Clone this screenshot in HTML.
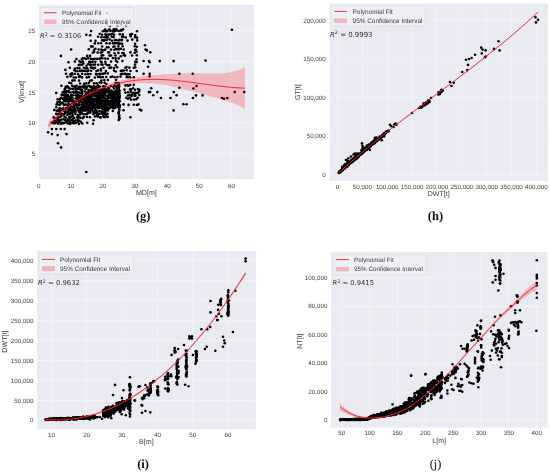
<!DOCTYPE html>
<html lang="en"><head><meta charset="utf-8"><title>Polynomial fits</title>
<style>html,body{margin:0;padding:0;background:#fff}svg{display:block}text{text-rendering:geometricPrecision}.tk text{font:6.25px "Liberation Sans",Arial,sans-serif;fill:#3a3a3a}.al{font:7.1px "Liberation Sans",Arial,sans-serif;fill:#3a3a3a}.lg{font-family:"Liberation Sans",Arial,sans-serif;fill:#3a3a3a}.r2{font-family:"DejaVu Sans","Liberation Sans",sans-serif;fill:#333}.cap{font:bold 12.5px "Liberation Serif","Times New Roman",serif;fill:#111}.rg{font-weight:normal}</style></head><body>
<svg width="550" height="473" viewBox="0 0 550 473">
<rect width="550" height="473" fill="#fff"/>
<defs><filter id="soft" x="0" y="0" width="550" height="473" filterUnits="userSpaceOnUse"><feGaussianBlur stdDeviation="0.3"/></filter></defs><g filter="url(#soft)">
<rect x="38.8" y="4.8" width="215.2" height="174.4" fill="#EAEAF2"/>
<g stroke="#fff" stroke-width="0.5" opacity="0.7"><line x1="70.9" y1="4.8" x2="70.9" y2="179.2"/><line x1="103" y1="4.8" x2="103" y2="179.2"/><line x1="135.1" y1="4.8" x2="135.1" y2="179.2"/><line x1="167.2" y1="4.8" x2="167.2" y2="179.2"/><line x1="199.3" y1="4.8" x2="199.3" y2="179.2"/><line x1="231.4" y1="4.8" x2="231.4" y2="179.2"/><line x1="38.8" y1="153.7" x2="254" y2="153.7"/><line x1="38.8" y1="123" x2="254" y2="123"/><line x1="38.8" y1="92.4" x2="254" y2="92.4"/><line x1="38.8" y1="61.7" x2="254" y2="61.7"/><line x1="38.8" y1="31.1" x2="254" y2="31.1"/></g>
<g class="tk"><text x="38.8" y="187.9" text-anchor="middle">0</text><text x="70.9" y="187.9" text-anchor="middle">10</text><text x="103" y="187.9" text-anchor="middle">20</text><text x="135.1" y="187.9" text-anchor="middle">30</text><text x="167.2" y="187.9" text-anchor="middle">40</text><text x="199.3" y="187.9" text-anchor="middle">50</text><text x="231.4" y="187.9" text-anchor="middle">60</text><text x="35.2" y="155.8" text-anchor="end">5</text><text x="35.2" y="125.2" text-anchor="end">10</text><text x="35.2" y="94.5" text-anchor="end">15</text><text x="35.2" y="63.9" text-anchor="end">20</text><text x="35.2" y="33.2" text-anchor="end">25</text></g>
<text class="al" x="146.4" y="195" text-anchor="middle">MD[m]</text>
<text class="al" transform="translate(24.4 92) rotate(-90)" text-anchor="middle">V[knot]</text>
<text class="cap" x="143.2" y="220.2" text-anchor="middle">(g)</text>
<g fill="#000"><circle cx="72.4" cy="80.6" r="1.3"/><circle cx="74.5" cy="80.4" r="1.3"/><circle cx="79" cy="80.6" r="1.3"/><circle cx="90.1" cy="80.8" r="1.3"/><circle cx="91.8" cy="80.2" r="1.3"/><circle cx="101.4" cy="80.6" r="1.3"/><circle cx="104.3" cy="80.1" r="1.3"/><circle cx="107.8" cy="80" r="1.3"/><circle cx="116.1" cy="80" r="1.3"/><circle cx="69.3" cy="82.8" r="1.3"/><circle cx="71.1" cy="83.2" r="1.3"/><circle cx="80.1" cy="83.5" r="1.3"/><circle cx="84.1" cy="83.9" r="1.3"/><circle cx="86.3" cy="83.4" r="1.3"/><circle cx="89" cy="82.8" r="1.3"/><circle cx="93.9" cy="83.4" r="1.3"/><circle cx="96.5" cy="83.3" r="1.3"/><circle cx="99.6" cy="82.5" r="1.3"/><circle cx="101.4" cy="82.8" r="1.3"/><circle cx="104.6" cy="82.8" r="1.3"/><circle cx="106.3" cy="84.1" r="1.3"/><circle cx="115.6" cy="83" r="1.3"/><circle cx="117.4" cy="83.3" r="1.3"/><circle cx="67.4" cy="86.3" r="1.3"/><circle cx="72.2" cy="85.7" r="1.3"/><circle cx="74.1" cy="86.5" r="1.3"/><circle cx="75.1" cy="86.8" r="1.3"/><circle cx="76.6" cy="85.8" r="1.3"/><circle cx="79.2" cy="86.7" r="1.3"/><circle cx="80.6" cy="87.1" r="1.3"/><circle cx="82.6" cy="86.3" r="1.3"/><circle cx="83.7" cy="86.8" r="1.3"/><circle cx="85.2" cy="86.2" r="1.3"/><circle cx="86.7" cy="86.9" r="1.3"/><circle cx="88.5" cy="85.7" r="1.3"/><circle cx="89.9" cy="86.4" r="1.3"/><circle cx="93.8" cy="86.4" r="1.3"/><circle cx="94.5" cy="86.7" r="1.3"/><circle cx="96.4" cy="86.8" r="1.3"/><circle cx="97.9" cy="85.4" r="1.3"/><circle cx="99.7" cy="86.6" r="1.3"/><circle cx="103" cy="86.2" r="1.3"/><circle cx="104.8" cy="86.5" r="1.3"/><circle cx="110.9" cy="86.1" r="1.3"/><circle cx="114.1" cy="85.9" r="1.3"/><circle cx="115.8" cy="86.2" r="1.3"/><circle cx="117.7" cy="86" r="1.3"/><circle cx="118.6" cy="85.7" r="1.3"/><circle cx="61.4" cy="85.8" r="1.3"/><circle cx="64.8" cy="89" r="1.3"/><circle cx="70.4" cy="88.8" r="1.3"/><circle cx="72.5" cy="88.8" r="1.3"/><circle cx="73.4" cy="89.1" r="1.3"/><circle cx="75.6" cy="89.3" r="1.3"/><circle cx="76.8" cy="89.4" r="1.3"/><circle cx="78.4" cy="89" r="1.3"/><circle cx="80.7" cy="89.8" r="1.3"/><circle cx="81.8" cy="89.8" r="1.3"/><circle cx="85.5" cy="89.1" r="1.3"/><circle cx="86.5" cy="88.8" r="1.3"/><circle cx="88.6" cy="90.1" r="1.3"/><circle cx="91.7" cy="89.2" r="1.3"/><circle cx="95.9" cy="89.7" r="1.3"/><circle cx="97.1" cy="89.6" r="1.3"/><circle cx="99.8" cy="89.9" r="1.3"/><circle cx="101.8" cy="89.2" r="1.3"/><circle cx="103" cy="89.3" r="1.3"/><circle cx="104.8" cy="89.2" r="1.3"/><circle cx="106.4" cy="89.7" r="1.3"/><circle cx="107.4" cy="89.4" r="1.3"/><circle cx="109" cy="88.3" r="1.3"/><circle cx="117.5" cy="89.3" r="1.3"/><circle cx="62.8" cy="92.4" r="1.3"/><circle cx="64.6" cy="92.4" r="1.3"/><circle cx="65.9" cy="92.6" r="1.3"/><circle cx="68.2" cy="91.8" r="1.3"/><circle cx="69.5" cy="92.3" r="1.3"/><circle cx="70.8" cy="92.5" r="1.3"/><circle cx="73" cy="92" r="1.3"/><circle cx="73.9" cy="92.7" r="1.3"/><circle cx="75.9" cy="92.3" r="1.3"/><circle cx="77" cy="92.4" r="1.3"/><circle cx="78.8" cy="92.5" r="1.3"/><circle cx="80.6" cy="93.2" r="1.3"/><circle cx="81.9" cy="91.9" r="1.3"/><circle cx="84.9" cy="91.5" r="1.3"/><circle cx="87.1" cy="92.7" r="1.3"/><circle cx="88.6" cy="92.9" r="1.3"/><circle cx="91.7" cy="92.5" r="1.3"/><circle cx="93.5" cy="93" r="1.3"/><circle cx="95.4" cy="92.8" r="1.3"/><circle cx="97.1" cy="92.2" r="1.3"/><circle cx="99.7" cy="92.7" r="1.3"/><circle cx="101.2" cy="92.3" r="1.3"/><circle cx="103.3" cy="92.9" r="1.3"/><circle cx="104.4" cy="92.2" r="1.3"/><circle cx="106.3" cy="92.2" r="1.3"/><circle cx="107.8" cy="92.2" r="1.3"/><circle cx="109.6" cy="91.3" r="1.3"/><circle cx="111" cy="93.3" r="1.3"/><circle cx="116.1" cy="92" r="1.3"/><circle cx="116.9" cy="92.6" r="1.3"/><circle cx="119.3" cy="91.1" r="1.3"/><circle cx="56.2" cy="93" r="1.3"/><circle cx="61.6" cy="94.8" r="1.3"/><circle cx="62.7" cy="95.1" r="1.3"/><circle cx="64.4" cy="95.6" r="1.3"/><circle cx="65.6" cy="95" r="1.3"/><circle cx="67.8" cy="94.9" r="1.3"/><circle cx="71" cy="95.2" r="1.3"/><circle cx="72.8" cy="95.3" r="1.3"/><circle cx="76" cy="95.2" r="1.3"/><circle cx="77.8" cy="95.1" r="1.3"/><circle cx="78.8" cy="95.6" r="1.3"/><circle cx="81.3" cy="95.5" r="1.3"/><circle cx="83.8" cy="96.3" r="1.3"/><circle cx="85.7" cy="96.1" r="1.3"/><circle cx="87.1" cy="96" r="1.3"/><circle cx="88.4" cy="95.4" r="1.3"/><circle cx="89.9" cy="95.6" r="1.3"/><circle cx="91.4" cy="95.4" r="1.3"/><circle cx="92.9" cy="95.4" r="1.3"/><circle cx="94.7" cy="94.9" r="1.3"/><circle cx="97.1" cy="95.8" r="1.3"/><circle cx="98.1" cy="95.8" r="1.3"/><circle cx="99.7" cy="95.1" r="1.3"/><circle cx="101" cy="95.5" r="1.3"/><circle cx="103.3" cy="95.9" r="1.3"/><circle cx="104.1" cy="95.1" r="1.3"/><circle cx="105.6" cy="95.4" r="1.3"/><circle cx="107.3" cy="96" r="1.3"/><circle cx="109.1" cy="95.2" r="1.3"/><circle cx="110.8" cy="95.1" r="1.3"/><circle cx="112.8" cy="96" r="1.3"/><circle cx="113.6" cy="94.4" r="1.3"/><circle cx="117.4" cy="95.3" r="1.3"/><circle cx="119.7" cy="96" r="1.3"/><circle cx="57.7" cy="99.2" r="1.3"/><circle cx="59.9" cy="99" r="1.3"/><circle cx="61.2" cy="97.7" r="1.3"/><circle cx="63" cy="99.1" r="1.3"/><circle cx="64.1" cy="98.6" r="1.3"/><circle cx="65.8" cy="97.7" r="1.3"/><circle cx="67.6" cy="99" r="1.3"/><circle cx="69.2" cy="98.5" r="1.3"/><circle cx="70.9" cy="99.1" r="1.3"/><circle cx="72.5" cy="97.8" r="1.3"/><circle cx="75.5" cy="98.5" r="1.3"/><circle cx="77.1" cy="98.5" r="1.3"/><circle cx="79.1" cy="98.5" r="1.3"/><circle cx="80.5" cy="98.9" r="1.3"/><circle cx="82.1" cy="98.8" r="1.3"/><circle cx="83.7" cy="99.2" r="1.3"/><circle cx="84.9" cy="98.8" r="1.3"/><circle cx="86.3" cy="98.4" r="1.3"/><circle cx="88.5" cy="98.7" r="1.3"/><circle cx="89.8" cy="98.6" r="1.3"/><circle cx="91.8" cy="99.1" r="1.3"/><circle cx="93.4" cy="98.6" r="1.3"/><circle cx="95.2" cy="99.4" r="1.3"/><circle cx="96.7" cy="98.3" r="1.3"/><circle cx="98" cy="98.6" r="1.3"/><circle cx="99.9" cy="98.4" r="1.3"/><circle cx="101.6" cy="97.8" r="1.3"/><circle cx="104.1" cy="98" r="1.3"/><circle cx="105.4" cy="98.3" r="1.3"/><circle cx="109.2" cy="97.8" r="1.3"/><circle cx="111.1" cy="97.5" r="1.3"/><circle cx="112.6" cy="98.6" r="1.3"/><circle cx="114" cy="98.2" r="1.3"/><circle cx="115.9" cy="97.9" r="1.3"/><circle cx="117.4" cy="98.1" r="1.3"/><circle cx="119.4" cy="98.3" r="1.3"/><circle cx="57.5" cy="102.1" r="1.3"/><circle cx="59.2" cy="101.6" r="1.3"/><circle cx="60.1" cy="101.7" r="1.3"/><circle cx="62" cy="102.8" r="1.3"/><circle cx="64.1" cy="101.3" r="1.3"/><circle cx="65.4" cy="101.1" r="1.3"/><circle cx="67" cy="101.2" r="1.3"/><circle cx="69.2" cy="100.9" r="1.3"/><circle cx="70.4" cy="101.1" r="1.3"/><circle cx="71.9" cy="101" r="1.3"/><circle cx="73.4" cy="101.6" r="1.3"/><circle cx="75.5" cy="101.6" r="1.3"/><circle cx="76.4" cy="101.6" r="1.3"/><circle cx="78.5" cy="101" r="1.3"/><circle cx="79.6" cy="101.4" r="1.3"/><circle cx="81" cy="101" r="1.3"/><circle cx="83.3" cy="101.8" r="1.3"/><circle cx="84.6" cy="100.9" r="1.3"/><circle cx="86" cy="101.4" r="1.3"/><circle cx="88.1" cy="101.4" r="1.3"/><circle cx="89.5" cy="101.7" r="1.3"/><circle cx="91.2" cy="101" r="1.3"/><circle cx="92.6" cy="100.9" r="1.3"/><circle cx="95" cy="101.5" r="1.3"/><circle cx="96.4" cy="101.6" r="1.3"/><circle cx="97.6" cy="101.3" r="1.3"/><circle cx="98.6" cy="102.3" r="1.3"/><circle cx="100.5" cy="101.6" r="1.3"/><circle cx="102.6" cy="101.7" r="1.3"/><circle cx="105.5" cy="102.1" r="1.3"/><circle cx="107.2" cy="102" r="1.3"/><circle cx="108.7" cy="101.2" r="1.3"/><circle cx="110.1" cy="101.8" r="1.3"/><circle cx="112.3" cy="101.6" r="1.3"/><circle cx="114.3" cy="101.7" r="1.3"/><circle cx="115.6" cy="101.3" r="1.3"/><circle cx="116.6" cy="100.5" r="1.3"/><circle cx="118.6" cy="101.2" r="1.3"/><circle cx="119.8" cy="101.2" r="1.3"/><circle cx="56.6" cy="104.2" r="1.3"/><circle cx="57.5" cy="104.4" r="1.3"/><circle cx="59.6" cy="104.9" r="1.3"/><circle cx="60.5" cy="103.9" r="1.3"/><circle cx="63.2" cy="103.5" r="1.3"/><circle cx="63.9" cy="105.1" r="1.3"/><circle cx="65.9" cy="104.6" r="1.3"/><circle cx="67.8" cy="105.4" r="1.3"/><circle cx="69.3" cy="104.8" r="1.3"/><circle cx="70.7" cy="104.9" r="1.3"/><circle cx="72.5" cy="103.6" r="1.3"/><circle cx="74.5" cy="104.2" r="1.3"/><circle cx="76.2" cy="104.6" r="1.3"/><circle cx="77.2" cy="104.6" r="1.3"/><circle cx="78.9" cy="105.2" r="1.3"/><circle cx="81.3" cy="104.6" r="1.3"/><circle cx="82.3" cy="104.2" r="1.3"/><circle cx="83.7" cy="104.1" r="1.3"/><circle cx="85.4" cy="103.8" r="1.3"/><circle cx="87" cy="104.9" r="1.3"/><circle cx="87.9" cy="105" r="1.3"/><circle cx="90.4" cy="104.3" r="1.3"/><circle cx="91.3" cy="104.2" r="1.3"/><circle cx="93.2" cy="104.3" r="1.3"/><circle cx="94.3" cy="104.8" r="1.3"/><circle cx="96.4" cy="104.4" r="1.3"/><circle cx="98.7" cy="104.7" r="1.3"/><circle cx="99.5" cy="105.1" r="1.3"/><circle cx="101.5" cy="105" r="1.3"/><circle cx="103" cy="105.7" r="1.3"/><circle cx="104.6" cy="104.4" r="1.3"/><circle cx="106.4" cy="104.6" r="1.3"/><circle cx="108" cy="104.4" r="1.3"/><circle cx="109" cy="104.7" r="1.3"/><circle cx="111.1" cy="105.4" r="1.3"/><circle cx="112.7" cy="105.3" r="1.3"/><circle cx="114.1" cy="104.7" r="1.3"/><circle cx="115.9" cy="105" r="1.3"/><circle cx="117.2" cy="104.6" r="1.3"/><circle cx="119.9" cy="105.2" r="1.3"/><circle cx="56.2" cy="107.2" r="1.3"/><circle cx="59.7" cy="108.2" r="1.3"/><circle cx="62.2" cy="108.5" r="1.3"/><circle cx="66" cy="108.7" r="1.3"/><circle cx="67.9" cy="107.4" r="1.3"/><circle cx="69" cy="107.3" r="1.3"/><circle cx="70.5" cy="108.1" r="1.3"/><circle cx="72.6" cy="107" r="1.3"/><circle cx="74.4" cy="108" r="1.3"/><circle cx="76.5" cy="107.3" r="1.3"/><circle cx="77.3" cy="107.5" r="1.3"/><circle cx="78.8" cy="108.6" r="1.3"/><circle cx="80.5" cy="107.6" r="1.3"/><circle cx="82.2" cy="107.2" r="1.3"/><circle cx="84" cy="106.5" r="1.3"/><circle cx="85.4" cy="107.6" r="1.3"/><circle cx="86.7" cy="107.7" r="1.3"/><circle cx="88.8" cy="107.9" r="1.3"/><circle cx="90.1" cy="107.6" r="1.3"/><circle cx="91.4" cy="107.7" r="1.3"/><circle cx="93.1" cy="107.8" r="1.3"/><circle cx="94.6" cy="107.6" r="1.3"/><circle cx="96.9" cy="106.4" r="1.3"/><circle cx="98.1" cy="107.3" r="1.3"/><circle cx="99.8" cy="106.8" r="1.3"/><circle cx="101.7" cy="107.7" r="1.3"/><circle cx="103.1" cy="108" r="1.3"/><circle cx="104.8" cy="107.7" r="1.3"/><circle cx="106" cy="108.9" r="1.3"/><circle cx="108" cy="107.6" r="1.3"/><circle cx="109.8" cy="107.9" r="1.3"/><circle cx="111" cy="107" r="1.3"/><circle cx="113" cy="108" r="1.3"/><circle cx="114.6" cy="107.7" r="1.3"/><circle cx="115.7" cy="107.2" r="1.3"/><circle cx="119.2" cy="107.3" r="1.3"/><circle cx="56.6" cy="110.8" r="1.3"/><circle cx="57.9" cy="110.7" r="1.3"/><circle cx="59.5" cy="111" r="1.3"/><circle cx="61.3" cy="110.3" r="1.3"/><circle cx="63.1" cy="109.5" r="1.3"/><circle cx="64.7" cy="110.9" r="1.3"/><circle cx="66.6" cy="111.8" r="1.3"/><circle cx="69.5" cy="110.3" r="1.3"/><circle cx="71" cy="110.4" r="1.3"/><circle cx="72.8" cy="112" r="1.3"/><circle cx="73.8" cy="110.2" r="1.3"/><circle cx="75.4" cy="110.5" r="1.3"/><circle cx="78.4" cy="110.8" r="1.3"/><circle cx="80.5" cy="110.2" r="1.3"/><circle cx="82.5" cy="110.7" r="1.3"/><circle cx="83.9" cy="110.2" r="1.3"/><circle cx="85.3" cy="110.8" r="1.3"/><circle cx="86.7" cy="110.2" r="1.3"/><circle cx="88.7" cy="111.2" r="1.3"/><circle cx="90.3" cy="111" r="1.3"/><circle cx="91.9" cy="109.8" r="1.3"/><circle cx="93.2" cy="111" r="1.3"/><circle cx="95" cy="110.7" r="1.3"/><circle cx="96" cy="110.9" r="1.3"/><circle cx="99.6" cy="111.1" r="1.3"/><circle cx="101.5" cy="111.5" r="1.3"/><circle cx="102.7" cy="111.9" r="1.3"/><circle cx="105.1" cy="111.3" r="1.3"/><circle cx="105.8" cy="110.6" r="1.3"/><circle cx="107.8" cy="110.4" r="1.3"/><circle cx="112.8" cy="110.9" r="1.3"/><circle cx="56.7" cy="114" r="1.3"/><circle cx="58" cy="114.6" r="1.3"/><circle cx="60.4" cy="113.2" r="1.3"/><circle cx="61" cy="114" r="1.3"/><circle cx="62.6" cy="114.2" r="1.3"/><circle cx="67.3" cy="114.7" r="1.3"/><circle cx="68.6" cy="113.4" r="1.3"/><circle cx="71.1" cy="112.8" r="1.3"/><circle cx="72.1" cy="113.3" r="1.3"/><circle cx="75.4" cy="113.9" r="1.3"/><circle cx="77.8" cy="115.1" r="1.3"/><circle cx="80.5" cy="113.7" r="1.3"/><circle cx="82.1" cy="113.2" r="1.3"/><circle cx="83.7" cy="114.2" r="1.3"/><circle cx="85.4" cy="114.3" r="1.3"/><circle cx="87.2" cy="113.6" r="1.3"/><circle cx="89.2" cy="112.5" r="1.3"/><circle cx="90.3" cy="112.4" r="1.3"/><circle cx="93.4" cy="113.9" r="1.3"/><circle cx="96.4" cy="113.4" r="1.3"/><circle cx="98" cy="114.5" r="1.3"/><circle cx="99.5" cy="113.9" r="1.3"/><circle cx="101.5" cy="113.5" r="1.3"/><circle cx="103" cy="113.9" r="1.3"/><circle cx="104.8" cy="114.4" r="1.3"/><circle cx="106.2" cy="114.2" r="1.3"/><circle cx="107.6" cy="113.7" r="1.3"/><circle cx="53.6" cy="117.3" r="1.3"/><circle cx="54.6" cy="118" r="1.3"/><circle cx="58.3" cy="117.6" r="1.3"/><circle cx="60.2" cy="116.7" r="1.3"/><circle cx="61.1" cy="116.3" r="1.3"/><circle cx="64.5" cy="116.7" r="1.3"/><circle cx="65.9" cy="117.5" r="1.3"/><circle cx="69.3" cy="116.8" r="1.3"/><circle cx="70.6" cy="116.9" r="1.3"/><circle cx="72.6" cy="116.3" r="1.3"/><circle cx="73.8" cy="117.8" r="1.3"/><circle cx="77.3" cy="117.4" r="1.3"/><circle cx="78.9" cy="116.6" r="1.3"/><circle cx="80.4" cy="117.9" r="1.3"/><circle cx="82.7" cy="118.1" r="1.3"/><circle cx="83.8" cy="117.1" r="1.3"/><circle cx="86.9" cy="116.9" r="1.3"/><circle cx="89.9" cy="117.2" r="1.3"/><circle cx="94.8" cy="116.4" r="1.3"/><circle cx="96.9" cy="116.1" r="1.3"/><circle cx="98.1" cy="116.4" r="1.3"/><circle cx="99.9" cy="117.2" r="1.3"/><circle cx="100.8" cy="117.4" r="1.3"/><circle cx="103.3" cy="116.3" r="1.3"/><circle cx="104.5" cy="117.3" r="1.3"/><circle cx="106.1" cy="116.5" r="1.3"/><circle cx="107.7" cy="116.9" r="1.3"/><circle cx="54.6" cy="120.7" r="1.3"/><circle cx="56.9" cy="119.8" r="1.3"/><circle cx="58.3" cy="119.2" r="1.3"/><circle cx="61.2" cy="119.8" r="1.3"/><circle cx="63.3" cy="119.3" r="1.3"/><circle cx="64.9" cy="119.6" r="1.3"/><circle cx="67.8" cy="120.1" r="1.3"/><circle cx="69.2" cy="120.4" r="1.3"/><circle cx="72.6" cy="119.4" r="1.3"/><circle cx="74.2" cy="121.3" r="1.3"/><circle cx="75.6" cy="120.5" r="1.3"/><circle cx="77.7" cy="120.2" r="1.3"/><circle cx="93.6" cy="120.3" r="1.3"/><circle cx="51.9" cy="122.5" r="1.3"/><circle cx="53.4" cy="123.3" r="1.3"/><circle cx="55" cy="122.7" r="1.3"/><circle cx="56.6" cy="122.4" r="1.3"/><circle cx="58.1" cy="123.8" r="1.3"/><circle cx="59.2" cy="122.1" r="1.3"/><circle cx="61.7" cy="122.7" r="1.3"/><circle cx="63.2" cy="123.1" r="1.3"/><circle cx="64.5" cy="122.9" r="1.3"/><circle cx="66.1" cy="122.1" r="1.3"/><circle cx="67.8" cy="123.5" r="1.3"/><circle cx="69.6" cy="123" r="1.3"/><circle cx="70.4" cy="122.4" r="1.3"/><circle cx="72.7" cy="122.9" r="1.3"/><circle cx="73.9" cy="122.9" r="1.3"/><circle cx="75.8" cy="122.9" r="1.3"/><circle cx="77.8" cy="122" r="1.3"/><circle cx="78.9" cy="123.9" r="1.3"/><circle cx="81.4" cy="122.6" r="1.3"/><circle cx="82.3" cy="123.5" r="1.3"/><circle cx="87.2" cy="122.8" r="1.3"/><circle cx="93.1" cy="123.7" r="1.3"/><circle cx="65.1" cy="113.1" r="1.3"/><circle cx="67.6" cy="112.5" r="1.3"/><circle cx="70.5" cy="113" r="1.3"/><circle cx="75.4" cy="112" r="1.3"/><circle cx="79.1" cy="112" r="1.3"/><circle cx="80.4" cy="112" r="1.3"/><circle cx="87.5" cy="113.5" r="1.3"/><circle cx="93.7" cy="112.2" r="1.3"/><circle cx="95.2" cy="112.7" r="1.3"/><circle cx="97.5" cy="111.9" r="1.3"/><circle cx="104.6" cy="112.9" r="1.3"/><circle cx="105.5" cy="113.2" r="1.3"/><circle cx="66.1" cy="108.1" r="1.3"/><circle cx="67.7" cy="108.5" r="1.3"/><circle cx="69.2" cy="108.7" r="1.3"/><circle cx="70.8" cy="109.9" r="1.3"/><circle cx="73" cy="109.6" r="1.3"/><circle cx="75.3" cy="109.9" r="1.3"/><circle cx="78.1" cy="108.9" r="1.3"/><circle cx="81.1" cy="108.8" r="1.3"/><circle cx="82.4" cy="109" r="1.3"/><circle cx="83.9" cy="109.5" r="1.3"/><circle cx="84.8" cy="109.5" r="1.3"/><circle cx="86.9" cy="109.7" r="1.3"/><circle cx="88.7" cy="110" r="1.3"/><circle cx="89.9" cy="108.8" r="1.3"/><circle cx="95.4" cy="110" r="1.3"/><circle cx="96.4" cy="110.7" r="1.3"/><circle cx="104.6" cy="110" r="1.3"/><circle cx="106.4" cy="109.1" r="1.3"/><circle cx="107.8" cy="107.9" r="1.3"/><circle cx="69.7" cy="106.7" r="1.3"/><circle cx="70.9" cy="106.7" r="1.3"/><circle cx="74" cy="105.7" r="1.3"/><circle cx="77" cy="106" r="1.3"/><circle cx="82.4" cy="106.2" r="1.3"/><circle cx="83.5" cy="106.6" r="1.3"/><circle cx="85.2" cy="106.4" r="1.3"/><circle cx="86.8" cy="106.3" r="1.3"/><circle cx="90.3" cy="105.2" r="1.3"/><circle cx="92.2" cy="106.3" r="1.3"/><circle cx="94.2" cy="106.8" r="1.3"/><circle cx="95.5" cy="105.9" r="1.3"/><circle cx="97" cy="106.5" r="1.3"/><circle cx="97.9" cy="106.5" r="1.3"/><circle cx="99.7" cy="106.1" r="1.3"/><circle cx="100.9" cy="105" r="1.3"/><circle cx="104.5" cy="106.2" r="1.3"/><circle cx="106.3" cy="107.1" r="1.3"/><circle cx="111.4" cy="105.9" r="1.3"/><circle cx="113.1" cy="106.8" r="1.3"/><circle cx="117.3" cy="106.1" r="1.3"/><circle cx="119.6" cy="106.7" r="1.3"/><circle cx="68.4" cy="103.1" r="1.3"/><circle cx="73" cy="103.7" r="1.3"/><circle cx="74.6" cy="103" r="1.3"/><circle cx="75.8" cy="103.6" r="1.3"/><circle cx="79.2" cy="103.1" r="1.3"/><circle cx="81.9" cy="102" r="1.3"/><circle cx="84.3" cy="103.7" r="1.3"/><circle cx="85.6" cy="102.7" r="1.3"/><circle cx="86.7" cy="103.1" r="1.3"/><circle cx="90.4" cy="103.3" r="1.3"/><circle cx="92.2" cy="102.7" r="1.3"/><circle cx="101.1" cy="103" r="1.3"/><circle cx="102.4" cy="103.2" r="1.3"/><circle cx="104.5" cy="104" r="1.3"/><circle cx="107.8" cy="103.7" r="1.3"/><circle cx="109" cy="103.2" r="1.3"/><circle cx="110.8" cy="103.4" r="1.3"/><circle cx="112.5" cy="103.2" r="1.3"/><circle cx="115.1" cy="103.5" r="1.3"/><circle cx="118.8" cy="103.6" r="1.3"/><circle cx="64.2" cy="99.9" r="1.3"/><circle cx="65.8" cy="99.9" r="1.3"/><circle cx="67.8" cy="100.4" r="1.3"/><circle cx="69" cy="100.5" r="1.3"/><circle cx="71.2" cy="100.5" r="1.3"/><circle cx="72.9" cy="100.3" r="1.3"/><circle cx="77.2" cy="98.8" r="1.3"/><circle cx="78.8" cy="100.3" r="1.3"/><circle cx="84.4" cy="99.9" r="1.3"/><circle cx="87.1" cy="100.8" r="1.3"/><circle cx="88.5" cy="100.1" r="1.3"/><circle cx="91.6" cy="100.3" r="1.3"/><circle cx="95.1" cy="100.7" r="1.3"/><circle cx="98.2" cy="100.2" r="1.3"/><circle cx="103.4" cy="100.6" r="1.3"/><circle cx="104.9" cy="100.3" r="1.3"/><circle cx="105.7" cy="101" r="1.3"/><circle cx="107.7" cy="100.2" r="1.3"/><circle cx="109.5" cy="101.2" r="1.3"/><circle cx="112.4" cy="100.2" r="1.3"/><circle cx="113.8" cy="100.6" r="1.3"/><circle cx="116" cy="99.7" r="1.3"/><circle cx="118.8" cy="99.8" r="1.3"/><circle cx="64.9" cy="97.2" r="1.3"/><circle cx="66.2" cy="96.4" r="1.3"/><circle cx="68" cy="96.9" r="1.3"/><circle cx="69.7" cy="97" r="1.3"/><circle cx="71" cy="96.9" r="1.3"/><circle cx="77.5" cy="96.8" r="1.3"/><circle cx="78.2" cy="97" r="1.3"/><circle cx="80.3" cy="96.9" r="1.3"/><circle cx="82.4" cy="97.3" r="1.3"/><circle cx="85.6" cy="97.1" r="1.3"/><circle cx="86.7" cy="97.3" r="1.3"/><circle cx="89.9" cy="97.1" r="1.3"/><circle cx="92.1" cy="96" r="1.3"/><circle cx="95.4" cy="96.3" r="1.3"/><circle cx="97.9" cy="97" r="1.3"/><circle cx="99.3" cy="96.4" r="1.3"/><circle cx="102.1" cy="96.9" r="1.3"/><circle cx="103.3" cy="96" r="1.3"/><circle cx="108.3" cy="97.2" r="1.3"/><circle cx="111.1" cy="97.6" r="1.3"/><circle cx="112.4" cy="96.8" r="1.3"/><circle cx="116.1" cy="97.8" r="1.3"/><circle cx="117.7" cy="96.7" r="1.3"/><circle cx="118.9" cy="97.5" r="1.3"/><circle cx="64.1" cy="95.1" r="1.3"/><circle cx="75.8" cy="95.2" r="1.3"/><circle cx="76.9" cy="94.5" r="1.3"/><circle cx="80" cy="92.9" r="1.3"/><circle cx="82.2" cy="93.8" r="1.3"/><circle cx="85.7" cy="94.3" r="1.3"/><circle cx="86.7" cy="94.1" r="1.3"/><circle cx="88.7" cy="93.8" r="1.3"/><circle cx="93.5" cy="94.3" r="1.3"/><circle cx="94.6" cy="93.3" r="1.3"/><circle cx="98" cy="93.8" r="1.3"/><circle cx="99.5" cy="93.6" r="1.3"/><circle cx="104.5" cy="93.7" r="1.3"/><circle cx="109.2" cy="94.6" r="1.3"/><circle cx="111.1" cy="94.4" r="1.3"/><circle cx="113" cy="93.3" r="1.3"/><circle cx="114.1" cy="94.5" r="1.3"/><circle cx="115.9" cy="93.3" r="1.3"/><circle cx="119.3" cy="93.5" r="1.3"/><circle cx="64.6" cy="90.7" r="1.3"/><circle cx="66.4" cy="91.1" r="1.3"/><circle cx="68.8" cy="90.9" r="1.3"/><circle cx="75.6" cy="91.5" r="1.3"/><circle cx="82.4" cy="91.4" r="1.3"/><circle cx="90.3" cy="91.4" r="1.3"/><circle cx="92.6" cy="90.5" r="1.3"/><circle cx="94.8" cy="91.6" r="1.3"/><circle cx="98.5" cy="90" r="1.3"/><circle cx="100.1" cy="91" r="1.3"/><circle cx="105" cy="90.7" r="1.3"/><circle cx="106.1" cy="90.6" r="1.3"/><circle cx="107.7" cy="90.8" r="1.3"/><circle cx="109.4" cy="91.2" r="1.3"/><circle cx="111.5" cy="90.6" r="1.3"/><circle cx="115.8" cy="90.7" r="1.3"/><circle cx="65.2" cy="88.2" r="1.3"/><circle cx="65.8" cy="86.8" r="1.3"/><circle cx="67.7" cy="87.2" r="1.3"/><circle cx="68.9" cy="87.9" r="1.3"/><circle cx="77.2" cy="88.2" r="1.3"/><circle cx="79.4" cy="88.8" r="1.3"/><circle cx="80.4" cy="87.5" r="1.3"/><circle cx="83.4" cy="87.4" r="1.3"/><circle cx="85.3" cy="87.5" r="1.3"/><circle cx="86.5" cy="87.4" r="1.3"/><circle cx="90.5" cy="87.1" r="1.3"/><circle cx="91.5" cy="86.9" r="1.3"/><circle cx="93.1" cy="88.4" r="1.3"/><circle cx="94.8" cy="88.6" r="1.3"/><circle cx="97.8" cy="87.2" r="1.3"/><circle cx="104.5" cy="87.7" r="1.3"/><circle cx="108" cy="88.4" r="1.3"/><circle cx="113.2" cy="87" r="1.3"/><circle cx="114.2" cy="88.5" r="1.3"/><circle cx="115.9" cy="86.3" r="1.3"/><circle cx="116.8" cy="88.1" r="1.3"/><circle cx="118.6" cy="88.2" r="1.3"/><circle cx="55" cy="123.2" r="1.3"/><circle cx="60.8" cy="123.7" r="1.3"/><circle cx="62.4" cy="123.1" r="1.3"/><circle cx="67.3" cy="121.8" r="1.3"/><circle cx="70.3" cy="124" r="1.3"/><circle cx="73.1" cy="122.7" r="1.3"/><circle cx="73.9" cy="123.2" r="1.3"/><circle cx="54.5" cy="121.2" r="1.3"/><circle cx="56.2" cy="122.1" r="1.3"/><circle cx="58.1" cy="120.4" r="1.3"/><circle cx="59.7" cy="120.6" r="1.3"/><circle cx="65.9" cy="120.3" r="1.3"/><circle cx="68" cy="119.2" r="1.3"/><circle cx="71.4" cy="120" r="1.3"/><circle cx="72.2" cy="120.2" r="1.3"/><circle cx="77.8" cy="120.5" r="1.3"/><circle cx="78.8" cy="120.6" r="1.3"/><circle cx="80.5" cy="121.5" r="1.3"/><circle cx="57.7" cy="118.1" r="1.3"/><circle cx="69.9" cy="117.7" r="1.3"/><circle cx="72.6" cy="115" r="1.3"/><circle cx="74.3" cy="118" r="1.3"/><circle cx="78" cy="117.5" r="1.3"/><circle cx="56.3" cy="113.8" r="1.3"/><circle cx="58.6" cy="113.9" r="1.3"/><circle cx="61.2" cy="113.7" r="1.3"/><circle cx="64.1" cy="114.6" r="1.3"/><circle cx="69.6" cy="113.9" r="1.3"/><circle cx="80.3" cy="114.3" r="1.3"/><circle cx="54.3" cy="110" r="1.3"/><circle cx="58.4" cy="110.1" r="1.3"/><circle cx="63.2" cy="108.5" r="1.3"/><circle cx="64.5" cy="111" r="1.3"/><circle cx="68.1" cy="111.6" r="1.3"/><circle cx="72.9" cy="110.1" r="1.3"/><circle cx="80.1" cy="110.3" r="1.3"/><circle cx="87.1" cy="107.4" r="1.3"/><circle cx="88.7" cy="107.2" r="1.3"/><circle cx="90.7" cy="108.7" r="1.3"/><circle cx="91.7" cy="107.8" r="1.3"/><circle cx="92.8" cy="107.9" r="1.3"/><circle cx="95.1" cy="108.5" r="1.3"/><circle cx="98.1" cy="108.1" r="1.3"/><circle cx="99.4" cy="108" r="1.3"/><circle cx="102.5" cy="107.8" r="1.3"/><circle cx="108" cy="107.8" r="1.3"/><circle cx="109" cy="108.6" r="1.3"/><circle cx="110.8" cy="107.6" r="1.3"/><circle cx="114.7" cy="108.1" r="1.3"/><circle cx="115.6" cy="107.2" r="1.3"/><circle cx="88.7" cy="104.7" r="1.3"/><circle cx="93" cy="106.3" r="1.3"/><circle cx="97.2" cy="107.2" r="1.3"/><circle cx="99.6" cy="106.1" r="1.3"/><circle cx="101.4" cy="105.9" r="1.3"/><circle cx="105.1" cy="104.9" r="1.3"/><circle cx="110.8" cy="106.5" r="1.3"/><circle cx="112.4" cy="106.2" r="1.3"/><circle cx="115.9" cy="106.5" r="1.3"/><circle cx="118.1" cy="106.8" r="1.3"/><circle cx="87.3" cy="103.5" r="1.3"/><circle cx="92.1" cy="105.1" r="1.3"/><circle cx="93.8" cy="104.6" r="1.3"/><circle cx="97.1" cy="105.2" r="1.3"/><circle cx="99.5" cy="104.6" r="1.3"/><circle cx="101.1" cy="105.5" r="1.3"/><circle cx="105.2" cy="104.3" r="1.3"/><circle cx="106" cy="104.7" r="1.3"/><circle cx="112.5" cy="105.2" r="1.3"/><circle cx="114.2" cy="104" r="1.3"/><circle cx="117.5" cy="104.7" r="1.3"/><circle cx="87.2" cy="102.7" r="1.3"/><circle cx="93.4" cy="103.3" r="1.3"/><circle cx="96.6" cy="103.7" r="1.3"/><circle cx="98.5" cy="103.4" r="1.3"/><circle cx="109.5" cy="103" r="1.3"/><circle cx="110.8" cy="105.1" r="1.3"/><circle cx="114.3" cy="102.5" r="1.3"/><circle cx="117.4" cy="103.2" r="1.3"/><circle cx="88.9" cy="101.6" r="1.3"/><circle cx="91.8" cy="101.6" r="1.3"/><circle cx="93.6" cy="101.4" r="1.3"/><circle cx="98.1" cy="101.7" r="1.3"/><circle cx="101.6" cy="101.8" r="1.3"/><circle cx="104.8" cy="101.6" r="1.3"/><circle cx="105.8" cy="101.3" r="1.3"/><circle cx="107.7" cy="102.2" r="1.3"/><circle cx="110.6" cy="101" r="1.3"/><circle cx="114.5" cy="101.9" r="1.3"/><circle cx="86.9" cy="99.5" r="1.3"/><circle cx="92" cy="99.2" r="1.3"/><circle cx="97.1" cy="99.3" r="1.3"/><circle cx="99.8" cy="100.1" r="1.3"/><circle cx="101.3" cy="99.7" r="1.3"/><circle cx="104.7" cy="100.2" r="1.3"/><circle cx="106.1" cy="99.6" r="1.3"/><circle cx="112.9" cy="100.6" r="1.3"/><circle cx="115.3" cy="100.5" r="1.3"/><circle cx="87.2" cy="98.6" r="1.3"/><circle cx="91.5" cy="98.5" r="1.3"/><circle cx="94.8" cy="99.1" r="1.3"/><circle cx="99.5" cy="98.2" r="1.3"/><circle cx="101.3" cy="98.3" r="1.3"/><circle cx="104.6" cy="98.9" r="1.3"/><circle cx="107.6" cy="98.6" r="1.3"/><circle cx="110.8" cy="98.5" r="1.3"/><circle cx="87.3" cy="96.4" r="1.3"/><circle cx="88.9" cy="97" r="1.3"/><circle cx="90.2" cy="96.8" r="1.3"/><circle cx="99.8" cy="97.9" r="1.3"/><circle cx="103" cy="96" r="1.3"/><circle cx="112.4" cy="97.3" r="1.3"/><circle cx="114" cy="97" r="1.3"/><circle cx="119" cy="96.7" r="1.3"/><circle cx="86.7" cy="95.7" r="1.3"/><circle cx="91.7" cy="95.4" r="1.3"/><circle cx="94.8" cy="94.8" r="1.3"/><circle cx="98.2" cy="95.1" r="1.3"/><circle cx="101.5" cy="94.9" r="1.3"/><circle cx="112.6" cy="95.9" r="1.3"/><circle cx="114.4" cy="96.3" r="1.3"/><circle cx="115.7" cy="94.4" r="1.3"/><circle cx="88.4" cy="95.1" r="1.3"/><circle cx="97.3" cy="93.6" r="1.3"/><circle cx="100" cy="94.2" r="1.3"/><circle cx="102.4" cy="92.8" r="1.3"/><circle cx="109" cy="94.2" r="1.3"/><circle cx="113" cy="94.1" r="1.3"/><circle cx="114.4" cy="94.5" r="1.3"/><circle cx="117.8" cy="93.6" r="1.3"/><circle cx="91.7" cy="92.8" r="1.3"/><circle cx="93.6" cy="92.7" r="1.3"/><circle cx="94.9" cy="92.5" r="1.3"/><circle cx="99.7" cy="91.5" r="1.3"/><circle cx="101.3" cy="91.5" r="1.3"/><circle cx="104.9" cy="92.2" r="1.3"/><circle cx="109.8" cy="92.6" r="1.3"/><circle cx="110.1" cy="91.8" r="1.3"/><circle cx="112.9" cy="91.8" r="1.3"/><circle cx="114.2" cy="91.8" r="1.3"/><circle cx="115.7" cy="91.8" r="1.3"/><circle cx="119.2" cy="92.5" r="1.3"/><circle cx="88.4" cy="91.7" r="1.3"/><circle cx="91.3" cy="90.7" r="1.3"/><circle cx="94.6" cy="91" r="1.3"/><circle cx="98" cy="91.5" r="1.3"/><circle cx="102.8" cy="90.6" r="1.3"/><circle cx="104.9" cy="91.5" r="1.3"/><circle cx="106.2" cy="91.4" r="1.3"/><circle cx="109.3" cy="90.6" r="1.3"/><circle cx="117.1" cy="91.6" r="1.3"/><circle cx="87.6" cy="108.9" r="1.3"/><circle cx="88.8" cy="109.7" r="1.3"/><circle cx="91" cy="109" r="1.3"/><circle cx="101.9" cy="108.4" r="1.3"/><circle cx="103.1" cy="109.1" r="1.3"/><circle cx="105.1" cy="108.8" r="1.3"/><circle cx="106.3" cy="108.6" r="1.3"/><circle cx="118.7" cy="119.9" r="1.3"/><circle cx="119.6" cy="118.4" r="1.3"/><circle cx="119" cy="116.9" r="1.3"/><circle cx="119.3" cy="115.3" r="1.3"/><circle cx="118.6" cy="113.8" r="1.3"/><circle cx="118.7" cy="112.3" r="1.3"/><circle cx="119.2" cy="110.7" r="1.3"/><circle cx="119.3" cy="109.2" r="1.3"/><circle cx="118.9" cy="107.7" r="1.3"/><circle cx="118.8" cy="104.6" r="1.3"/><circle cx="118.8" cy="103.1" r="1.3"/><circle cx="118.8" cy="101.5" r="1.3"/><circle cx="119" cy="100" r="1.3"/><circle cx="118.7" cy="98.5" r="1.3"/><circle cx="119.2" cy="96.9" r="1.3"/><circle cx="119.3" cy="95.4" r="1.3"/><circle cx="119" cy="93.9" r="1.3"/><circle cx="118.7" cy="92.4" r="1.3"/><circle cx="119.4" cy="90.8" r="1.3"/><circle cx="118.8" cy="89.3" r="1.3"/><circle cx="118.6" cy="87.8" r="1.3"/><circle cx="119.2" cy="86.2" r="1.3"/><circle cx="118.9" cy="84.7" r="1.3"/><circle cx="118.8" cy="83.2" r="1.3"/><circle cx="67.4" cy="76.9" r="1.3"/><circle cx="70.7" cy="76.3" r="1.3"/><circle cx="73.7" cy="77.5" r="1.3"/><circle cx="75.9" cy="77.5" r="1.3"/><circle cx="79" cy="76.9" r="1.3"/><circle cx="80" cy="76.4" r="1.3"/><circle cx="82" cy="77.4" r="1.3"/><circle cx="86.8" cy="77.4" r="1.3"/><circle cx="89.1" cy="77.1" r="1.3"/><circle cx="94.8" cy="77.6" r="1.3"/><circle cx="98.1" cy="76.9" r="1.3"/><circle cx="99.9" cy="76.9" r="1.3"/><circle cx="100.7" cy="77.2" r="1.3"/><circle cx="102.8" cy="77.1" r="1.3"/><circle cx="106.2" cy="77" r="1.3"/><circle cx="110.7" cy="77" r="1.3"/><circle cx="112.4" cy="76.6" r="1.3"/><circle cx="114.7" cy="77.3" r="1.3"/><circle cx="117.4" cy="77.1" r="1.3"/><circle cx="120.6" cy="76.6" r="1.3"/><circle cx="126.7" cy="76.9" r="1.3"/><circle cx="128.2" cy="77.3" r="1.3"/><circle cx="130.1" cy="77.3" r="1.3"/><circle cx="133.8" cy="77.3" r="1.3"/><circle cx="70.3" cy="74.2" r="1.3"/><circle cx="71.9" cy="73.4" r="1.3"/><circle cx="72.4" cy="74.5" r="1.3"/><circle cx="74.8" cy="73.7" r="1.3"/><circle cx="78.1" cy="74.3" r="1.3"/><circle cx="82.1" cy="73.7" r="1.3"/><circle cx="85.5" cy="74.2" r="1.3"/><circle cx="88" cy="74.1" r="1.3"/><circle cx="90.5" cy="74" r="1.3"/><circle cx="96" cy="73.9" r="1.3"/><circle cx="96.7" cy="74.4" r="1.3"/><circle cx="99.4" cy="73.9" r="1.3"/><circle cx="100.4" cy="74.1" r="1.3"/><circle cx="102.4" cy="73.8" r="1.3"/><circle cx="103.6" cy="73.8" r="1.3"/><circle cx="105.1" cy="73.3" r="1.3"/><circle cx="107.8" cy="73.4" r="1.3"/><circle cx="120.9" cy="74.3" r="1.3"/><circle cx="122.2" cy="73.9" r="1.3"/><circle cx="124.4" cy="73.8" r="1.3"/><circle cx="125.5" cy="73.9" r="1.3"/><circle cx="126.9" cy="74.2" r="1.3"/><circle cx="128.1" cy="74.2" r="1.3"/><circle cx="129.4" cy="74.2" r="1.3"/><circle cx="74.4" cy="70.3" r="1.3"/><circle cx="75.5" cy="70.8" r="1.3"/><circle cx="77.4" cy="71.3" r="1.3"/><circle cx="80" cy="71" r="1.3"/><circle cx="81.5" cy="70.5" r="1.3"/><circle cx="83.1" cy="70.9" r="1.3"/><circle cx="85" cy="70.9" r="1.3"/><circle cx="87.1" cy="71.2" r="1.3"/><circle cx="88.4" cy="70.6" r="1.3"/><circle cx="91.2" cy="70.7" r="1.3"/><circle cx="96.5" cy="71" r="1.3"/><circle cx="98" cy="70.4" r="1.3"/><circle cx="101" cy="70.4" r="1.3"/><circle cx="105.9" cy="71" r="1.3"/><circle cx="114" cy="70.6" r="1.3"/><circle cx="115.8" cy="71.5" r="1.3"/><circle cx="120.8" cy="70.9" r="1.3"/><circle cx="122.4" cy="70.7" r="1.3"/><circle cx="123.8" cy="70.5" r="1.3"/><circle cx="126.7" cy="70.2" r="1.3"/><circle cx="130.4" cy="71" r="1.3"/><circle cx="136.7" cy="71" r="1.3"/><circle cx="74.9" cy="68.6" r="1.3"/><circle cx="77.5" cy="68" r="1.3"/><circle cx="79.4" cy="68.4" r="1.3"/><circle cx="83.8" cy="67.7" r="1.3"/><circle cx="86.1" cy="68.2" r="1.3"/><circle cx="87.3" cy="68.2" r="1.3"/><circle cx="91" cy="67.6" r="1.3"/><circle cx="92.6" cy="67.8" r="1.3"/><circle cx="93.5" cy="68.4" r="1.3"/><circle cx="95.1" cy="67.9" r="1.3"/><circle cx="100.8" cy="68.8" r="1.3"/><circle cx="103.6" cy="67.8" r="1.3"/><circle cx="109.4" cy="67.9" r="1.3"/><circle cx="111.1" cy="67.6" r="1.3"/><circle cx="114" cy="68.1" r="1.3"/><circle cx="117.1" cy="67.3" r="1.3"/><circle cx="69.9" cy="67.8" r="1.3"/><circle cx="125.5" cy="67.7" r="1.3"/><circle cx="126.6" cy="67" r="1.3"/><circle cx="129.3" cy="67.6" r="1.3"/><circle cx="133.9" cy="67.7" r="1.3"/><circle cx="135.2" cy="67.3" r="1.3"/><circle cx="78.7" cy="65" r="1.3"/><circle cx="79.9" cy="64.9" r="1.3"/><circle cx="82.1" cy="64.8" r="1.3"/><circle cx="83.4" cy="63.6" r="1.3"/><circle cx="86.5" cy="65.8" r="1.3"/><circle cx="88.3" cy="64.1" r="1.3"/><circle cx="90.5" cy="64.9" r="1.3"/><circle cx="90.6" cy="64.7" r="1.3"/><circle cx="93.3" cy="64.7" r="1.3"/><circle cx="95" cy="64.5" r="1.3"/><circle cx="98.2" cy="64.8" r="1.3"/><circle cx="101.5" cy="64.5" r="1.3"/><circle cx="102.5" cy="64.8" r="1.3"/><circle cx="105.7" cy="64" r="1.3"/><circle cx="107.6" cy="65.2" r="1.3"/><circle cx="109.3" cy="65" r="1.3"/><circle cx="115.7" cy="65.2" r="1.3"/><circle cx="135" cy="64.6" r="1.3"/><circle cx="80.8" cy="62.2" r="1.3"/><circle cx="82.8" cy="61.5" r="1.3"/><circle cx="89.3" cy="61.9" r="1.3"/><circle cx="90.6" cy="62.1" r="1.3"/><circle cx="92.5" cy="61.9" r="1.3"/><circle cx="95.3" cy="61.8" r="1.3"/><circle cx="100.7" cy="61.5" r="1.3"/><circle cx="101.7" cy="62.2" r="1.3"/><circle cx="105.3" cy="61.7" r="1.3"/><circle cx="111.1" cy="61.6" r="1.3"/><circle cx="116" cy="60.7" r="1.3"/><circle cx="117.4" cy="62" r="1.3"/><circle cx="122.4" cy="61" r="1.3"/><circle cx="79.3" cy="61.1" r="1.3"/><circle cx="135.3" cy="61.7" r="1.3"/><circle cx="136.6" cy="62.1" r="1.3"/><circle cx="81.7" cy="59.4" r="1.3"/><circle cx="82.8" cy="58.4" r="1.3"/><circle cx="84.6" cy="58.2" r="1.3"/><circle cx="86.1" cy="59" r="1.3"/><circle cx="88.2" cy="58.3" r="1.3"/><circle cx="90.9" cy="58.9" r="1.3"/><circle cx="92.8" cy="59.3" r="1.3"/><circle cx="94.7" cy="58.7" r="1.3"/><circle cx="97.2" cy="58.9" r="1.3"/><circle cx="99.6" cy="58.8" r="1.3"/><circle cx="100.8" cy="58.1" r="1.3"/><circle cx="102.4" cy="58.3" r="1.3"/><circle cx="105.3" cy="58.5" r="1.3"/><circle cx="107.8" cy="58.8" r="1.3"/><circle cx="113" cy="58.1" r="1.3"/><circle cx="115.6" cy="58.4" r="1.3"/><circle cx="118.6" cy="58.4" r="1.3"/><circle cx="76.4" cy="59" r="1.3"/><circle cx="136.6" cy="59.4" r="1.3"/><circle cx="87.2" cy="55.9" r="1.3"/><circle cx="90.1" cy="55.9" r="1.3"/><circle cx="101.6" cy="55.6" r="1.3"/><circle cx="103.1" cy="55.2" r="1.3"/><circle cx="109.5" cy="55.6" r="1.3"/><circle cx="111" cy="55.5" r="1.3"/><circle cx="115.5" cy="55.5" r="1.3"/><circle cx="120.8" cy="56.2" r="1.3"/><circle cx="123.8" cy="55.2" r="1.3"/><circle cx="125.1" cy="55.6" r="1.3"/><circle cx="132.1" cy="55.5" r="1.3"/><circle cx="136.8" cy="55.2" r="1.3"/><circle cx="92.8" cy="52.7" r="1.3"/><circle cx="94.1" cy="51.9" r="1.3"/><circle cx="97.7" cy="52.6" r="1.3"/><circle cx="100.8" cy="52.6" r="1.3"/><circle cx="102" cy="52.3" r="1.3"/><circle cx="108.2" cy="52.5" r="1.3"/><circle cx="109.1" cy="52.3" r="1.3"/><circle cx="114.5" cy="53.2" r="1.3"/><circle cx="118.4" cy="52.9" r="1.3"/><circle cx="122.3" cy="53" r="1.3"/><circle cx="123.7" cy="53.2" r="1.3"/><circle cx="130.4" cy="52.4" r="1.3"/><circle cx="134.7" cy="52.8" r="1.3"/><circle cx="136.6" cy="51.8" r="1.3"/><circle cx="88.8" cy="49.2" r="1.3"/><circle cx="94" cy="49.8" r="1.3"/><circle cx="95.4" cy="48.9" r="1.3"/><circle cx="98.7" cy="49.5" r="1.3"/><circle cx="101.4" cy="49.6" r="1.3"/><circle cx="103.5" cy="50.2" r="1.3"/><circle cx="105.3" cy="49.6" r="1.3"/><circle cx="111" cy="49.6" r="1.3"/><circle cx="114.3" cy="49.7" r="1.3"/><circle cx="115.8" cy="49" r="1.3"/><circle cx="117.2" cy="49.3" r="1.3"/><circle cx="119.2" cy="49.3" r="1.3"/><circle cx="120.8" cy="48.8" r="1.3"/><circle cx="123.7" cy="49.6" r="1.3"/><circle cx="135.2" cy="49.7" r="1.3"/><circle cx="136" cy="49.8" r="1.3"/><circle cx="91.1" cy="46.4" r="1.3"/><circle cx="92.7" cy="46.6" r="1.3"/><circle cx="102.2" cy="46.5" r="1.3"/><circle cx="106.9" cy="47.2" r="1.3"/><circle cx="108.5" cy="47.2" r="1.3"/><circle cx="113.3" cy="46.7" r="1.3"/><circle cx="114.6" cy="46.5" r="1.3"/><circle cx="118.4" cy="46.4" r="1.3"/><circle cx="122.7" cy="46.2" r="1.3"/><circle cx="134.8" cy="46.3" r="1.3"/><circle cx="136.8" cy="46.8" r="1.3"/><circle cx="94.9" cy="43.4" r="1.3"/><circle cx="98.3" cy="43.3" r="1.3"/><circle cx="101.1" cy="43.2" r="1.3"/><circle cx="106.5" cy="43.2" r="1.3"/><circle cx="109.7" cy="43.4" r="1.3"/><circle cx="113" cy="43.2" r="1.3"/><circle cx="114.4" cy="43.3" r="1.3"/><circle cx="115.8" cy="43.1" r="1.3"/><circle cx="117.5" cy="43.3" r="1.3"/><circle cx="118.9" cy="43.7" r="1.3"/><circle cx="119.9" cy="43.4" r="1.3"/><circle cx="122.1" cy="43.7" r="1.3"/><circle cx="135.1" cy="43.8" r="1.3"/><circle cx="95.5" cy="40.8" r="1.3"/><circle cx="102.1" cy="40.2" r="1.3"/><circle cx="103.4" cy="40.6" r="1.3"/><circle cx="104.4" cy="40.4" r="1.3"/><circle cx="106.7" cy="39.9" r="1.3"/><circle cx="109.8" cy="39.5" r="1.3"/><circle cx="112" cy="40.7" r="1.3"/><circle cx="114.8" cy="40.3" r="1.3"/><circle cx="116.1" cy="40" r="1.3"/><circle cx="118.2" cy="40.5" r="1.3"/><circle cx="119.5" cy="39.9" r="1.3"/><circle cx="121.6" cy="40.1" r="1.3"/><circle cx="122" cy="39.9" r="1.3"/><circle cx="90.7" cy="40.8" r="1.3"/><circle cx="127.5" cy="40.6" r="1.3"/><circle cx="132.2" cy="39.6" r="1.3"/><circle cx="137.2" cy="40.4" r="1.3"/><circle cx="98.1" cy="36.8" r="1.3"/><circle cx="101.4" cy="37.3" r="1.3"/><circle cx="104.1" cy="37.3" r="1.3"/><circle cx="106" cy="37.2" r="1.3"/><circle cx="107.8" cy="37.4" r="1.3"/><circle cx="111.8" cy="36.7" r="1.3"/><circle cx="113.6" cy="37.2" r="1.3"/><circle cx="122" cy="36.8" r="1.3"/><circle cx="123.3" cy="36.8" r="1.3"/><circle cx="125.7" cy="37.5" r="1.3"/><circle cx="130.7" cy="36.3" r="1.3"/><circle cx="135.1" cy="37.2" r="1.3"/><circle cx="137" cy="37.6" r="1.3"/><circle cx="99.8" cy="33.7" r="1.3"/><circle cx="102.1" cy="34.7" r="1.3"/><circle cx="105.5" cy="34.4" r="1.3"/><circle cx="106.5" cy="35" r="1.3"/><circle cx="108.4" cy="34.5" r="1.3"/><circle cx="109.6" cy="34.5" r="1.3"/><circle cx="111.3" cy="34.4" r="1.3"/><circle cx="112.6" cy="33.8" r="1.3"/><circle cx="114.1" cy="34.8" r="1.3"/><circle cx="119.9" cy="34.3" r="1.3"/><circle cx="122.8" cy="34.5" r="1.3"/><circle cx="130.2" cy="34.5" r="1.3"/><circle cx="132" cy="34" r="1.3"/><circle cx="135.2" cy="35.1" r="1.3"/><circle cx="102.9" cy="31.2" r="1.3"/><circle cx="104" cy="30.8" r="1.3"/><circle cx="105.6" cy="31.3" r="1.3"/><circle cx="107.1" cy="31.2" r="1.3"/><circle cx="110.4" cy="30.9" r="1.3"/><circle cx="112.6" cy="30.7" r="1.3"/><circle cx="113.8" cy="31.5" r="1.3"/><circle cx="115.6" cy="30.5" r="1.3"/><circle cx="116.4" cy="30.5" r="1.3"/><circle cx="118.7" cy="31" r="1.3"/><circle cx="121.3" cy="30.7" r="1.3"/><circle cx="137" cy="31.3" r="1.3"/><circle cx="105.2" cy="29.6" r="1.3"/><circle cx="108.9" cy="29.7" r="1.3"/><circle cx="109.6" cy="29.5" r="1.3"/><circle cx="113.8" cy="29.3" r="1.3"/><circle cx="114.8" cy="29.6" r="1.3"/><circle cx="116.4" cy="29.2" r="1.3"/><circle cx="120.9" cy="30" r="1.3"/><circle cx="123" cy="29.4" r="1.3"/><circle cx="60.9" cy="55.9" r="1.3"/><circle cx="71.1" cy="49.5" r="1.3"/><circle cx="68.5" cy="62.3" r="1.3"/><circle cx="74.9" cy="61.6" r="1.3"/><circle cx="65.4" cy="69.9" r="1.3"/><circle cx="66" cy="73.7" r="1.3"/><circle cx="90.2" cy="35.3" r="1.3"/><circle cx="91.1" cy="31.1" r="1.3"/><circle cx="86.3" cy="34.7" r="1.3"/><circle cx="125.4" cy="85.4" r="1.3"/><circle cx="127.3" cy="85.2" r="1.3"/><circle cx="128.6" cy="85.7" r="1.3"/><circle cx="130.1" cy="85" r="1.3"/><circle cx="133.7" cy="84.9" r="1.3"/><circle cx="130" cy="89.5" r="1.3"/><circle cx="131" cy="89.4" r="1.3"/><circle cx="133.1" cy="88.3" r="1.3"/><circle cx="135" cy="89.8" r="1.3"/><circle cx="137.9" cy="89.1" r="1.3"/><circle cx="139.4" cy="89.8" r="1.3"/><circle cx="128" cy="92.2" r="1.3"/><circle cx="130.8" cy="91.8" r="1.3"/><circle cx="133" cy="92.7" r="1.3"/><circle cx="134.9" cy="92.9" r="1.3"/><circle cx="136.2" cy="93" r="1.3"/><circle cx="138" cy="92.8" r="1.3"/><circle cx="139.1" cy="91.5" r="1.3"/><circle cx="127.9" cy="95.5" r="1.3"/><circle cx="129.7" cy="94.8" r="1.3"/><circle cx="131.5" cy="96.1" r="1.3"/><circle cx="132.3" cy="94.3" r="1.3"/><circle cx="134.5" cy="95.8" r="1.3"/><circle cx="135.4" cy="95.4" r="1.3"/><circle cx="139.3" cy="95" r="1.3"/><circle cx="126.4" cy="97.9" r="1.3"/><circle cx="128.2" cy="98.7" r="1.3"/><circle cx="129.7" cy="97.7" r="1.3"/><circle cx="131.2" cy="99.8" r="1.3"/><circle cx="134.2" cy="99.6" r="1.3"/><circle cx="136.4" cy="99.1" r="1.3"/><circle cx="137.7" cy="97.8" r="1.3"/><circle cx="128.6" cy="104.9" r="1.3"/><circle cx="133.8" cy="104.7" r="1.3"/><circle cx="136.9" cy="105" r="1.3"/><circle cx="138.4" cy="104.4" r="1.3"/><circle cx="139.8" cy="109.5" r="1.3"/><circle cx="130.4" cy="117.2" r="1.3"/><circle cx="124.5" cy="89.6" r="1.3"/><circle cx="125.4" cy="92.6" r="1.3"/><circle cx="123.5" cy="104.4" r="1.3"/><circle cx="123.5" cy="110.3" r="1.3"/><circle cx="231.9" cy="29.8" r="1.3"/><circle cx="205.6" cy="60.6" r="1.3"/><circle cx="173.6" cy="61.1" r="1.3"/><circle cx="159.8" cy="61.1" r="1.3"/><circle cx="145" cy="45.3" r="1.3"/><circle cx="145.6" cy="49.6" r="1.3"/><circle cx="146.9" cy="50.4" r="1.3"/><circle cx="150.2" cy="52.2" r="1.3"/><circle cx="143.6" cy="61" r="1.3"/><circle cx="148.9" cy="61" r="1.3"/><circle cx="149.7" cy="62.3" r="1.3"/><circle cx="148.1" cy="66.7" r="1.3"/><circle cx="143.6" cy="73.8" r="1.3"/><circle cx="149.7" cy="73.8" r="1.3"/><circle cx="149.7" cy="76.3" r="1.3"/><circle cx="179.4" cy="73.8" r="1.3"/><circle cx="192.7" cy="73.8" r="1.3"/><circle cx="179.4" cy="87.8" r="1.3"/><circle cx="193.4" cy="88.5" r="1.3"/><circle cx="196.5" cy="86" r="1.3"/><circle cx="151.2" cy="88.3" r="1.3"/><circle cx="148.9" cy="92.1" r="1.3"/><circle cx="150.2" cy="92.1" r="1.3"/><circle cx="157.3" cy="92.1" r="1.3"/><circle cx="153.2" cy="95.2" r="1.3"/><circle cx="160.9" cy="98" r="1.3"/><circle cx="170.5" cy="98" r="1.3"/><circle cx="173.8" cy="92.1" r="1.3"/><circle cx="176.6" cy="95.2" r="1.3"/><circle cx="192.9" cy="98" r="1.3"/><circle cx="196" cy="95.4" r="1.3"/><circle cx="202.6" cy="95.4" r="1.3"/><circle cx="183.3" cy="104.3" r="1.3"/><circle cx="186.6" cy="104.3" r="1.3"/><circle cx="173.6" cy="110.4" r="1.3"/><circle cx="141.3" cy="110.4" r="1.3"/><circle cx="221.9" cy="98" r="1.3"/><circle cx="224" cy="98.7" r="1.3"/><circle cx="227.3" cy="98" r="1.3"/><circle cx="234.7" cy="92.1" r="1.3"/><circle cx="244.3" cy="92.1" r="1.3"/><circle cx="48.1" cy="132.2" r="1.3"/><circle cx="51.9" cy="129" r="1.3"/><circle cx="56.3" cy="129" r="1.3"/><circle cx="60.8" cy="129" r="1.3"/><circle cx="64.6" cy="129" r="1.3"/><circle cx="51.9" cy="134.1" r="1.3"/><circle cx="57.6" cy="135.1" r="1.3"/><circle cx="66.5" cy="134.1" r="1.3"/><circle cx="58" cy="143.2" r="1.3"/><circle cx="61.1" cy="147.4" r="1.3"/><circle cx="86.3" cy="172" r="1.3"/><circle cx="107.1" cy="12.9" r="1.3"/><circle cx="106.5" cy="20" r="1.3"/><circle cx="107" cy="24" r="1.3"/><circle cx="117" cy="22" r="1.3"/><circle cx="117.5" cy="25.5" r="1.3"/><circle cx="126" cy="25.6" r="1.3"/><circle cx="110" cy="26" r="1.3"/><circle cx="121" cy="24.5" r="1.3"/></g>
<path d="M48.4 121.5 L50.9 119 L53.4 116.6 L55.9 114.4 L58.4 112.2 L60.9 110.2 L63.4 108.2 L65.8 106.4 L68.3 104.5 L70.8 102.8 L73.3 101.1 L75.8 99.5 L78.3 97.9 L80.8 96.4 L83.2 94.9 L85.7 93.6 L88.2 92.2 L90.7 91 L93.2 89.8 L95.7 88.6 L98.2 87.6 L100.7 86.6 L103.1 85.6 L105.6 84.7 L108.1 83.9 L110.6 83.1 L113.1 82.3 L115.6 81.6 L118.1 81 L120.5 80.3 L123 79.7 L125.5 79.2 L128 78.7 L130.5 78.2 L133 77.7 L135.5 77.3 L138 76.9 L140.4 76.5 L142.9 76.2 L145.4 75.9 L147.9 75.6 L150.4 75.4 L152.9 75.1 L155.4 74.9 L157.8 74.7 L160.3 74.6 L162.8 74.4 L165.3 74.3 L167.8 74.1 L170.3 74 L172.8 73.9 L175.3 73.7 L177.7 73.6 L180.2 73.5 L182.7 73.4 L185.2 73.3 L187.7 73.3 L190.2 73.3 L192.7 73.3 L195.1 73.3 L197.6 73.3 L200.1 73.4 L202.6 73.4 L205.1 73.5 L207.6 73.5 L210.1 73.5 L212.6 73.6 L215 73.5 L217.5 73.5 L220 73.4 L222.5 73.2 L225 73 L227.5 72.7 L230 72.2 L232.4 71.7 L234.9 71.1 L237.4 70.3 L239.9 69.4 L242.4 68.4 L244.9 67.2 L244.9 108.9 L242.4 107.6 L239.9 106.3 L237.4 105.2 L234.9 104.1 L232.4 103.1 L230 102.2 L227.5 101.3 L225 100.5 L222.5 99.7 L220 99 L217.5 98.3 L215 97.6 L212.6 96.9 L210.1 96.3 L207.6 95.6 L205.1 95 L202.6 94.3 L200.1 93.7 L197.6 93.1 L195.1 92.4 L192.7 91.8 L190.2 91.1 L187.7 90.4 L185.2 89.8 L182.7 89.1 L180.2 88.4 L177.7 87.8 L175.3 87.2 L172.8 86.6 L170.3 86.1 L167.8 85.6 L165.3 85.1 L162.8 84.7 L160.3 84.4 L157.8 84 L155.4 83.8 L152.9 83.6 L150.4 83.4 L147.9 83.3 L145.4 83.2 L142.9 83.2 L140.4 83.2 L138 83.3 L135.5 83.5 L133 83.6 L130.5 83.9 L128 84.2 L125.5 84.5 L123 84.9 L120.5 85.3 L118.1 85.8 L115.6 86.3 L113.1 86.9 L110.6 87.6 L108.1 88.3 L105.6 89.1 L103.1 89.9 L100.7 90.8 L98.2 91.8 L95.7 92.9 L93.2 94 L90.7 95.2 L88.2 96.5 L85.7 97.9 L83.2 99.3 L80.8 100.8 L78.3 102.5 L75.8 104.1 L73.3 105.9 L70.8 107.8 L68.3 109.7 L65.8 111.7 L63.4 113.9 L60.9 116.1 L58.4 118.5 L55.9 121 L53.4 123.6 L50.9 126.5 L48.4 129.4Z" fill="#ff0000" fill-opacity="0.21"/>
<path d="M48.4 125.5 L50.9 122.7 L53.4 120.1 L55.9 117.7 L58.4 115.4 L60.9 113.1 L63.4 111 L65.8 109 L68.3 107.1 L70.8 105.3 L73.3 103.5 L75.8 101.8 L78.3 100.2 L80.8 98.6 L83.2 97.1 L85.7 95.7 L88.2 94.4 L90.7 93.1 L93.2 91.9 L95.7 90.8 L98.2 89.7 L100.7 88.7 L103.1 87.8 L105.6 86.9 L108.1 86.1 L110.6 85.3 L113.1 84.6 L115.6 84 L118.1 83.4 L120.5 82.8 L123 82.3 L125.5 81.8 L128 81.4 L130.5 81 L133 80.7 L135.5 80.4 L138 80.1 L140.4 79.9 L142.9 79.7 L145.4 79.6 L147.9 79.4 L150.4 79.4 L152.9 79.4 L155.4 79.4 L157.8 79.4 L160.3 79.5 L162.8 79.6 L165.3 79.7 L167.8 79.9 L170.3 80 L172.8 80.2 L175.3 80.5 L177.7 80.7 L180.2 81 L182.7 81.3 L185.2 81.5 L187.7 81.9 L190.2 82.2 L192.7 82.5 L195.1 82.8 L197.6 83.2 L200.1 83.5 L202.6 83.9 L205.1 84.2 L207.6 84.6 L210.1 84.9 L212.6 85.2 L215 85.6 L217.5 85.9 L220 86.2 L222.5 86.5 L225 86.7 L227.5 87 L230 87.2 L232.4 87.4 L234.9 87.6 L237.4 87.8 L239.9 87.9 L242.4 88 L244.9 88.1" fill="none" stroke="#ee2030" stroke-width="0.95"/>
<rect x="40.6" y="7.6" width="93.4" height="18.4" rx="1.2" fill="#f0f0f6" fill-opacity="0.82" stroke="#d6d6e0" stroke-width="0.5"/>
<line x1="44" y1="12.7" x2="56.6" y2="12.7" stroke="#ee2030" stroke-width="0.9"/>
<rect x="44" y="19.4" width="12.6" height="4.6" fill="#f4b4bc"/>
<text class="lg" font-size="6.3" x="62" y="14.94">Polynomial Fit</text>
<text class="lg" font-size="6.3" x="62" y="23.84">95% Confidence Interval</text>
<text class="r2" font-size="6.77" x="40" y="38"><tspan font-style="italic">R</tspan><tspan dy="-2.44" font-size="4.74">2</tspan><tspan dy="2.44"> = 0.3106</tspan></text>
<rect x="329.4" y="3.6" width="218.6" height="177.2" fill="#EAEAF2"/>
<g stroke="#fff" stroke-width="0.5" opacity="0.7"><line x1="337.5" y1="3.6" x2="337.5" y2="180.8"/><line x1="362.4" y1="3.6" x2="362.4" y2="180.8"/><line x1="387.2" y1="3.6" x2="387.2" y2="180.8"/><line x1="412.1" y1="3.6" x2="412.1" y2="180.8"/><line x1="436.9" y1="3.6" x2="436.9" y2="180.8"/><line x1="461.8" y1="3.6" x2="461.8" y2="180.8"/><line x1="486.7" y1="3.6" x2="486.7" y2="180.8"/><line x1="511.5" y1="3.6" x2="511.5" y2="180.8"/><line x1="536.4" y1="3.6" x2="536.4" y2="180.8"/><line x1="329.4" y1="174.4" x2="548" y2="174.4"/><line x1="329.4" y1="135.9" x2="548" y2="135.9"/><line x1="329.4" y1="97.4" x2="548" y2="97.4"/><line x1="329.4" y1="58.9" x2="548" y2="58.9"/><line x1="329.4" y1="20.4" x2="548" y2="20.4"/></g>
<g class="tk"><text x="337.5" y="188.7" text-anchor="middle">0</text><text x="362.4" y="188.7" text-anchor="middle">50,000</text><text x="387.2" y="188.7" text-anchor="middle">100,000</text><text x="412.1" y="188.7" text-anchor="middle">150,000</text><text x="436.9" y="188.7" text-anchor="middle">200,000</text><text x="461.8" y="188.7" text-anchor="middle">250,000</text><text x="486.7" y="188.7" text-anchor="middle">300,000</text><text x="511.5" y="188.7" text-anchor="middle">350,000</text><text x="536.4" y="188.7" text-anchor="middle">400,000</text><text x="325.8" y="176.6" text-anchor="end">0</text><text x="325.8" y="138.1" text-anchor="end">50,000</text><text x="325.8" y="99.6" text-anchor="end">100,000</text><text x="325.8" y="61.1" text-anchor="end">150,000</text><text x="325.8" y="22.6" text-anchor="end">200,000</text></g>
<text class="al" x="438.7" y="195.6" text-anchor="middle">DWT[t]</text>
<text class="al" transform="translate(299.5 92.2) rotate(-90)" text-anchor="middle">GT[t]</text>
<text class="cap" x="435.5" y="219.8" text-anchor="middle">(h)</text>
<g fill="#000"><circle cx="366" cy="149.5" r="1.3"/><circle cx="353.7" cy="159.8" r="1.3"/><circle cx="340.5" cy="171.1" r="1.3"/><circle cx="362.1" cy="152.3" r="1.3"/><circle cx="346.3" cy="166.3" r="1.3"/><circle cx="368.1" cy="147.6" r="1.3"/><circle cx="345.9" cy="166.8" r="1.3"/><circle cx="348.7" cy="163.9" r="1.3"/><circle cx="343.4" cy="168.6" r="1.3"/><circle cx="348.9" cy="163.8" r="1.3"/><circle cx="358.8" cy="155.4" r="1.3"/><circle cx="347.7" cy="165.3" r="1.3"/><circle cx="340.5" cy="171.1" r="1.3"/><circle cx="358.3" cy="156.3" r="1.3"/><circle cx="363.2" cy="151.6" r="1.3"/><circle cx="342.5" cy="169.6" r="1.3"/><circle cx="352.9" cy="160.1" r="1.3"/><circle cx="341.2" cy="170.5" r="1.3"/><circle cx="339.5" cy="171.9" r="1.3"/><circle cx="351.3" cy="162.3" r="1.3"/><circle cx="348.4" cy="164.6" r="1.3"/><circle cx="367.9" cy="148" r="1.3"/><circle cx="339.3" cy="172.5" r="1.3"/><circle cx="360.3" cy="154.5" r="1.3"/><circle cx="363.2" cy="152.2" r="1.3"/><circle cx="352.7" cy="161.2" r="1.3"/><circle cx="355.5" cy="158.5" r="1.3"/><circle cx="347.1" cy="165.6" r="1.3"/><circle cx="347.3" cy="165.6" r="1.3"/><circle cx="340.7" cy="171" r="1.3"/><circle cx="368.9" cy="147.3" r="1.3"/><circle cx="339.8" cy="172.2" r="1.3"/><circle cx="343.4" cy="169" r="1.3"/><circle cx="362.9" cy="152.1" r="1.3"/><circle cx="354" cy="159.3" r="1.3"/><circle cx="355.8" cy="158.2" r="1.3"/><circle cx="348.6" cy="164.3" r="1.3"/><circle cx="344.2" cy="168.5" r="1.3"/><circle cx="365.4" cy="150" r="1.3"/><circle cx="343" cy="169" r="1.3"/><circle cx="348.7" cy="164.5" r="1.3"/><circle cx="363.8" cy="151.3" r="1.3"/><circle cx="348.8" cy="164.2" r="1.3"/><circle cx="370.4" cy="146.5" r="1.3"/><circle cx="344.7" cy="168.2" r="1.3"/><circle cx="356.4" cy="158" r="1.3"/><circle cx="356.7" cy="157.6" r="1.3"/><circle cx="355.5" cy="158.2" r="1.3"/><circle cx="364.5" cy="151.1" r="1.3"/><circle cx="340.4" cy="171.3" r="1.3"/><circle cx="357" cy="157.3" r="1.3"/><circle cx="365" cy="150.2" r="1.3"/><circle cx="340.6" cy="171.2" r="1.3"/><circle cx="357" cy="157.2" r="1.3"/><circle cx="353.5" cy="160.3" r="1.3"/><circle cx="352.3" cy="161.7" r="1.3"/><circle cx="356.7" cy="157.6" r="1.3"/><circle cx="359.6" cy="154.5" r="1.3"/><circle cx="362.2" cy="152.5" r="1.3"/><circle cx="368.6" cy="146.8" r="1.3"/><circle cx="360.6" cy="153.9" r="1.3"/><circle cx="372" cy="144.8" r="1.3"/><circle cx="360.9" cy="154.1" r="1.3"/><circle cx="347.8" cy="164.8" r="1.3"/><circle cx="343.8" cy="168.5" r="1.3"/><circle cx="341.2" cy="170.3" r="1.3"/><circle cx="347.8" cy="164.6" r="1.3"/><circle cx="342.8" cy="168.8" r="1.3"/><circle cx="361.5" cy="153.1" r="1.3"/><circle cx="361.7" cy="153.7" r="1.3"/><circle cx="359.2" cy="154.9" r="1.3"/><circle cx="351.6" cy="162.3" r="1.3"/><circle cx="354.3" cy="160" r="1.3"/><circle cx="347.5" cy="165.2" r="1.3"/><circle cx="369.3" cy="146.8" r="1.3"/><circle cx="339.4" cy="171.9" r="1.3"/><circle cx="349.5" cy="163.6" r="1.3"/><circle cx="357.9" cy="156.7" r="1.3"/><circle cx="344.9" cy="167.5" r="1.3"/><circle cx="367.2" cy="149" r="1.3"/><circle cx="354.8" cy="159.5" r="1.3"/><circle cx="351.2" cy="162.3" r="1.3"/><circle cx="341" cy="170.9" r="1.3"/><circle cx="348.2" cy="164.7" r="1.3"/><circle cx="358.4" cy="156.2" r="1.3"/><circle cx="348.2" cy="164.3" r="1.3"/><circle cx="340.4" cy="171.5" r="1.3"/><circle cx="358.1" cy="156.4" r="1.3"/><circle cx="349" cy="163.8" r="1.3"/><circle cx="366.9" cy="149.6" r="1.3"/><circle cx="361.8" cy="152.8" r="1.3"/><circle cx="362.8" cy="152" r="1.3"/><circle cx="368.4" cy="147.7" r="1.3"/><circle cx="365.7" cy="149.2" r="1.3"/><circle cx="349.8" cy="163.1" r="1.3"/><circle cx="357.7" cy="156.1" r="1.3"/><circle cx="347.5" cy="165" r="1.3"/><circle cx="345.6" cy="166.9" r="1.3"/><circle cx="345.7" cy="166.9" r="1.3"/><circle cx="342.6" cy="169.9" r="1.3"/><circle cx="346.8" cy="166.2" r="1.3"/><circle cx="346.3" cy="166.7" r="1.3"/><circle cx="361.2" cy="153.9" r="1.3"/><circle cx="347.2" cy="165.4" r="1.3"/><circle cx="340.4" cy="171.7" r="1.3"/><circle cx="352.9" cy="160.6" r="1.3"/><circle cx="345.6" cy="166.7" r="1.3"/><circle cx="361.7" cy="153.8" r="1.3"/><circle cx="346.2" cy="166.6" r="1.3"/><circle cx="357.3" cy="157" r="1.3"/><circle cx="344.7" cy="167.9" r="1.3"/><circle cx="354.9" cy="159.4" r="1.3"/><circle cx="367.6" cy="147.8" r="1.3"/><circle cx="348.9" cy="164" r="1.3"/><circle cx="356.4" cy="157.4" r="1.3"/><circle cx="353.4" cy="160.3" r="1.3"/><circle cx="341.2" cy="170.4" r="1.3"/><circle cx="339.6" cy="172.5" r="1.3"/><circle cx="366.8" cy="149.1" r="1.3"/><circle cx="350.2" cy="162.7" r="1.3"/><circle cx="361.6" cy="153.3" r="1.3"/><circle cx="352.6" cy="160.6" r="1.3"/><circle cx="366.6" cy="149.1" r="1.3"/><circle cx="345.4" cy="167.3" r="1.3"/><circle cx="354.9" cy="159.1" r="1.3"/><circle cx="357.1" cy="156.5" r="1.3"/><circle cx="365.2" cy="150.2" r="1.3"/><circle cx="339.9" cy="171.9" r="1.3"/><circle cx="350.9" cy="162.5" r="1.3"/><circle cx="354.6" cy="159.7" r="1.3"/><circle cx="358.4" cy="155.6" r="1.3"/><circle cx="343.6" cy="168.8" r="1.3"/><circle cx="356.9" cy="157.1" r="1.3"/><circle cx="361.9" cy="153.2" r="1.3"/><circle cx="363.2" cy="152.2" r="1.3"/><circle cx="346.3" cy="166.5" r="1.3"/><circle cx="353.5" cy="160" r="1.3"/><circle cx="348.8" cy="164.3" r="1.3"/><circle cx="351.7" cy="161.3" r="1.3"/><circle cx="350.9" cy="161.9" r="1.3"/><circle cx="370.2" cy="146.3" r="1.3"/><circle cx="339.3" cy="172.2" r="1.3"/><circle cx="370.3" cy="145.4" r="1.3"/><circle cx="340" cy="171.4" r="1.3"/><circle cx="341.5" cy="170.4" r="1.3"/><circle cx="345.7" cy="167.3" r="1.3"/><circle cx="348.4" cy="164.9" r="1.3"/><circle cx="367.3" cy="148.8" r="1.3"/><circle cx="366.7" cy="148.4" r="1.3"/><circle cx="369.8" cy="146.3" r="1.3"/><circle cx="351.8" cy="161.8" r="1.3"/><circle cx="339.4" cy="172.3" r="1.3"/><circle cx="359.6" cy="155.2" r="1.3"/><circle cx="368.7" cy="147.3" r="1.3"/><circle cx="342.5" cy="170.2" r="1.3"/><circle cx="366.3" cy="149.9" r="1.3"/><circle cx="339" cy="172.5" r="1.3"/><circle cx="363.1" cy="151.7" r="1.3"/><circle cx="355.2" cy="159.5" r="1.3"/><circle cx="369" cy="146.9" r="1.3"/><circle cx="367.9" cy="148.5" r="1.3"/><circle cx="340.4" cy="171.9" r="1.3"/><circle cx="355.4" cy="158.3" r="1.3"/><circle cx="346.9" cy="165.9" r="1.3"/><circle cx="353.4" cy="160.1" r="1.3"/><circle cx="341.1" cy="170.9" r="1.3"/><circle cx="350.8" cy="162.6" r="1.3"/><circle cx="352.4" cy="161.8" r="1.3"/><circle cx="339" cy="172.7" r="1.3"/><circle cx="354.6" cy="159.3" r="1.3"/><circle cx="368.5" cy="147.9" r="1.3"/><circle cx="340.9" cy="170.8" r="1.3"/><circle cx="370.2" cy="145.9" r="1.3"/><circle cx="355.1" cy="159.6" r="1.3"/><circle cx="345.9" cy="166.4" r="1.3"/><circle cx="371" cy="145.2" r="1.3"/><circle cx="354.6" cy="159.3" r="1.3"/><circle cx="353.4" cy="160" r="1.3"/><circle cx="351.4" cy="161.3" r="1.3"/><circle cx="368.1" cy="148.2" r="1.3"/><circle cx="343.2" cy="168.7" r="1.3"/><circle cx="345.9" cy="166.5" r="1.3"/><circle cx="348.3" cy="164.5" r="1.3"/><circle cx="341" cy="170.5" r="1.3"/><circle cx="366.8" cy="148.5" r="1.3"/><circle cx="355.1" cy="158.9" r="1.3"/><circle cx="358.8" cy="156.5" r="1.3"/><circle cx="368.2" cy="148" r="1.3"/><circle cx="355.3" cy="159" r="1.3"/><circle cx="348" cy="164.3" r="1.3"/><circle cx="356.5" cy="157.7" r="1.3"/><circle cx="355.5" cy="158.1" r="1.3"/><circle cx="348.8" cy="164.5" r="1.3"/><circle cx="346.6" cy="166" r="1.3"/><circle cx="350.7" cy="162.6" r="1.3"/><circle cx="363.2" cy="151.9" r="1.3"/><circle cx="344.4" cy="167.7" r="1.3"/><circle cx="371.9" cy="144.1" r="1.3"/><circle cx="346.7" cy="166.2" r="1.3"/><circle cx="347.9" cy="164.4" r="1.3"/><circle cx="343" cy="168.7" r="1.3"/><circle cx="351.9" cy="161.5" r="1.3"/><circle cx="351.2" cy="161.9" r="1.3"/><circle cx="361.5" cy="153.5" r="1.3"/><circle cx="368.6" cy="147.8" r="1.3"/><circle cx="347.1" cy="165.7" r="1.3"/><circle cx="365.7" cy="149.9" r="1.3"/><circle cx="349.1" cy="163.9" r="1.3"/><circle cx="352.4" cy="161.5" r="1.3"/><circle cx="343.1" cy="168.3" r="1.3"/><circle cx="368.4" cy="147.7" r="1.3"/><circle cx="351.3" cy="161.8" r="1.3"/><circle cx="362.1" cy="152.5" r="1.3"/><circle cx="339.8" cy="171.8" r="1.3"/><circle cx="362" cy="152.9" r="1.3"/><circle cx="346.4" cy="166.4" r="1.3"/><circle cx="353.8" cy="160.3" r="1.3"/><circle cx="361.2" cy="152.9" r="1.3"/><circle cx="344.6" cy="167.8" r="1.3"/><circle cx="356.3" cy="158.5" r="1.3"/><circle cx="366.6" cy="149.4" r="1.3"/><circle cx="344.3" cy="168.5" r="1.3"/><circle cx="354.4" cy="159.5" r="1.3"/><circle cx="345" cy="166.9" r="1.3"/><circle cx="343.6" cy="168.2" r="1.3"/><circle cx="355.1" cy="159.1" r="1.3"/><circle cx="354" cy="160.1" r="1.3"/><circle cx="360.2" cy="154.3" r="1.3"/><circle cx="367.3" cy="148.4" r="1.3"/><circle cx="362.3" cy="152.8" r="1.3"/><circle cx="376.7" cy="139.9" r="1.3"/><circle cx="378.8" cy="138.6" r="1.3"/><circle cx="381.4" cy="137.1" r="1.3"/><circle cx="383.7" cy="135.3" r="1.3"/><circle cx="381.6" cy="136.4" r="1.3"/><circle cx="379" cy="139.2" r="1.3"/><circle cx="373.9" cy="142.8" r="1.3"/><circle cx="384.2" cy="133.9" r="1.3"/><circle cx="375.9" cy="140.4" r="1.3"/><circle cx="377.7" cy="140.1" r="1.3"/><circle cx="384.4" cy="133.9" r="1.3"/><circle cx="374.9" cy="142.9" r="1.3"/><circle cx="384.8" cy="133.8" r="1.3"/><circle cx="375.2" cy="141.9" r="1.3"/><circle cx="373.2" cy="142.9" r="1.3"/><circle cx="379.2" cy="139" r="1.3"/><circle cx="383.1" cy="135" r="1.3"/><circle cx="377.6" cy="139.7" r="1.3"/><circle cx="383.8" cy="133.8" r="1.3"/><circle cx="377.5" cy="140.1" r="1.3"/><circle cx="383.4" cy="135.2" r="1.3"/><circle cx="373.6" cy="143" r="1.3"/><circle cx="376" cy="141.2" r="1.3"/><circle cx="373.7" cy="143.2" r="1.3"/><circle cx="382.4" cy="136.1" r="1.3"/><circle cx="378.6" cy="139" r="1.3"/><circle cx="381.2" cy="137.4" r="1.3"/><circle cx="375.3" cy="141.6" r="1.3"/><circle cx="382.3" cy="135.6" r="1.3"/><circle cx="385.9" cy="132.6" r="1.3"/><circle cx="373.1" cy="142.7" r="1.3"/><circle cx="376.5" cy="140.5" r="1.3"/><circle cx="384.2" cy="134.6" r="1.3"/><circle cx="383.9" cy="134.5" r="1.3"/><circle cx="384.2" cy="133.9" r="1.3"/><circle cx="375.2" cy="142" r="1.3"/><circle cx="379.9" cy="137.1" r="1.3"/><circle cx="373.2" cy="143.4" r="1.3"/><circle cx="378" cy="139.6" r="1.3"/><circle cx="380.1" cy="137.9" r="1.3"/><circle cx="375.6" cy="141.2" r="1.3"/><circle cx="377.9" cy="139.8" r="1.3"/><circle cx="377.1" cy="140.8" r="1.3"/><circle cx="373.2" cy="143.4" r="1.3"/><circle cx="373" cy="144" r="1.3"/><circle cx="382.9" cy="134.7" r="1.3"/><circle cx="372" cy="143.8" r="1.3"/><circle cx="385.8" cy="133" r="1.3"/><circle cx="384.6" cy="133.9" r="1.3"/><circle cx="385.8" cy="132.9" r="1.3"/><circle cx="383" cy="135" r="1.3"/><circle cx="372" cy="144.4" r="1.3"/><circle cx="373.6" cy="143.4" r="1.3"/><circle cx="376.5" cy="141.4" r="1.3"/><circle cx="374.5" cy="142.3" r="1.3"/><circle cx="372.8" cy="143.2" r="1.3"/><circle cx="384.8" cy="134.1" r="1.3"/><circle cx="384.7" cy="133.9" r="1.3"/><circle cx="382.7" cy="135.7" r="1.3"/><circle cx="375.5" cy="141.6" r="1.3"/><circle cx="388.6" cy="131.3" r="1.3"/><circle cx="388.5" cy="130.6" r="1.3"/><circle cx="387" cy="132" r="1.3"/><circle cx="386.4" cy="131.7" r="1.3"/><circle cx="386.4" cy="132.1" r="1.3"/><circle cx="387.2" cy="131.4" r="1.3"/><circle cx="347.5" cy="163.8" r="1.3"/><circle cx="357.1" cy="156.4" r="1.3"/><circle cx="347.1" cy="163.7" r="1.3"/><circle cx="353.1" cy="158.8" r="1.3"/><circle cx="347.3" cy="162.9" r="1.3"/><circle cx="347.9" cy="163.6" r="1.3"/><circle cx="343.4" cy="168.3" r="1.3"/><circle cx="344.1" cy="167.6" r="1.3"/><circle cx="354.1" cy="158.1" r="1.3"/><circle cx="348.3" cy="161.2" r="1.3"/><circle cx="345.8" cy="164" r="1.3"/><circle cx="357.8" cy="155.4" r="1.3"/><circle cx="355.9" cy="155.4" r="1.3"/><circle cx="345.5" cy="166.3" r="1.3"/><circle cx="348.4" cy="161.7" r="1.3"/><circle cx="350.6" cy="161.2" r="1.3"/><circle cx="343.8" cy="165.8" r="1.3"/><circle cx="348.3" cy="162.2" r="1.3"/><circle cx="345.8" cy="165.2" r="1.3"/><circle cx="354.8" cy="157" r="1.3"/><circle cx="342.6" cy="168.7" r="1.3"/><circle cx="357.9" cy="154.8" r="1.3"/><circle cx="345" cy="164.5" r="1.3"/><circle cx="346.6" cy="160.1" r="1.3"/><circle cx="342.3" cy="167.2" r="1.3"/><circle cx="356.5" cy="155.7" r="1.3"/><circle cx="355.1" cy="158.1" r="1.3"/><circle cx="342.1" cy="166.9" r="1.3"/><circle cx="350" cy="162.8" r="1.3"/><circle cx="347.6" cy="164.1" r="1.3"/><circle cx="351.3" cy="159.9" r="1.3"/><circle cx="346.7" cy="165.3" r="1.3"/><circle cx="357.3" cy="153.6" r="1.3"/><circle cx="344.7" cy="164.7" r="1.3"/><circle cx="354.9" cy="157.7" r="1.3"/><circle cx="345.6" cy="165.7" r="1.3"/><circle cx="352" cy="160.9" r="1.3"/><circle cx="348.3" cy="164.2" r="1.3"/><circle cx="365.4" cy="147.9" r="1.3"/><circle cx="365.3" cy="147.7" r="1.3"/><circle cx="366.8" cy="146.8" r="1.3"/><circle cx="359" cy="153.5" r="1.3"/><circle cx="358.8" cy="154.4" r="1.3"/><circle cx="371.6" cy="142.7" r="1.3"/><circle cx="361.5" cy="153" r="1.3"/><circle cx="363" cy="150.3" r="1.3"/><circle cx="361.4" cy="150.2" r="1.3"/><circle cx="367" cy="145.6" r="1.3"/><circle cx="371.8" cy="143.4" r="1.3"/><circle cx="363.6" cy="150.1" r="1.3"/><circle cx="362.5" cy="149.4" r="1.3"/><circle cx="362.9" cy="148.6" r="1.3"/><circle cx="372.4" cy="143.9" r="1.3"/><circle cx="373.3" cy="142.1" r="1.3"/><circle cx="372.7" cy="141.9" r="1.3"/><circle cx="376.5" cy="137.6" r="1.3"/><circle cx="385.8" cy="131.9" r="1.3"/><circle cx="374" cy="140.4" r="1.3"/><circle cx="379.7" cy="136.5" r="1.3"/><circle cx="374.9" cy="137.9" r="1.3"/><circle cx="362" cy="143.3" r="1.3"/><circle cx="362.3" cy="145.5" r="1.3"/><circle cx="362.8" cy="147" r="1.3"/><circle cx="346" cy="160" r="1.3"/><circle cx="348.5" cy="158.2" r="1.3"/><circle cx="351" cy="156.5" r="1.3"/><circle cx="353.5" cy="154.5" r="1.3"/><circle cx="355" cy="153.5" r="1.3"/><circle cx="369" cy="144.5" r="1.3"/><circle cx="371" cy="143" r="1.3"/><circle cx="357.4" cy="158.1" r="1.3"/><circle cx="369.9" cy="150" r="1.3"/><circle cx="381.8" cy="140.3" r="1.3"/><circle cx="384" cy="136.5" r="1.3"/><circle cx="390" cy="124.8" r="1.3"/><circle cx="391.3" cy="126.2" r="1.3"/><circle cx="394.3" cy="124.4" r="1.3"/><circle cx="395.6" cy="123.6" r="1.3"/><circle cx="396.4" cy="124.8" r="1.3"/><circle cx="393.6" cy="127" r="1.3"/><circle cx="338.9" cy="172.9" r="1.3"/><circle cx="339.6" cy="172.2" r="1.3"/><circle cx="420.6" cy="106.7" r="1.3"/><circle cx="428.5" cy="101.1" r="1.3"/><circle cx="427.4" cy="102.9" r="1.3"/><circle cx="423.5" cy="104.5" r="1.3"/><circle cx="426.6" cy="102.9" r="1.3"/><circle cx="423.8" cy="103.4" r="1.3"/><circle cx="426.2" cy="102.3" r="1.3"/><circle cx="424.3" cy="105.1" r="1.3"/><circle cx="428.7" cy="102.2" r="1.3"/><circle cx="424.6" cy="103.6" r="1.3"/><circle cx="427.8" cy="101.5" r="1.3"/><circle cx="425.7" cy="104.4" r="1.3"/><circle cx="423.9" cy="104.8" r="1.3"/><circle cx="429.2" cy="100.7" r="1.3"/><circle cx="422.3" cy="106.8" r="1.3"/><circle cx="428.7" cy="101.6" r="1.3"/><circle cx="429.3" cy="101.9" r="1.3"/><circle cx="428.1" cy="102.5" r="1.3"/><circle cx="426" cy="103.1" r="1.3"/><circle cx="426.1" cy="103.3" r="1.3"/><circle cx="428.9" cy="101.3" r="1.3"/><circle cx="424.4" cy="103.6" r="1.3"/><circle cx="427.9" cy="101.3" r="1.3"/><circle cx="427.5" cy="103.2" r="1.3"/><circle cx="428.2" cy="100.5" r="1.3"/><circle cx="424.5" cy="105.5" r="1.3"/><circle cx="426.4" cy="103.5" r="1.3"/><circle cx="421.3" cy="106.9" r="1.3"/><circle cx="421.1" cy="107.6" r="1.3"/><circle cx="421.5" cy="107.3" r="1.3"/><circle cx="427.1" cy="103.6" r="1.3"/><circle cx="423.7" cy="104.9" r="1.3"/><circle cx="428.7" cy="101.3" r="1.3"/><circle cx="421.2" cy="106.9" r="1.3"/><circle cx="438.6" cy="92.3" r="1.3"/><circle cx="440.3" cy="93" r="1.3"/><circle cx="441.6" cy="90.9" r="1.3"/><circle cx="439.6" cy="93.7" r="1.3"/><circle cx="442.8" cy="90.5" r="1.3"/><circle cx="438.3" cy="94.5" r="1.3"/><circle cx="439.6" cy="93.1" r="1.3"/><circle cx="439.9" cy="93.2" r="1.3"/><circle cx="440" cy="92.3" r="1.3"/><circle cx="439.7" cy="92" r="1.3"/><circle cx="438.4" cy="94" r="1.3"/><circle cx="439.3" cy="93.4" r="1.3"/><circle cx="439.5" cy="94.2" r="1.3"/><circle cx="441.5" cy="89.8" r="1.3"/><circle cx="440.1" cy="92.1" r="1.3"/><circle cx="441.7" cy="91.8" r="1.3"/><circle cx="412" cy="113" r="1.3"/><circle cx="431" cy="98" r="1.3"/><circle cx="419" cy="108" r="1.3"/><circle cx="450" cy="82" r="1.3"/><circle cx="451.5" cy="86" r="1.3"/><circle cx="453.8" cy="82.7" r="1.3"/><circle cx="462.2" cy="72" r="1.3"/><circle cx="467.3" cy="70" r="1.3"/><circle cx="468" cy="64.9" r="1.3"/><circle cx="466" cy="59.8" r="1.3"/><circle cx="469" cy="59" r="1.3"/><circle cx="471.6" cy="58" r="1.3"/><circle cx="475.1" cy="54.7" r="1.3"/><circle cx="481.2" cy="47.6" r="1.3"/><circle cx="482.5" cy="49.6" r="1.3"/><circle cx="481.8" cy="53.4" r="1.3"/><circle cx="485.6" cy="50.4" r="1.3"/><circle cx="485" cy="57.3" r="1.3"/><circle cx="485.8" cy="56.5" r="1.3"/><circle cx="494" cy="48.9" r="1.3"/><circle cx="498.5" cy="41.2" r="1.3"/><circle cx="499.6" cy="50.4" r="1.3"/><circle cx="535.4" cy="17.3" r="1.3"/><circle cx="538" cy="19.8" r="1.3"/><circle cx="536" cy="22.4" r="1.3"/></g>
<path d="M338.9 172.8 L343 169.1 L347 165.5 L351.1 161.9 L355.2 158.4 L359.2 154.9 L363.3 151.5 L367.3 148.1 L371.4 144.7 L375.5 141.4 L379.5 138.1 L383.6 134.8 L387.7 131.6 L391.7 128.4 L395.8 125.2 L399.8 122.1 L403.9 118.9 L408 115.8 L412 112.7 L416.1 109.6 L420.2 106.6 L424.2 103.5 L428.3 100.5 L432.4 97.4 L436.4 94.4 L440.5 91.3 L444.5 88.3 L448.6 85.2 L452.7 82.2 L456.7 79.1 L460.8 76 L464.9 72.9 L468.9 69.8 L473 66.7 L477.1 63.5 L481.1 60.3 L485.2 57.1 L489.2 53.9 L493.3 50.7 L497.4 47.4 L501.4 44.1 L505.5 40.7 L509.6 37.3 L513.6 33.9 L517.7 30.4 L521.7 26.8 L525.8 23.3 L529.9 19.6 L533.9 16 L538 12.2" fill="none" stroke="#ee2030" stroke-width="1.0"/>
<rect x="331.4" y="6" width="93.6" height="20" rx="1.2" fill="#f0f0f6" fill-opacity="0.82" stroke="#d6d6e0" stroke-width="0.5"/>
<line x1="334" y1="11.4" x2="347" y2="11.4" stroke="#ee2030" stroke-width="0.9"/>
<rect x="334" y="18.4" width="13" height="4.6" fill="#f4b4bc"/>
<text class="lg" font-size="6.41" x="352.6" y="13.68">Polynomial Fit</text>
<text class="lg" font-size="6.41" x="352.6" y="22.88">95% Confidence Interval</text>
<text class="r2" font-size="6.96" x="330" y="37"><tspan font-style="italic">R</tspan><tspan dy="-2.51" font-size="4.87">2</tspan><tspan dy="2.51"> = 0.9993</tspan></text>
<rect x="37" y="251" width="218.8" height="178.2" fill="#EAEAF2"/>
<g stroke="#fff" stroke-width="0.5" opacity="0.7"><line x1="51.5" y1="251" x2="51.5" y2="429.2"/><line x1="86.8" y1="251" x2="86.8" y2="429.2"/><line x1="122.1" y1="251" x2="122.1" y2="429.2"/><line x1="157.4" y1="251" x2="157.4" y2="429.2"/><line x1="192.7" y1="251" x2="192.7" y2="429.2"/><line x1="228" y1="251" x2="228" y2="429.2"/><line x1="37" y1="420.3" x2="255.8" y2="420.3"/><line x1="37" y1="400.4" x2="255.8" y2="400.4"/><line x1="37" y1="380.4" x2="255.8" y2="380.4"/><line x1="37" y1="360.4" x2="255.8" y2="360.4"/><line x1="37" y1="340.5" x2="255.8" y2="340.5"/><line x1="37" y1="320.6" x2="255.8" y2="320.6"/><line x1="37" y1="300.6" x2="255.8" y2="300.6"/><line x1="37" y1="280.6" x2="255.8" y2="280.6"/><line x1="37" y1="260.7" x2="255.8" y2="260.7"/></g>
<g class="tk"><text x="51.5" y="437.1" text-anchor="middle">10</text><text x="86.8" y="437.1" text-anchor="middle">20</text><text x="122.1" y="437.1" text-anchor="middle">30</text><text x="157.4" y="437.1" text-anchor="middle">40</text><text x="192.7" y="437.1" text-anchor="middle">50</text><text x="228" y="437.1" text-anchor="middle">60</text><text x="33.4" y="422.4" text-anchor="end">0</text><text x="33.4" y="402.5" text-anchor="end">50,000</text><text x="33.4" y="382.6" text-anchor="end">100,000</text><text x="33.4" y="362.6" text-anchor="end">150,000</text><text x="33.4" y="342.6" text-anchor="end">200,000</text><text x="33.4" y="322.7" text-anchor="end">250,000</text><text x="33.4" y="302.8" text-anchor="end">300,000</text><text x="33.4" y="282.8" text-anchor="end">350,000</text><text x="33.4" y="262.9" text-anchor="end">400,000</text></g>
<text class="al" x="146.4" y="444.3" text-anchor="middle">B[m]</text>
<text class="al" transform="translate(7 341.6) rotate(-90)" text-anchor="middle">DWT[t]</text>
<text class="cap" x="143.1" y="468" text-anchor="middle">(i)</text>
<g fill="#000"><circle cx="61.5" cy="419.5" r="1.3"/><circle cx="78.6" cy="418.6" r="1.3"/><circle cx="56.8" cy="419.7" r="1.3"/><circle cx="63.1" cy="419.6" r="1.3"/><circle cx="79" cy="417.6" r="1.3"/><circle cx="92.5" cy="416.9" r="1.3"/><circle cx="62.5" cy="418.6" r="1.3"/><circle cx="53.9" cy="419.3" r="1.3"/><circle cx="51.6" cy="419.8" r="1.3"/><circle cx="79" cy="418.6" r="1.3"/><circle cx="90.2" cy="416.7" r="1.3"/><circle cx="46.2" cy="419.3" r="1.3"/><circle cx="62.7" cy="419.5" r="1.3"/><circle cx="53.9" cy="419" r="1.3"/><circle cx="93.2" cy="417.1" r="1.3"/><circle cx="52" cy="419.4" r="1.3"/><circle cx="48.8" cy="418.7" r="1.3"/><circle cx="83.9" cy="418.4" r="1.3"/><circle cx="95.4" cy="417.2" r="1.3"/><circle cx="84.2" cy="418.2" r="1.3"/><circle cx="51.1" cy="418.9" r="1.3"/><circle cx="65.8" cy="418.5" r="1.3"/><circle cx="71.5" cy="418.3" r="1.3"/><circle cx="90.4" cy="417.5" r="1.3"/><circle cx="83.1" cy="418" r="1.3"/><circle cx="48.4" cy="419.4" r="1.3"/><circle cx="68.1" cy="419.6" r="1.3"/><circle cx="84.4" cy="418.6" r="1.3"/><circle cx="72.6" cy="418.2" r="1.3"/><circle cx="78.8" cy="417.9" r="1.3"/><circle cx="93.9" cy="418.2" r="1.3"/><circle cx="94.4" cy="416.8" r="1.3"/><circle cx="87.3" cy="418.5" r="1.3"/><circle cx="74.1" cy="419.3" r="1.3"/><circle cx="60.8" cy="418.8" r="1.3"/><circle cx="53.4" cy="419.1" r="1.3"/><circle cx="53.8" cy="419.3" r="1.3"/><circle cx="77.5" cy="417.9" r="1.3"/><circle cx="84.1" cy="417.3" r="1.3"/><circle cx="88.4" cy="417.3" r="1.3"/><circle cx="91.2" cy="417.8" r="1.3"/><circle cx="59.8" cy="418.9" r="1.3"/><circle cx="62.2" cy="418.9" r="1.3"/><circle cx="55.2" cy="419" r="1.3"/><circle cx="72.7" cy="417.8" r="1.3"/><circle cx="92.8" cy="418.1" r="1.3"/><circle cx="83.4" cy="416.6" r="1.3"/><circle cx="67.3" cy="418.5" r="1.3"/><circle cx="53.4" cy="419.5" r="1.3"/><circle cx="87.6" cy="416.7" r="1.3"/><circle cx="90.3" cy="417.7" r="1.3"/><circle cx="83.9" cy="418.6" r="1.3"/><circle cx="60" cy="418.7" r="1.3"/><circle cx="65" cy="419" r="1.3"/><circle cx="74.6" cy="417.9" r="1.3"/><circle cx="91.4" cy="417.6" r="1.3"/><circle cx="57.6" cy="419.2" r="1.3"/><circle cx="66.4" cy="418.9" r="1.3"/><circle cx="48.4" cy="419.8" r="1.3"/><circle cx="45.6" cy="419.6" r="1.3"/><circle cx="57.6" cy="419.7" r="1.3"/><circle cx="85.9" cy="418.1" r="1.3"/><circle cx="79.2" cy="417.6" r="1.3"/><circle cx="69.3" cy="418.8" r="1.3"/><circle cx="65.9" cy="419.1" r="1.3"/><circle cx="58.7" cy="418.5" r="1.3"/><circle cx="83.8" cy="418.7" r="1.3"/><circle cx="69.8" cy="418.7" r="1.3"/><circle cx="48.9" cy="419.5" r="1.3"/><circle cx="76.8" cy="417.9" r="1.3"/><circle cx="95.2" cy="417" r="1.3"/><circle cx="49" cy="419.4" r="1.3"/><circle cx="95.4" cy="416.7" r="1.3"/><circle cx="50.4" cy="419.3" r="1.3"/><circle cx="60.8" cy="418.1" r="1.3"/><circle cx="94.3" cy="417.9" r="1.3"/><circle cx="94.1" cy="416.3" r="1.3"/><circle cx="54.7" cy="418.4" r="1.3"/><circle cx="81.5" cy="417.5" r="1.3"/><circle cx="76.1" cy="417.9" r="1.3"/><circle cx="65.3" cy="419.1" r="1.3"/><circle cx="84.7" cy="417.3" r="1.3"/><circle cx="77.2" cy="418.5" r="1.3"/><circle cx="56.7" cy="418.8" r="1.3"/><circle cx="70" cy="419.8" r="1.3"/><circle cx="80.9" cy="418.4" r="1.3"/><circle cx="76.5" cy="419.4" r="1.3"/><circle cx="72.6" cy="418" r="1.3"/><circle cx="82.4" cy="418.4" r="1.3"/><circle cx="52.2" cy="418.9" r="1.3"/><circle cx="47.6" cy="419.6" r="1.3"/><circle cx="47" cy="419.6" r="1.3"/><circle cx="76.5" cy="417.5" r="1.3"/><circle cx="67.2" cy="418.2" r="1.3"/><circle cx="87.3" cy="416.9" r="1.3"/><circle cx="94.1" cy="416.1" r="1.3"/><circle cx="51" cy="419" r="1.3"/><circle cx="64.4" cy="418.5" r="1.3"/><circle cx="66.4" cy="418.1" r="1.3"/><circle cx="72.8" cy="418.6" r="1.3"/><circle cx="91" cy="417.7" r="1.3"/><circle cx="75.5" cy="417.7" r="1.3"/><circle cx="60.7" cy="418.8" r="1.3"/><circle cx="78.6" cy="418.3" r="1.3"/><circle cx="61.9" cy="418.9" r="1.3"/><circle cx="73.2" cy="418.1" r="1.3"/><circle cx="50.3" cy="419.6" r="1.3"/><circle cx="73.7" cy="418.9" r="1.3"/><circle cx="69.4" cy="419" r="1.3"/><circle cx="77.7" cy="418.2" r="1.3"/><circle cx="73.8" cy="419.5" r="1.3"/><circle cx="74.1" cy="419.4" r="1.3"/><circle cx="82.3" cy="417.8" r="1.3"/><circle cx="52.1" cy="419.2" r="1.3"/><circle cx="83.1" cy="418.7" r="1.3"/><circle cx="76.7" cy="417.9" r="1.3"/><circle cx="79.9" cy="418.4" r="1.3"/><circle cx="65.4" cy="418.9" r="1.3"/><circle cx="49.7" cy="419.1" r="1.3"/><circle cx="91.6" cy="417.1" r="1.3"/><circle cx="86.8" cy="416.7" r="1.3"/><circle cx="94.3" cy="416.7" r="1.3"/><circle cx="68.5" cy="417.8" r="1.3"/><circle cx="89.7" cy="418.8" r="1.3"/><circle cx="89.1" cy="418.4" r="1.3"/><circle cx="73" cy="419.2" r="1.3"/><circle cx="90.5" cy="417.5" r="1.3"/><circle cx="86.2" cy="418.3" r="1.3"/><circle cx="50.5" cy="419.8" r="1.3"/><circle cx="52.1" cy="419.6" r="1.3"/><circle cx="65.8" cy="419.3" r="1.3"/><circle cx="72.1" cy="418.1" r="1.3"/><circle cx="78.1" cy="418.5" r="1.3"/><circle cx="73.7" cy="418.2" r="1.3"/><circle cx="89.3" cy="416.7" r="1.3"/><circle cx="85.5" cy="417.1" r="1.3"/><circle cx="50.5" cy="419.4" r="1.3"/><circle cx="62.4" cy="419.5" r="1.3"/><circle cx="89.9" cy="416.5" r="1.3"/><circle cx="83.2" cy="419" r="1.3"/><circle cx="46.2" cy="419.9" r="1.3"/><circle cx="76.8" cy="418.1" r="1.3"/><circle cx="51.7" cy="419.1" r="1.3"/><circle cx="70.6" cy="418.6" r="1.3"/><circle cx="95.2" cy="417.6" r="1.3"/><circle cx="49.2" cy="419.2" r="1.3"/><circle cx="86.7" cy="417" r="1.3"/><circle cx="69.6" cy="418.8" r="1.3"/><circle cx="94.4" cy="415.6" r="1.3"/><circle cx="88.5" cy="417.6" r="1.3"/><circle cx="48.7" cy="419.7" r="1.3"/><circle cx="77.6" cy="418.5" r="1.3"/><circle cx="88.5" cy="418" r="1.3"/><circle cx="59.4" cy="419.3" r="1.3"/><circle cx="80.7" cy="418.6" r="1.3"/><circle cx="58.1" cy="419.2" r="1.3"/><circle cx="55.7" cy="418.9" r="1.3"/><circle cx="62" cy="418.9" r="1.3"/><circle cx="60.1" cy="419.1" r="1.3"/><circle cx="93.6" cy="417.9" r="1.3"/><circle cx="57.2" cy="419.8" r="1.3"/><circle cx="66.7" cy="419" r="1.3"/><circle cx="69.7" cy="418.3" r="1.3"/><circle cx="80" cy="417.8" r="1.3"/><circle cx="94" cy="416.9" r="1.3"/><circle cx="76.2" cy="419.1" r="1.3"/><circle cx="88.5" cy="417.7" r="1.3"/><circle cx="52" cy="419.2" r="1.3"/><circle cx="78.5" cy="417.8" r="1.3"/><circle cx="54" cy="419.6" r="1.3"/><circle cx="89.1" cy="417.6" r="1.3"/><circle cx="75.2" cy="418.4" r="1.3"/><circle cx="52.2" cy="419.3" r="1.3"/><circle cx="88" cy="418.6" r="1.3"/><circle cx="71.7" cy="418.5" r="1.3"/><circle cx="69.7" cy="419.5" r="1.3"/><circle cx="49.5" cy="419.8" r="1.3"/><circle cx="90.8" cy="417.3" r="1.3"/><circle cx="71.1" cy="419" r="1.3"/><circle cx="88.7" cy="417.4" r="1.3"/><circle cx="49.2" cy="419" r="1.3"/><circle cx="79.5" cy="418.1" r="1.3"/><circle cx="64.2" cy="418.5" r="1.3"/><circle cx="72.3" cy="418.8" r="1.3"/><circle cx="76.7" cy="418.4" r="1.3"/><circle cx="86.8" cy="418" r="1.3"/><circle cx="91.7" cy="417.8" r="1.3"/><circle cx="53.8" cy="418" r="1.3"/><circle cx="88.5" cy="417.7" r="1.3"/><circle cx="51.3" cy="418.6" r="1.3"/><circle cx="45.9" cy="419.4" r="1.3"/><circle cx="60.5" cy="418.7" r="1.3"/><circle cx="59.7" cy="419.2" r="1.3"/><circle cx="84" cy="418.7" r="1.3"/><circle cx="73.5" cy="417.6" r="1.3"/><circle cx="64.8" cy="419" r="1.3"/><circle cx="85" cy="417.7" r="1.3"/><circle cx="92.3" cy="416" r="1.3"/><circle cx="77.5" cy="418.7" r="1.3"/><circle cx="78.1" cy="418.3" r="1.3"/><circle cx="85.2" cy="417.5" r="1.3"/><circle cx="65.2" cy="418.5" r="1.3"/><circle cx="89.9" cy="419.4" r="1.3"/><circle cx="61.2" cy="418.9" r="1.3"/><circle cx="56.6" cy="418.4" r="1.3"/><circle cx="83.8" cy="417.3" r="1.3"/><circle cx="61.1" cy="418.9" r="1.3"/><circle cx="66.7" cy="418.6" r="1.3"/><circle cx="73" cy="418.5" r="1.3"/><circle cx="58.9" cy="418.7" r="1.3"/><circle cx="69.8" cy="418.9" r="1.3"/><circle cx="67.4" cy="418.5" r="1.3"/><circle cx="58" cy="418.6" r="1.3"/><circle cx="76.1" cy="417.9" r="1.3"/><circle cx="70.8" cy="418.4" r="1.3"/><circle cx="60.6" cy="419.4" r="1.3"/><circle cx="82.6" cy="418.3" r="1.3"/><circle cx="69.4" cy="418.5" r="1.3"/><circle cx="55.9" cy="419.2" r="1.3"/><circle cx="85.8" cy="417.9" r="1.3"/><circle cx="69.3" cy="419.7" r="1.3"/><circle cx="58.2" cy="418.9" r="1.3"/><circle cx="65.1" cy="419.1" r="1.3"/><circle cx="63.9" cy="419.3" r="1.3"/><circle cx="56.5" cy="418.8" r="1.3"/><circle cx="66.6" cy="418.9" r="1.3"/><circle cx="60.9" cy="419.1" r="1.3"/><circle cx="62.5" cy="418.8" r="1.3"/><circle cx="78.6" cy="418.6" r="1.3"/><circle cx="60.5" cy="419.5" r="1.3"/><circle cx="55.8" cy="419.6" r="1.3"/><circle cx="61.2" cy="419" r="1.3"/><circle cx="65.3" cy="418.9" r="1.3"/><circle cx="60.8" cy="420.1" r="1.3"/><circle cx="75.9" cy="417.8" r="1.3"/><circle cx="85.8" cy="417.9" r="1.3"/><circle cx="84.1" cy="418.4" r="1.3"/><circle cx="71.5" cy="418.7" r="1.3"/><circle cx="82.5" cy="418.4" r="1.3"/><circle cx="82.7" cy="418.1" r="1.3"/><circle cx="77.2" cy="418.7" r="1.3"/><circle cx="83.1" cy="418.7" r="1.3"/><circle cx="68.3" cy="418.6" r="1.3"/><circle cx="81.2" cy="418.2" r="1.3"/><circle cx="73.3" cy="418.5" r="1.3"/><circle cx="80.9" cy="417.9" r="1.3"/><circle cx="80.9" cy="418.1" r="1.3"/><circle cx="57.3" cy="418.7" r="1.3"/><circle cx="84.2" cy="418.3" r="1.3"/><circle cx="56.3" cy="419.9" r="1.3"/><circle cx="70" cy="419.5" r="1.3"/><circle cx="75.7" cy="419.1" r="1.3"/><circle cx="83.8" cy="417.3" r="1.3"/><circle cx="57" cy="419.8" r="1.3"/><circle cx="78.5" cy="417.9" r="1.3"/><circle cx="67.1" cy="418.8" r="1.3"/><circle cx="56.4" cy="419.9" r="1.3"/><circle cx="66.6" cy="418.3" r="1.3"/><circle cx="77.4" cy="418.8" r="1.3"/><circle cx="57.9" cy="419.3" r="1.3"/><circle cx="97.5" cy="417.3" r="1.3"/><circle cx="99.8" cy="417" r="1.3"/><circle cx="119.8" cy="411.9" r="1.3"/><circle cx="117.9" cy="407.2" r="1.3"/><circle cx="127" cy="401.6" r="1.3"/><circle cx="107.1" cy="412.8" r="1.3"/><circle cx="124.4" cy="404.2" r="1.3"/><circle cx="128" cy="402.6" r="1.3"/><circle cx="122.9" cy="405.3" r="1.3"/><circle cx="106.3" cy="414.4" r="1.3"/><circle cx="107.3" cy="412.7" r="1.3"/><circle cx="105.6" cy="410.2" r="1.3"/><circle cx="112" cy="409.9" r="1.3"/><circle cx="123.2" cy="406.5" r="1.3"/><circle cx="107.1" cy="411.2" r="1.3"/><circle cx="115.1" cy="411.5" r="1.3"/><circle cx="104.5" cy="415.2" r="1.3"/><circle cx="121.1" cy="404" r="1.3"/><circle cx="105.9" cy="413.5" r="1.3"/><circle cx="124.1" cy="409.6" r="1.3"/><circle cx="119.4" cy="410.6" r="1.3"/><circle cx="108.3" cy="411.6" r="1.3"/><circle cx="121.6" cy="408.1" r="1.3"/><circle cx="112.4" cy="408.4" r="1.3"/><circle cx="117" cy="404.7" r="1.3"/><circle cx="117.9" cy="408.9" r="1.3"/><circle cx="110.4" cy="411.4" r="1.3"/><circle cx="114.2" cy="410.4" r="1.3"/><circle cx="123.9" cy="405" r="1.3"/><circle cx="125.9" cy="405" r="1.3"/><circle cx="125.5" cy="403.2" r="1.3"/><circle cx="118.2" cy="408.6" r="1.3"/><circle cx="126.2" cy="406" r="1.3"/><circle cx="107" cy="412.2" r="1.3"/><circle cx="129.1" cy="404.8" r="1.3"/><circle cx="104.5" cy="409.3" r="1.3"/><circle cx="126.9" cy="402" r="1.3"/><circle cx="124" cy="408.4" r="1.3"/><circle cx="113.5" cy="413.6" r="1.3"/><circle cx="124" cy="405.6" r="1.3"/><circle cx="128.4" cy="402.9" r="1.3"/><circle cx="107.6" cy="409.1" r="1.3"/><circle cx="120.3" cy="407.5" r="1.3"/><circle cx="103.4" cy="415.6" r="1.3"/><circle cx="120.7" cy="403.1" r="1.3"/><circle cx="104.9" cy="414.5" r="1.3"/><circle cx="120.8" cy="407.5" r="1.3"/><circle cx="104" cy="414.6" r="1.3"/><circle cx="113.9" cy="406.8" r="1.3"/><circle cx="126" cy="405.4" r="1.3"/><circle cx="111.3" cy="407" r="1.3"/><circle cx="128.7" cy="406.5" r="1.3"/><circle cx="115.6" cy="408.9" r="1.3"/><circle cx="108.1" cy="409.2" r="1.3"/><circle cx="127.8" cy="406.5" r="1.3"/><circle cx="107.4" cy="414.8" r="1.3"/><circle cx="118.9" cy="405.8" r="1.3"/><circle cx="128" cy="408.4" r="1.3"/><circle cx="127.9" cy="401.1" r="1.3"/><circle cx="117.9" cy="408.4" r="1.3"/><circle cx="108.9" cy="414.2" r="1.3"/><circle cx="116.4" cy="403.1" r="1.3"/><circle cx="111" cy="412.9" r="1.3"/><circle cx="111.5" cy="410.2" r="1.3"/><circle cx="111.6" cy="410.3" r="1.3"/><circle cx="108.6" cy="409.2" r="1.3"/><circle cx="104.3" cy="414.2" r="1.3"/><circle cx="123" cy="402.9" r="1.3"/><circle cx="103.6" cy="411.5" r="1.3"/><circle cx="118.3" cy="406.5" r="1.3"/><circle cx="112.9" cy="407" r="1.3"/><circle cx="120.3" cy="410.2" r="1.3"/><circle cx="118.5" cy="404.3" r="1.3"/><circle cx="115.9" cy="406.8" r="1.3"/><circle cx="123.7" cy="404.5" r="1.3"/><circle cx="118.3" cy="407.5" r="1.3"/><circle cx="126.8" cy="405.7" r="1.3"/><circle cx="118.6" cy="409.2" r="1.3"/><circle cx="126.3" cy="403.4" r="1.3"/><circle cx="125.9" cy="403.3" r="1.3"/><circle cx="121.8" cy="406.1" r="1.3"/><circle cx="111.9" cy="412.1" r="1.3"/><circle cx="116" cy="410.1" r="1.3"/><circle cx="105.4" cy="411.8" r="1.3"/><circle cx="122.3" cy="401" r="1.3"/><circle cx="120.2" cy="411.6" r="1.3"/><circle cx="124.7" cy="406.9" r="1.3"/><circle cx="105.5" cy="413.6" r="1.3"/><circle cx="106.7" cy="413.2" r="1.3"/><circle cx="120.2" cy="405.5" r="1.3"/><circle cx="122.5" cy="403.4" r="1.3"/><circle cx="105.2" cy="412.3" r="1.3"/><circle cx="104.1" cy="413" r="1.3"/><circle cx="111.8" cy="408.8" r="1.3"/><circle cx="112.2" cy="406.7" r="1.3"/><circle cx="104.7" cy="412.6" r="1.3"/><circle cx="105.9" cy="414.1" r="1.3"/><circle cx="108.6" cy="410.5" r="1.3"/><circle cx="103.7" cy="413.8" r="1.3"/><circle cx="107.2" cy="407.5" r="1.3"/><circle cx="104" cy="413.1" r="1.3"/><circle cx="113" cy="409.5" r="1.3"/><circle cx="122.9" cy="402.7" r="1.3"/><circle cx="120.6" cy="402.5" r="1.3"/><circle cx="119.1" cy="408.1" r="1.3"/><circle cx="115.6" cy="406.8" r="1.3"/><circle cx="108.2" cy="412.9" r="1.3"/><circle cx="104.6" cy="412.4" r="1.3"/><circle cx="108.2" cy="413.3" r="1.3"/><circle cx="128.1" cy="402.5" r="1.3"/><circle cx="124.6" cy="401.3" r="1.3"/><circle cx="118.2" cy="407.3" r="1.3"/><circle cx="119.4" cy="406.3" r="1.3"/><circle cx="122.8" cy="407.1" r="1.3"/><circle cx="124.8" cy="403.7" r="1.3"/><circle cx="109.6" cy="410.3" r="1.3"/><circle cx="124.3" cy="406.9" r="1.3"/><circle cx="120.3" cy="409.3" r="1.3"/><circle cx="110.6" cy="412.5" r="1.3"/><circle cx="110.8" cy="413.1" r="1.3"/><circle cx="107.8" cy="413" r="1.3"/><circle cx="117.6" cy="409.5" r="1.3"/><circle cx="128.7" cy="405.1" r="1.3"/><circle cx="124" cy="406" r="1.3"/><circle cx="107.7" cy="412.2" r="1.3"/><circle cx="106.4" cy="412.9" r="1.3"/><circle cx="110.7" cy="415.8" r="1.3"/><circle cx="107.6" cy="412.1" r="1.3"/><circle cx="107" cy="411.8" r="1.3"/><circle cx="122.5" cy="404.9" r="1.3"/><circle cx="111.5" cy="410.3" r="1.3"/><circle cx="118.1" cy="408.1" r="1.3"/><circle cx="111.6" cy="407.8" r="1.3"/><circle cx="129.1" cy="398.3" r="1.3"/><circle cx="118.8" cy="407.9" r="1.3"/><circle cx="107" cy="408.6" r="1.3"/><circle cx="123.7" cy="405.8" r="1.3"/><circle cx="110.9" cy="411" r="1.3"/><circle cx="115.2" cy="411.5" r="1.3"/><circle cx="110.8" cy="414.5" r="1.3"/><circle cx="116.1" cy="409.3" r="1.3"/><circle cx="111.4" cy="409.2" r="1.3"/><circle cx="111.7" cy="407.6" r="1.3"/><circle cx="107.4" cy="410.3" r="1.3"/><circle cx="128.5" cy="403.2" r="1.3"/><circle cx="108.7" cy="406.8" r="1.3"/><circle cx="110.7" cy="410.9" r="1.3"/><circle cx="114" cy="409.3" r="1.3"/><circle cx="106.4" cy="414.1" r="1.3"/><circle cx="109.3" cy="410.6" r="1.3"/><circle cx="114" cy="409.6" r="1.3"/><circle cx="118.6" cy="405.7" r="1.3"/><circle cx="117.4" cy="406.8" r="1.3"/><circle cx="113" cy="405.7" r="1.3"/><circle cx="121" cy="406.6" r="1.3"/><circle cx="122.8" cy="409.1" r="1.3"/><circle cx="110.2" cy="411.3" r="1.3"/><circle cx="109.6" cy="412.1" r="1.3"/><circle cx="119.7" cy="404.6" r="1.3"/><circle cx="114.1" cy="412.6" r="1.3"/><circle cx="125.1" cy="402.8" r="1.3"/><circle cx="103.6" cy="415.6" r="1.3"/><circle cx="117.5" cy="408.1" r="1.3"/><circle cx="112.4" cy="407.8" r="1.3"/><circle cx="108.9" cy="413.9" r="1.3"/><circle cx="126" cy="404.2" r="1.3"/><circle cx="109" cy="411.9" r="1.3"/><circle cx="124" cy="406.1" r="1.3"/><circle cx="125.7" cy="404.3" r="1.3"/><circle cx="128.6" cy="402.2" r="1.3"/><circle cx="106.3" cy="413.7" r="1.3"/><circle cx="107.4" cy="411.2" r="1.3"/><circle cx="105.5" cy="413.1" r="1.3"/><circle cx="111.7" cy="408.8" r="1.3"/><circle cx="127.1" cy="400.3" r="1.3"/><circle cx="120.2" cy="405.1" r="1.3"/><circle cx="107.4" cy="411" r="1.3"/><circle cx="106.1" cy="412.8" r="1.3"/><circle cx="122.9" cy="408.2" r="1.3"/><circle cx="119.6" cy="403" r="1.3"/><circle cx="103.4" cy="414.2" r="1.3"/><circle cx="118.7" cy="402.2" r="1.3"/><circle cx="108.3" cy="409.4" r="1.3"/><circle cx="111" cy="409.4" r="1.3"/><circle cx="105.9" cy="407.6" r="1.3"/><circle cx="129.3" cy="398.5" r="1.3"/><circle cx="115.3" cy="409.1" r="1.3"/><circle cx="119.5" cy="407.2" r="1.3"/><circle cx="108.6" cy="411.4" r="1.3"/><circle cx="113.1" cy="407.9" r="1.3"/><circle cx="120.3" cy="411.6" r="1.3"/><circle cx="122.9" cy="405.2" r="1.3"/><circle cx="127.1" cy="401.8" r="1.3"/><circle cx="109.8" cy="415" r="1.3"/><circle cx="109.6" cy="412.6" r="1.3"/><circle cx="113.9" cy="408.5" r="1.3"/><circle cx="111.4" cy="413.2" r="1.3"/><circle cx="124.8" cy="405.1" r="1.3"/><circle cx="113" cy="411.2" r="1.3"/><circle cx="113.1" cy="410.3" r="1.3"/><circle cx="116.5" cy="405.9" r="1.3"/><circle cx="118.1" cy="409.8" r="1.3"/><circle cx="112.6" cy="410.3" r="1.3"/><circle cx="103.5" cy="411.5" r="1.3"/><circle cx="122.6" cy="403.9" r="1.3"/><circle cx="106.3" cy="414.8" r="1.3"/><circle cx="125.7" cy="403.5" r="1.3"/><circle cx="109.8" cy="411.2" r="1.3"/><circle cx="110" cy="412.5" r="1.3"/><circle cx="117.3" cy="408.2" r="1.3"/><circle cx="127.1" cy="400.2" r="1.3"/><circle cx="113.3" cy="411.1" r="1.3"/><circle cx="106.3" cy="412.3" r="1.3"/><circle cx="108" cy="416" r="1.3"/><circle cx="110" cy="410.1" r="1.3"/><circle cx="108.4" cy="413.8" r="1.3"/><circle cx="104.7" cy="414.2" r="1.3"/><circle cx="103.1" cy="410.3" r="1.3"/><circle cx="103.8" cy="416.3" r="1.3"/><circle cx="108" cy="411.6" r="1.3"/><circle cx="105.2" cy="417.1" r="1.3"/><circle cx="105.7" cy="412.7" r="1.3"/><circle cx="109.6" cy="414.7" r="1.3"/><circle cx="106.8" cy="415.4" r="1.3"/><circle cx="103.3" cy="413.2" r="1.3"/><circle cx="108.5" cy="415.8" r="1.3"/><circle cx="109.2" cy="412.3" r="1.3"/><circle cx="106.3" cy="411.5" r="1.3"/><circle cx="104.3" cy="410" r="1.3"/><circle cx="104.4" cy="410.7" r="1.3"/><circle cx="106.1" cy="413.3" r="1.3"/><circle cx="108.3" cy="417.2" r="1.3"/><circle cx="106.8" cy="415.9" r="1.3"/><circle cx="106.3" cy="412.3" r="1.3"/><circle cx="102" cy="418.8" r="1.3"/><circle cx="111.3" cy="418.3" r="1.3"/><circle cx="121.7" cy="414.2" r="1.3"/><circle cx="125.8" cy="415.3" r="1.3"/><circle cx="129.6" cy="413" r="1.3"/><circle cx="129.9" cy="416.5" r="1.3"/><circle cx="115" cy="384.9" r="1.3"/><circle cx="113" cy="395" r="1.3"/><circle cx="123.5" cy="390.3" r="1.3"/><circle cx="122" cy="398.1" r="1.3"/><circle cx="134.5" cy="400.5" r="1.3"/><circle cx="129.3" cy="398.1" r="1.3"/><circle cx="129.8" cy="401.7" r="1.3"/><circle cx="130.4" cy="410.7" r="1.3"/><circle cx="130" cy="406.9" r="1.3"/><circle cx="130.2" cy="385.9" r="1.3"/><circle cx="129.8" cy="401.9" r="1.3"/><circle cx="129.5" cy="386.5" r="1.3"/><circle cx="129.8" cy="401.4" r="1.3"/><circle cx="129.8" cy="407.8" r="1.3"/><circle cx="130.3" cy="403.6" r="1.3"/><circle cx="130.5" cy="387.3" r="1.3"/><circle cx="129.7" cy="395.9" r="1.3"/><circle cx="129.8" cy="389.5" r="1.3"/><circle cx="129.9" cy="402.5" r="1.3"/><circle cx="129.8" cy="403.9" r="1.3"/><circle cx="129.5" cy="404.6" r="1.3"/><circle cx="129.9" cy="394" r="1.3"/><circle cx="130" cy="400.7" r="1.3"/><circle cx="130" cy="389.8" r="1.3"/><circle cx="129.5" cy="410" r="1.3"/><circle cx="129.9" cy="410.3" r="1.3"/><circle cx="129.4" cy="384.9" r="1.3"/><circle cx="130.2" cy="399.8" r="1.3"/><circle cx="129.6" cy="404.1" r="1.3"/><circle cx="129.8" cy="390.5" r="1.3"/><circle cx="129.8" cy="384.9" r="1.3"/><circle cx="129.7" cy="384.1" r="1.3"/><circle cx="129.6" cy="403.8" r="1.3"/><circle cx="129.4" cy="384.3" r="1.3"/><circle cx="130.4" cy="394.8" r="1.3"/><circle cx="130" cy="406.4" r="1.3"/><circle cx="130" cy="385.5" r="1.3"/><circle cx="130.5" cy="403.8" r="1.3"/><circle cx="129.9" cy="396.1" r="1.3"/><circle cx="130.1" cy="394.9" r="1.3"/><circle cx="129.9" cy="397.6" r="1.3"/><circle cx="130.3" cy="393.9" r="1.3"/><circle cx="130.1" cy="408.1" r="1.3"/><circle cx="130" cy="402.8" r="1.3"/><circle cx="129.8" cy="394.9" r="1.3"/><circle cx="130" cy="387.4" r="1.3"/><circle cx="130.3" cy="398.1" r="1.3"/><circle cx="129.9" cy="377.2" r="1.3"/><circle cx="130.1" cy="414.5" r="1.3"/><circle cx="150.1" cy="388.8" r="1.3"/><circle cx="150.5" cy="392" r="1.3"/><circle cx="150.6" cy="386" r="1.3"/><circle cx="150.9" cy="390.5" r="1.3"/><circle cx="150.6" cy="388.9" r="1.3"/><circle cx="150.2" cy="384.9" r="1.3"/><circle cx="150.2" cy="392.8" r="1.3"/><circle cx="150.6" cy="391.5" r="1.3"/><circle cx="150.7" cy="388.2" r="1.3"/><circle cx="151.4" cy="383" r="1.3"/><circle cx="150.3" cy="383.5" r="1.3"/><circle cx="150.5" cy="390.4" r="1.3"/><circle cx="150.5" cy="383.9" r="1.3"/><circle cx="154" cy="381" r="1.3"/><circle cx="153.4" cy="382" r="1.3"/><circle cx="153.4" cy="381.3" r="1.3"/><circle cx="138.5" cy="386.8" r="1.3"/><circle cx="139.8" cy="386.2" r="1.3"/><circle cx="145.4" cy="385" r="1.3"/><circle cx="147.2" cy="387.4" r="1.3"/><circle cx="135" cy="400.5" r="1.3"/><circle cx="148.7" cy="395.5" r="1.3"/><circle cx="144.3" cy="395.3" r="1.3"/><circle cx="148.8" cy="393.2" r="1.3"/><circle cx="144.1" cy="398.3" r="1.3"/><circle cx="142.9" cy="397.6" r="1.3"/><circle cx="147.6" cy="390.5" r="1.3"/><circle cx="150" cy="393.3" r="1.3"/><circle cx="142" cy="398.2" r="1.3"/><circle cx="149" cy="394.8" r="1.3"/><circle cx="146.6" cy="394.6" r="1.3"/><circle cx="148.7" cy="389.5" r="1.3"/><circle cx="149.1" cy="391.6" r="1.3"/><circle cx="144.6" cy="396.1" r="1.3"/><circle cx="150.1" cy="392.3" r="1.3"/><circle cx="142.7" cy="399.1" r="1.3"/><circle cx="145.1" cy="395.7" r="1.3"/><circle cx="141.5" cy="405" r="1.3"/><circle cx="142.2" cy="405.6" r="1.3"/><circle cx="142" cy="412.8" r="1.3"/><circle cx="145.4" cy="411" r="1.3"/><circle cx="150.3" cy="412.4" r="1.3"/><circle cx="157.9" cy="389.6" r="1.3"/><circle cx="158.1" cy="395.3" r="1.3"/><circle cx="158" cy="392.8" r="1.3"/><circle cx="158" cy="394.3" r="1.3"/><circle cx="157.4" cy="386.8" r="1.3"/><circle cx="157.8" cy="392.8" r="1.3"/><circle cx="157.7" cy="392.5" r="1.3"/><circle cx="158" cy="391.6" r="1.3"/><circle cx="157.2" cy="390.2" r="1.3"/><circle cx="157.7" cy="386.6" r="1.3"/><circle cx="157.8" cy="391.3" r="1.3"/><circle cx="158.1" cy="387" r="1.3"/><circle cx="157.7" cy="391.6" r="1.3"/><circle cx="157.3" cy="393.2" r="1.3"/><circle cx="168.3" cy="388.4" r="1.3"/><circle cx="167.7" cy="391" r="1.3"/><circle cx="168.6" cy="376.2" r="1.3"/><circle cx="167.7" cy="388.5" r="1.3"/><circle cx="167.6" cy="382.4" r="1.3"/><circle cx="168" cy="378.9" r="1.3"/><circle cx="168" cy="384.3" r="1.3"/><circle cx="168.2" cy="375.9" r="1.3"/><circle cx="167.9" cy="375.5" r="1.3"/><circle cx="168.6" cy="389.9" r="1.3"/><circle cx="168.3" cy="390.2" r="1.3"/><circle cx="168.4" cy="384.3" r="1.3"/><circle cx="167" cy="379" r="1.3"/><circle cx="168" cy="373.8" r="1.3"/><circle cx="167.6" cy="374.6" r="1.3"/><circle cx="168.2" cy="378.7" r="1.3"/><circle cx="168.2" cy="391.5" r="1.3"/><circle cx="167.9" cy="375" r="1.3"/><circle cx="168" cy="382.8" r="1.3"/><circle cx="167.9" cy="373.1" r="1.3"/><circle cx="167.7" cy="389.8" r="1.3"/><circle cx="167.7" cy="377" r="1.3"/><circle cx="165.5" cy="379.7" r="1.3"/><circle cx="165.3" cy="377" r="1.3"/><circle cx="165.2" cy="376.8" r="1.3"/><circle cx="165.3" cy="379.2" r="1.3"/><circle cx="164.8" cy="380.1" r="1.3"/><circle cx="165.2" cy="388.6" r="1.3"/><circle cx="171" cy="375.1" r="1.3"/><circle cx="170.9" cy="374.6" r="1.3"/><circle cx="171.3" cy="376.3" r="1.3"/><circle cx="176.7" cy="365.4" r="1.3"/><circle cx="176.6" cy="383.1" r="1.3"/><circle cx="177.1" cy="362.2" r="1.3"/><circle cx="177.1" cy="371.4" r="1.3"/><circle cx="177" cy="384" r="1.3"/><circle cx="177.1" cy="362.1" r="1.3"/><circle cx="176.8" cy="367.5" r="1.3"/><circle cx="177.2" cy="366.5" r="1.3"/><circle cx="176.8" cy="377" r="1.3"/><circle cx="176.5" cy="377.3" r="1.3"/><circle cx="177.3" cy="374.1" r="1.3"/><circle cx="177.5" cy="363.1" r="1.3"/><circle cx="177.1" cy="376.7" r="1.3"/><circle cx="177.2" cy="363" r="1.3"/><circle cx="176.9" cy="381.9" r="1.3"/><circle cx="177.4" cy="361.9" r="1.3"/><circle cx="177.5" cy="360.9" r="1.3"/><circle cx="177" cy="373.6" r="1.3"/><circle cx="177.3" cy="361.9" r="1.3"/><circle cx="176.9" cy="383.5" r="1.3"/><circle cx="177.5" cy="379" r="1.3"/><circle cx="177.4" cy="384.5" r="1.3"/><circle cx="176.4" cy="377.8" r="1.3"/><circle cx="176.9" cy="364.8" r="1.3"/><circle cx="176.7" cy="376" r="1.3"/><circle cx="176.7" cy="369.1" r="1.3"/><circle cx="178.4" cy="371.5" r="1.3"/><circle cx="178.6" cy="370.8" r="1.3"/><circle cx="178.4" cy="377" r="1.3"/><circle cx="178.4" cy="366.8" r="1.3"/><circle cx="177.5" cy="367" r="1.3"/><circle cx="178.4" cy="377.3" r="1.3"/><circle cx="177.9" cy="366.2" r="1.3"/><circle cx="178.6" cy="373.1" r="1.3"/><circle cx="171.6" cy="354.9" r="1.3"/><circle cx="174.7" cy="348" r="1.3"/><circle cx="174.7" cy="350.3" r="1.3"/><circle cx="174.7" cy="352.6" r="1.3"/><circle cx="178.1" cy="349" r="1.3"/><circle cx="174.4" cy="350.6" r="1.3"/><circle cx="175.6" cy="351.9" r="1.3"/><circle cx="185.7" cy="367.7" r="1.3"/><circle cx="185.9" cy="366.1" r="1.3"/><circle cx="186" cy="366.4" r="1.3"/><circle cx="186.4" cy="361.2" r="1.3"/><circle cx="186.2" cy="355.5" r="1.3"/><circle cx="186.5" cy="369.5" r="1.3"/><circle cx="186.3" cy="373.2" r="1.3"/><circle cx="186" cy="376" r="1.3"/><circle cx="187.1" cy="366.5" r="1.3"/><circle cx="186.8" cy="372.1" r="1.3"/><circle cx="185.7" cy="355.3" r="1.3"/><circle cx="186" cy="365.9" r="1.3"/><circle cx="186.2" cy="360.3" r="1.3"/><circle cx="186.6" cy="364.2" r="1.3"/><circle cx="186.4" cy="367.4" r="1.3"/><circle cx="186.7" cy="374.7" r="1.3"/><circle cx="186.9" cy="350.7" r="1.3"/><circle cx="186" cy="354.7" r="1.3"/><circle cx="186.5" cy="359.7" r="1.3"/><circle cx="186.4" cy="376.4" r="1.3"/><circle cx="186" cy="366.8" r="1.3"/><circle cx="186" cy="374.6" r="1.3"/><circle cx="186.2" cy="362.7" r="1.3"/><circle cx="186.3" cy="368.9" r="1.3"/><circle cx="185.9" cy="354.8" r="1.3"/><circle cx="186.4" cy="353.5" r="1.3"/><circle cx="186.7" cy="357.5" r="1.3"/><circle cx="186.4" cy="357.4" r="1.3"/><circle cx="184" cy="345" r="1.3"/><circle cx="188.6" cy="386.3" r="1.3"/><circle cx="185.1" cy="384.7" r="1.3"/><circle cx="185.8" cy="350.6" r="1.3"/><circle cx="196.3" cy="354.5" r="1.3"/><circle cx="196.6" cy="360.8" r="1.3"/><circle cx="196.1" cy="360.4" r="1.3"/><circle cx="196" cy="351.3" r="1.3"/><circle cx="195.5" cy="363.8" r="1.3"/><circle cx="196.5" cy="354.1" r="1.3"/><circle cx="195.9" cy="351" r="1.3"/><circle cx="196.8" cy="354" r="1.3"/><circle cx="196.8" cy="351.6" r="1.3"/><circle cx="195.9" cy="351.7" r="1.3"/><circle cx="196" cy="361.8" r="1.3"/><circle cx="195.9" cy="357.7" r="1.3"/><circle cx="195.9" cy="353.7" r="1.3"/><circle cx="196.7" cy="356.1" r="1.3"/><circle cx="192.9" cy="355" r="1.3"/><circle cx="196.5" cy="354.4" r="1.3"/><circle cx="196.5" cy="357" r="1.3"/><circle cx="196.5" cy="359.5" r="1.3"/><circle cx="189.3" cy="336.3" r="1.3"/><circle cx="192" cy="336.3" r="1.3"/><circle cx="189.3" cy="338.6" r="1.3"/><circle cx="192" cy="338.6" r="1.3"/><circle cx="190.6" cy="337.4" r="1.3"/><circle cx="201.4" cy="329.3" r="1.3"/><circle cx="207.2" cy="329.3" r="1.3"/><circle cx="210.2" cy="327" r="1.3"/><circle cx="204.9" cy="349" r="1.3"/><circle cx="206.7" cy="346.7" r="1.3"/><circle cx="215.3" cy="350.7" r="1.3"/><circle cx="223" cy="336.7" r="1.3"/><circle cx="224.2" cy="340.5" r="1.3"/><circle cx="224.7" cy="343.3" r="1.3"/><circle cx="223" cy="346.7" r="1.3"/><circle cx="217.2" cy="320" r="1.3"/><circle cx="245.6" cy="258.6" r="1.3"/><circle cx="245.6" cy="261.3" r="1.3"/><circle cx="235.4" cy="290.8" r="1.3"/><circle cx="210.5" cy="301" r="1.3"/><circle cx="210.5" cy="312.4" r="1.3"/><circle cx="218.1" cy="304.8" r="1.3"/><circle cx="218.1" cy="309.9" r="1.3"/><circle cx="218.9" cy="313.7" r="1.3"/><circle cx="217.6" cy="320" r="1.3"/><circle cx="221.4" cy="316.2" r="1.3"/><circle cx="216.3" cy="316.2" r="1.3"/><circle cx="232.9" cy="332" r="1.3"/><circle cx="178.2" cy="359.5" r="1.3"/><circle cx="228.2" cy="305.8" r="1.3"/><circle cx="228" cy="296.3" r="1.3"/><circle cx="228.2" cy="314.7" r="1.3"/><circle cx="228.3" cy="307.5" r="1.3"/><circle cx="228.3" cy="311.4" r="1.3"/><circle cx="228.1" cy="309.1" r="1.3"/><circle cx="228.3" cy="312.9" r="1.3"/><circle cx="228.1" cy="313.5" r="1.3"/><circle cx="228.3" cy="311.2" r="1.3"/><circle cx="228.3" cy="290.2" r="1.3"/><circle cx="228.3" cy="305.7" r="1.3"/><circle cx="227.3" cy="314.1" r="1.3"/><circle cx="227.7" cy="302.5" r="1.3"/><circle cx="227.9" cy="295.2" r="1.3"/><circle cx="227.9" cy="314.5" r="1.3"/><circle cx="228.1" cy="312.4" r="1.3"/><circle cx="227.8" cy="312.3" r="1.3"/><circle cx="228.4" cy="306.8" r="1.3"/><circle cx="229" cy="300.6" r="1.3"/><circle cx="228.4" cy="307.7" r="1.3"/><circle cx="228.3" cy="315.1" r="1.3"/><circle cx="228" cy="295.3" r="1.3"/><circle cx="227.7" cy="300.5" r="1.3"/><circle cx="228.5" cy="304" r="1.3"/><circle cx="228" cy="311" r="1.3"/><circle cx="228.1" cy="309.3" r="1.3"/><circle cx="228.3" cy="292.4" r="1.3"/><circle cx="228.1" cy="306.1" r="1.3"/><circle cx="227.9" cy="297.9" r="1.3"/><circle cx="228.1" cy="315.7" r="1.3"/><circle cx="220.9" cy="305.1" r="1.3"/><circle cx="220.6" cy="300.1" r="1.3"/><circle cx="220.6" cy="300.5" r="1.3"/><circle cx="221.2" cy="298.9" r="1.3"/><circle cx="220.7" cy="302.7" r="1.3"/><circle cx="220.3" cy="301.5" r="1.3"/><circle cx="220.6" cy="304.5" r="1.3"/><circle cx="220.4" cy="302.5" r="1.3"/></g>
<path d="M45.4 417.7 L48.3 418.2 L51.2 418.6 L54.1 418.8 L57 418.9 L59.9 419 L62.8 418.9 L65.7 418.7 L68.6 418.5 L71.5 418.2 L74.4 417.8 L77.3 417.4 L80.2 416.9 L83.1 416.3 L86 415.7 L88.9 415 L91.8 414.2 L94.7 413.4 L97.6 412.4 L100.5 411.5 L103.4 410.4 L106.3 409.3 L109.2 408.1 L112.1 406.9 L115 405.5 L117.9 404.2 L120.8 402.7 L123.7 401.2 L126.6 399.6 L129.5 397.9 L132.4 396.2 L135.3 394.3 L138.2 392.5 L141.1 390.5 L144 388.5 L147 386.4 L149.9 384.3 L152.8 382 L155.7 379.7 L158.6 377.3 L161.5 374.9 L164.4 372.4 L167.3 369.8 L170.2 367.1 L173.1 364.4 L176 361.6 L178.9 358.7 L181.8 355.8 L184.7 352.7 L187.6 349.7 L190.5 346.5 L193.4 343.2 L196.3 339.9 L199.2 336.5 L202.1 333.1 L205 329.5 L207.9 325.9 L210.8 322.2 L213.7 318.5 L216.6 314.6 L219.5 310.7 L222.4 306.7 L225.3 302.6 L228.2 298.5 L231.1 294.2 L234 289.9 L236.9 285.4 L239.8 280.8 L242.7 276.1 L245.6 271.2 L245.6 275 L242.7 279.3 L239.8 283.6 L236.9 287.9 L234 292.1 L231.1 296.3 L228.2 300.5 L225.3 304.6 L222.4 308.6 L219.5 312.6 L216.6 316.5 L213.7 320.3 L210.8 324.1 L207.9 327.7 L205 331.3 L202.1 334.9 L199.2 338.3 L196.3 341.7 L193.4 345 L190.5 348.3 L187.6 351.5 L184.7 354.5 L181.8 357.6 L178.9 360.5 L176 363.4 L173.1 366.2 L170.2 368.9 L167.3 371.6 L164.4 374.2 L161.5 376.7 L158.6 379.1 L155.7 381.5 L152.8 383.8 L149.9 386.1 L147 388.2 L144 390.3 L141.1 392.3 L138.2 394.3 L135.3 396.1 L132.4 398 L129.5 399.7 L126.6 401.4 L123.7 403 L120.8 404.5 L117.9 406 L115 407.3 L112.1 408.7 L109.2 409.9 L106.3 411.1 L103.4 412.2 L100.5 413.3 L97.6 414.2 L94.7 415.2 L91.8 416 L88.9 416.8 L86 417.5 L83.1 418.1 L80.2 418.7 L77.3 419.2 L74.4 419.6 L71.5 420 L68.6 420.3 L65.7 420.6 L62.8 420.8 L59.9 420.9 L57 421 L54.1 421.1 L51.2 421.1 L48.3 421.2 L45.4 421.3Z" fill="#ff0000" fill-opacity="0.21"/>
<path d="M45.4 419.5 L48.3 419.7 L51.2 419.9 L54.1 419.9 L57 420 L59.9 419.9 L62.8 419.8 L65.7 419.7 L68.6 419.4 L71.5 419.1 L74.4 418.7 L77.3 418.3 L80.2 417.8 L83.1 417.2 L86 416.6 L88.9 415.9 L91.8 415.1 L94.7 414.3 L97.6 413.3 L100.5 412.4 L103.4 411.3 L106.3 410.2 L109.2 409 L112.1 407.8 L115 406.4 L117.9 405.1 L120.8 403.6 L123.7 402.1 L126.6 400.5 L129.5 398.8 L132.4 397.1 L135.3 395.2 L138.2 393.4 L141.1 391.4 L144 389.4 L147 387.3 L149.9 385.2 L152.8 382.9 L155.7 380.6 L158.6 378.2 L161.5 375.8 L164.4 373.3 L167.3 370.7 L170.2 368 L173.1 365.3 L176 362.5 L178.9 359.6 L181.8 356.7 L184.7 353.6 L187.6 350.6 L190.5 347.4 L193.4 344.1 L196.3 340.8 L199.2 337.4 L202.1 334 L205 330.4 L207.9 326.8 L210.8 323.1 L213.7 319.4 L216.6 315.6 L219.5 311.6 L222.4 307.7 L225.3 303.6 L228.2 299.5 L231.1 295.3 L234 291 L236.9 286.6 L239.8 282.2 L242.7 277.7 L245.6 273.1" fill="none" stroke="#ee2030" stroke-width="0.95"/>
<rect x="39.4" y="254" width="93.6" height="20" rx="1.2" fill="#f0f0f6" fill-opacity="0.82" stroke="#d6d6e0" stroke-width="0.5"/>
<line x1="42" y1="259.4" x2="55" y2="259.4" stroke="#ee2030" stroke-width="0.9"/>
<rect x="42" y="266" width="13" height="5" fill="#f4b4bc"/>
<text class="lg" font-size="6.43" x="60" y="261.68">Polynomial Fit</text>
<text class="lg" font-size="6.43" x="60" y="270.78">95% Confidence Interval</text>
<text class="r2" font-size="6.87" x="38" y="285"><tspan font-style="italic">R</tspan><tspan dy="-2.47" font-size="4.81">2</tspan><tspan dy="2.47"> = 0.9632</tspan></text>
<rect x="331" y="252" width="216.5" height="175.6" fill="#EAEAF2"/>
<g stroke="#fff" stroke-width="0.5" opacity="0.7"><line x1="341.7" y1="252" x2="341.7" y2="427.6"/><line x1="369.6" y1="252" x2="369.6" y2="427.6"/><line x1="397.4" y1="252" x2="397.4" y2="427.6"/><line x1="425.3" y1="252" x2="425.3" y2="427.6"/><line x1="453.2" y1="252" x2="453.2" y2="427.6"/><line x1="481" y1="252" x2="481" y2="427.6"/><line x1="508.9" y1="252" x2="508.9" y2="427.6"/><line x1="536.8" y1="252" x2="536.8" y2="427.6"/><line x1="331" y1="420.3" x2="547.5" y2="420.3"/><line x1="331" y1="391.8" x2="547.5" y2="391.8"/><line x1="331" y1="363.3" x2="547.5" y2="363.3"/><line x1="331" y1="334.8" x2="547.5" y2="334.8"/><line x1="331" y1="306.3" x2="547.5" y2="306.3"/><line x1="331" y1="277.8" x2="547.5" y2="277.8"/></g>
<g class="tk"><text x="341.7" y="435" text-anchor="middle">50</text><text x="369.6" y="435" text-anchor="middle">100</text><text x="397.4" y="435" text-anchor="middle">150</text><text x="425.3" y="435" text-anchor="middle">200</text><text x="453.2" y="435" text-anchor="middle">250</text><text x="481" y="435" text-anchor="middle">300</text><text x="508.9" y="435" text-anchor="middle">350</text><text x="536.8" y="435" text-anchor="middle">400</text><text x="327.4" y="422.4" text-anchor="end">0</text><text x="327.4" y="393.9" text-anchor="end">20,000</text><text x="327.4" y="365.4" text-anchor="end">40,000</text><text x="327.4" y="336.9" text-anchor="end">60,000</text><text x="327.4" y="308.4" text-anchor="end">80,000</text><text x="327.4" y="279.9" text-anchor="end">100,000</text></g>
<text class="al" x="439.2" y="442.6" text-anchor="middle">L[m]</text>
<text class="al" transform="translate(302 341.1) rotate(-90)" text-anchor="middle">NT[t]</text>
<text class="cap rg" x="435.6" y="468" text-anchor="middle">(j)</text>
<g fill="#000"><circle cx="366.5" cy="419.7" r="1.3"/><circle cx="346.9" cy="419.5" r="1.3"/><circle cx="367.6" cy="418.8" r="1.3"/><circle cx="354.1" cy="419.1" r="1.3"/><circle cx="358.6" cy="419.9" r="1.3"/><circle cx="347.9" cy="420.1" r="1.3"/><circle cx="360.1" cy="419.8" r="1.3"/><circle cx="361" cy="419.1" r="1.3"/><circle cx="357.2" cy="419.1" r="1.3"/><circle cx="365" cy="419.2" r="1.3"/><circle cx="353.7" cy="419.7" r="1.3"/><circle cx="340.4" cy="420.2" r="1.3"/><circle cx="366.5" cy="419.4" r="1.3"/><circle cx="356.5" cy="419.1" r="1.3"/><circle cx="357.8" cy="419.2" r="1.3"/><circle cx="357.4" cy="419.1" r="1.3"/><circle cx="341.2" cy="419.4" r="1.3"/><circle cx="348.3" cy="419.7" r="1.3"/><circle cx="342.6" cy="419.6" r="1.3"/><circle cx="358.8" cy="419.2" r="1.3"/><circle cx="364.8" cy="419.2" r="1.3"/><circle cx="359.2" cy="419.1" r="1.3"/><circle cx="363.6" cy="419.6" r="1.3"/><circle cx="349.6" cy="419.6" r="1.3"/><circle cx="340.9" cy="419.5" r="1.3"/><circle cx="351.9" cy="419.3" r="1.3"/><circle cx="344.9" cy="419.4" r="1.3"/><circle cx="348.9" cy="419.5" r="1.3"/><circle cx="346.9" cy="419.5" r="1.3"/><circle cx="345.2" cy="419.9" r="1.3"/><circle cx="359.9" cy="419.5" r="1.3"/><circle cx="357.3" cy="419.7" r="1.3"/><circle cx="363.9" cy="419.8" r="1.3"/><circle cx="368.5" cy="418.5" r="1.3"/><circle cx="346.9" cy="419.8" r="1.3"/><circle cx="367.2" cy="418.9" r="1.3"/><circle cx="362.3" cy="419.8" r="1.3"/><circle cx="356.3" cy="419.4" r="1.3"/><circle cx="368.2" cy="418.2" r="1.3"/><circle cx="354.9" cy="419.2" r="1.3"/><circle cx="340.8" cy="419.9" r="1.3"/><circle cx="343.6" cy="419.5" r="1.3"/><circle cx="349.1" cy="419.7" r="1.3"/><circle cx="360.2" cy="418.9" r="1.3"/><circle cx="356.4" cy="419.7" r="1.3"/><circle cx="359.8" cy="419.7" r="1.3"/><circle cx="340.5" cy="419.9" r="1.3"/><circle cx="347.2" cy="419.8" r="1.3"/><circle cx="356.1" cy="419.2" r="1.3"/><circle cx="359" cy="418.9" r="1.3"/><circle cx="352.5" cy="419.6" r="1.3"/><circle cx="346.3" cy="419.7" r="1.3"/><circle cx="349" cy="419.6" r="1.3"/><circle cx="362.1" cy="419.2" r="1.3"/><circle cx="360.8" cy="420" r="1.3"/><circle cx="347.2" cy="420" r="1.3"/><circle cx="367.6" cy="419.6" r="1.3"/><circle cx="341.3" cy="419.6" r="1.3"/><circle cx="346.8" cy="419.3" r="1.3"/><circle cx="352.7" cy="419.7" r="1.3"/><circle cx="363.3" cy="419.5" r="1.3"/><circle cx="356.4" cy="419.1" r="1.3"/><circle cx="359.6" cy="420" r="1.3"/><circle cx="367.6" cy="419" r="1.3"/><circle cx="350.6" cy="419.4" r="1.3"/><circle cx="345.3" cy="419.6" r="1.3"/><circle cx="351.9" cy="419.9" r="1.3"/><circle cx="356.3" cy="420" r="1.3"/><circle cx="343.9" cy="419.7" r="1.3"/><circle cx="341.1" cy="419.7" r="1.3"/><circle cx="361.1" cy="419.8" r="1.3"/><circle cx="368.7" cy="418.4" r="1.3"/><circle cx="367" cy="418.9" r="1.3"/><circle cx="350.9" cy="419.5" r="1.3"/><circle cx="353.2" cy="419.8" r="1.3"/><circle cx="364" cy="419.4" r="1.3"/><circle cx="368.6" cy="417.9" r="1.3"/><circle cx="350.3" cy="419.6" r="1.3"/><circle cx="367.6" cy="419.4" r="1.3"/><circle cx="360.3" cy="419.8" r="1.3"/><circle cx="344.3" cy="419.8" r="1.3"/><circle cx="353.1" cy="419.4" r="1.3"/><circle cx="340.1" cy="419.6" r="1.3"/><circle cx="351.8" cy="419.4" r="1.3"/><circle cx="355.2" cy="420" r="1.3"/><circle cx="363.1" cy="419.4" r="1.3"/><circle cx="349.6" cy="419.9" r="1.3"/><circle cx="358.8" cy="419" r="1.3"/><circle cx="359.2" cy="419.2" r="1.3"/><circle cx="355.2" cy="419.6" r="1.3"/><circle cx="357.8" cy="419.6" r="1.3"/><circle cx="353.3" cy="419.3" r="1.3"/><circle cx="357.7" cy="419.4" r="1.3"/><circle cx="353.4" cy="419.3" r="1.3"/><circle cx="366.4" cy="418.7" r="1.3"/><circle cx="343.3" cy="419.5" r="1.3"/><circle cx="365.1" cy="419.4" r="1.3"/><circle cx="361.6" cy="419.3" r="1.3"/><circle cx="340.3" cy="419.7" r="1.3"/><circle cx="360.8" cy="419.6" r="1.3"/><circle cx="350.5" cy="419.5" r="1.3"/><circle cx="354.7" cy="419.1" r="1.3"/><circle cx="355" cy="419.1" r="1.3"/><circle cx="361.3" cy="419" r="1.3"/><circle cx="354.1" cy="419.9" r="1.3"/><circle cx="358.4" cy="419.4" r="1.3"/><circle cx="346.4" cy="419.5" r="1.3"/><circle cx="342.1" cy="419.6" r="1.3"/><circle cx="359.4" cy="419.4" r="1.3"/><circle cx="368.7" cy="417.7" r="1.3"/><circle cx="385" cy="416.3" r="1.3"/><circle cx="390.8" cy="413.7" r="1.3"/><circle cx="382.4" cy="416.3" r="1.3"/><circle cx="379.1" cy="417.1" r="1.3"/><circle cx="385" cy="415.6" r="1.3"/><circle cx="382.1" cy="413.8" r="1.3"/><circle cx="371.6" cy="416.1" r="1.3"/><circle cx="392.5" cy="414.2" r="1.3"/><circle cx="372.2" cy="417.4" r="1.3"/><circle cx="388.3" cy="412" r="1.3"/><circle cx="380.3" cy="414.1" r="1.3"/><circle cx="389.4" cy="413.7" r="1.3"/><circle cx="382.6" cy="414.7" r="1.3"/><circle cx="390.3" cy="412.1" r="1.3"/><circle cx="381.2" cy="413.1" r="1.3"/><circle cx="375.4" cy="415.2" r="1.3"/><circle cx="389" cy="415.4" r="1.3"/><circle cx="390.5" cy="414.9" r="1.3"/><circle cx="382.1" cy="414.7" r="1.3"/><circle cx="393.2" cy="414.1" r="1.3"/><circle cx="387.4" cy="415" r="1.3"/><circle cx="393.2" cy="414" r="1.3"/><circle cx="374.1" cy="416.7" r="1.3"/><circle cx="393.5" cy="415.1" r="1.3"/><circle cx="389" cy="412.9" r="1.3"/><circle cx="393.5" cy="410.5" r="1.3"/><circle cx="378.1" cy="414.5" r="1.3"/><circle cx="383.5" cy="416.4" r="1.3"/><circle cx="392.3" cy="409.8" r="1.3"/><circle cx="386.5" cy="411.7" r="1.3"/><circle cx="376.5" cy="415.2" r="1.3"/><circle cx="376.5" cy="416.3" r="1.3"/><circle cx="393.6" cy="414.4" r="1.3"/><circle cx="386.5" cy="411.9" r="1.3"/><circle cx="370.4" cy="416.8" r="1.3"/><circle cx="375.7" cy="416.4" r="1.3"/><circle cx="383.5" cy="414.3" r="1.3"/><circle cx="373.9" cy="415.1" r="1.3"/><circle cx="381.1" cy="413.4" r="1.3"/><circle cx="386.4" cy="415.4" r="1.3"/><circle cx="371.2" cy="417.6" r="1.3"/><circle cx="375.6" cy="417.3" r="1.3"/><circle cx="391.9" cy="412.2" r="1.3"/><circle cx="370.1" cy="416.8" r="1.3"/><circle cx="371.9" cy="417.5" r="1.3"/><circle cx="390.3" cy="415" r="1.3"/><circle cx="386.6" cy="411.6" r="1.3"/><circle cx="381.3" cy="412.9" r="1.3"/><circle cx="391.3" cy="411.1" r="1.3"/><circle cx="374.4" cy="416.4" r="1.3"/><circle cx="369.1" cy="418" r="1.3"/><circle cx="390.1" cy="412.9" r="1.3"/><circle cx="385.6" cy="415.2" r="1.3"/><circle cx="377.8" cy="416.9" r="1.3"/><circle cx="384.1" cy="414" r="1.3"/><circle cx="371.1" cy="416.9" r="1.3"/><circle cx="377.1" cy="416.2" r="1.3"/><circle cx="383.8" cy="413.1" r="1.3"/><circle cx="391" cy="415.4" r="1.3"/><circle cx="377.2" cy="415.3" r="1.3"/><circle cx="370.6" cy="418.1" r="1.3"/><circle cx="371.3" cy="416.5" r="1.3"/><circle cx="377" cy="415.4" r="1.3"/><circle cx="385.3" cy="413.5" r="1.3"/><circle cx="387.3" cy="415.2" r="1.3"/><circle cx="387.1" cy="414.7" r="1.3"/><circle cx="391.7" cy="410.3" r="1.3"/><circle cx="386.7" cy="412.2" r="1.3"/><circle cx="386.4" cy="414.9" r="1.3"/><circle cx="384.4" cy="412.5" r="1.3"/><circle cx="386.3" cy="414.3" r="1.3"/><circle cx="388" cy="412.4" r="1.3"/><circle cx="394.4" cy="411.9" r="1.3"/><circle cx="373.7" cy="416.8" r="1.3"/><circle cx="385.7" cy="412.2" r="1.3"/><circle cx="372.2" cy="415.7" r="1.3"/><circle cx="374.4" cy="415.1" r="1.3"/><circle cx="393.1" cy="411.9" r="1.3"/><circle cx="379.5" cy="414.7" r="1.3"/><circle cx="383.7" cy="413.8" r="1.3"/><circle cx="374.5" cy="416.2" r="1.3"/><circle cx="382.3" cy="416.2" r="1.3"/><circle cx="369.6" cy="417.7" r="1.3"/><circle cx="384.1" cy="415" r="1.3"/><circle cx="393.8" cy="413.2" r="1.3"/><circle cx="386.9" cy="411.6" r="1.3"/><circle cx="386.3" cy="412.4" r="1.3"/><circle cx="383.4" cy="413.8" r="1.3"/><circle cx="377.3" cy="416" r="1.3"/><circle cx="389.1" cy="412.9" r="1.3"/><circle cx="379.1" cy="416.5" r="1.3"/><circle cx="377.8" cy="414.4" r="1.3"/><circle cx="383.2" cy="415.2" r="1.3"/><circle cx="394.3" cy="408.6" r="1.3"/><circle cx="388.1" cy="413.9" r="1.3"/><circle cx="386.5" cy="412.3" r="1.3"/><circle cx="372.3" cy="417.3" r="1.3"/><circle cx="390" cy="413.3" r="1.3"/><circle cx="380" cy="415.9" r="1.3"/><circle cx="385.3" cy="415.2" r="1.3"/><circle cx="383.6" cy="414.8" r="1.3"/><circle cx="389.4" cy="410.8" r="1.3"/><circle cx="369.8" cy="418.8" r="1.3"/><circle cx="371.5" cy="417.9" r="1.3"/><circle cx="376.3" cy="417.1" r="1.3"/><circle cx="374.3" cy="416.5" r="1.3"/><circle cx="386.7" cy="413.1" r="1.3"/><circle cx="372" cy="416.7" r="1.3"/><circle cx="371.4" cy="416.7" r="1.3"/><circle cx="382.8" cy="414.1" r="1.3"/><circle cx="370.7" cy="417.1" r="1.3"/><circle cx="389.6" cy="410.5" r="1.3"/><circle cx="377.6" cy="415.9" r="1.3"/><circle cx="376.9" cy="416.5" r="1.3"/><circle cx="384.5" cy="416.5" r="1.3"/><circle cx="394.4" cy="413.5" r="1.3"/><circle cx="376.4" cy="416.3" r="1.3"/><circle cx="374.9" cy="417.3" r="1.3"/><circle cx="378.6" cy="415" r="1.3"/><circle cx="389.3" cy="413.5" r="1.3"/><circle cx="393.3" cy="410.8" r="1.3"/><circle cx="373" cy="416.2" r="1.3"/><circle cx="369.8" cy="417.5" r="1.3"/><circle cx="377" cy="414.8" r="1.3"/><circle cx="377.3" cy="415.5" r="1.3"/><circle cx="388.4" cy="413.7" r="1.3"/><circle cx="386.7" cy="413.6" r="1.3"/><circle cx="388.4" cy="414.3" r="1.3"/><circle cx="379.2" cy="415.7" r="1.3"/><circle cx="380.1" cy="415.4" r="1.3"/><circle cx="393.5" cy="411.5" r="1.3"/><circle cx="370.3" cy="418.1" r="1.3"/><circle cx="369.6" cy="417.1" r="1.3"/><circle cx="369.4" cy="418.3" r="1.3"/><circle cx="390.2" cy="413.7" r="1.3"/><circle cx="382.5" cy="413" r="1.3"/><circle cx="387.1" cy="414.1" r="1.3"/><circle cx="386" cy="415.1" r="1.3"/><circle cx="390.1" cy="412.4" r="1.3"/><circle cx="382.8" cy="414.8" r="1.3"/><circle cx="377.5" cy="414.4" r="1.3"/><circle cx="371.9" cy="416.5" r="1.3"/><circle cx="379.7" cy="414.4" r="1.3"/><circle cx="374.1" cy="417.4" r="1.3"/><circle cx="393.1" cy="409.4" r="1.3"/><circle cx="388.8" cy="413.4" r="1.3"/><circle cx="376.4" cy="416" r="1.3"/><circle cx="382.3" cy="414.7" r="1.3"/><circle cx="381.2" cy="413.8" r="1.3"/><circle cx="384.7" cy="414.8" r="1.3"/><circle cx="410.3" cy="398.2" r="1.3"/><circle cx="400.3" cy="413.6" r="1.3"/><circle cx="416.4" cy="400.9" r="1.3"/><circle cx="400.7" cy="410.8" r="1.3"/><circle cx="400.2" cy="408.7" r="1.3"/><circle cx="403.5" cy="408.6" r="1.3"/><circle cx="424.1" cy="403.3" r="1.3"/><circle cx="419.6" cy="406.4" r="1.3"/><circle cx="407.1" cy="402.5" r="1.3"/><circle cx="418.8" cy="403.4" r="1.3"/><circle cx="405.8" cy="406.6" r="1.3"/><circle cx="400.6" cy="409.5" r="1.3"/><circle cx="421.9" cy="395.8" r="1.3"/><circle cx="396.1" cy="409.4" r="1.3"/><circle cx="418.8" cy="404.7" r="1.3"/><circle cx="423.8" cy="393" r="1.3"/><circle cx="397.5" cy="409.3" r="1.3"/><circle cx="420.8" cy="396.4" r="1.3"/><circle cx="418.4" cy="398.2" r="1.3"/><circle cx="396.3" cy="407.9" r="1.3"/><circle cx="408.3" cy="404.4" r="1.3"/><circle cx="402.8" cy="408.6" r="1.3"/><circle cx="406.5" cy="406.7" r="1.3"/><circle cx="406.5" cy="402.4" r="1.3"/><circle cx="406.8" cy="405.8" r="1.3"/><circle cx="395.3" cy="411.6" r="1.3"/><circle cx="403.1" cy="411.9" r="1.3"/><circle cx="403.7" cy="403.8" r="1.3"/><circle cx="414.5" cy="401.3" r="1.3"/><circle cx="415.9" cy="399.1" r="1.3"/><circle cx="417.5" cy="400" r="1.3"/><circle cx="414.1" cy="400.4" r="1.3"/><circle cx="421.8" cy="389.8" r="1.3"/><circle cx="411.7" cy="407.7" r="1.3"/><circle cx="404.4" cy="412.3" r="1.3"/><circle cx="396.2" cy="409.8" r="1.3"/><circle cx="416.8" cy="398.3" r="1.3"/><circle cx="411.9" cy="398.8" r="1.3"/><circle cx="399.9" cy="412.5" r="1.3"/><circle cx="410.3" cy="403.7" r="1.3"/><circle cx="423.3" cy="394.7" r="1.3"/><circle cx="413.2" cy="406.3" r="1.3"/><circle cx="404.3" cy="406.8" r="1.3"/><circle cx="419.2" cy="391.8" r="1.3"/><circle cx="406.8" cy="408.6" r="1.3"/><circle cx="395.4" cy="412.4" r="1.3"/><circle cx="397.4" cy="413.2" r="1.3"/><circle cx="423.8" cy="389" r="1.3"/><circle cx="397.8" cy="409.5" r="1.3"/><circle cx="418.5" cy="403" r="1.3"/><circle cx="395.9" cy="414.6" r="1.3"/><circle cx="407.7" cy="405.3" r="1.3"/><circle cx="403.5" cy="406.1" r="1.3"/><circle cx="405.3" cy="406.8" r="1.3"/><circle cx="397.7" cy="411.6" r="1.3"/><circle cx="407.1" cy="406.2" r="1.3"/><circle cx="417.8" cy="397" r="1.3"/><circle cx="410.7" cy="400.9" r="1.3"/><circle cx="399" cy="411.9" r="1.3"/><circle cx="419.2" cy="397.6" r="1.3"/><circle cx="421.1" cy="389.7" r="1.3"/><circle cx="408.7" cy="405.4" r="1.3"/><circle cx="405.8" cy="404.9" r="1.3"/><circle cx="395.5" cy="412.5" r="1.3"/><circle cx="397.1" cy="413.4" r="1.3"/><circle cx="406.3" cy="406.7" r="1.3"/><circle cx="398.4" cy="409.7" r="1.3"/><circle cx="424.1" cy="392.8" r="1.3"/><circle cx="414.3" cy="406.4" r="1.3"/><circle cx="404.4" cy="404.2" r="1.3"/><circle cx="412.5" cy="403.6" r="1.3"/><circle cx="400" cy="412.7" r="1.3"/><circle cx="422.5" cy="399.7" r="1.3"/><circle cx="410" cy="409.3" r="1.3"/><circle cx="416" cy="401.7" r="1.3"/><circle cx="400.5" cy="411.7" r="1.3"/><circle cx="409.2" cy="398.1" r="1.3"/><circle cx="416.4" cy="399" r="1.3"/><circle cx="406.6" cy="404.9" r="1.3"/><circle cx="397" cy="412.2" r="1.3"/><circle cx="409.1" cy="407.7" r="1.3"/><circle cx="419.7" cy="390.6" r="1.3"/><circle cx="408.9" cy="405.8" r="1.3"/><circle cx="424.4" cy="391.7" r="1.3"/><circle cx="411.8" cy="406.7" r="1.3"/><circle cx="421.5" cy="396.5" r="1.3"/><circle cx="396" cy="409.3" r="1.3"/><circle cx="413.9" cy="402.6" r="1.3"/><circle cx="410.3" cy="409.9" r="1.3"/><circle cx="405.7" cy="408.9" r="1.3"/><circle cx="422.1" cy="389.8" r="1.3"/><circle cx="397.8" cy="411.5" r="1.3"/><circle cx="409.6" cy="408.8" r="1.3"/><circle cx="404.2" cy="409.1" r="1.3"/><circle cx="423.8" cy="390.9" r="1.3"/><circle cx="418.4" cy="393.5" r="1.3"/><circle cx="401" cy="407.3" r="1.3"/><circle cx="398.8" cy="409.5" r="1.3"/><circle cx="395.7" cy="408.8" r="1.3"/><circle cx="400.4" cy="408" r="1.3"/><circle cx="422.9" cy="392.5" r="1.3"/><circle cx="421.2" cy="395" r="1.3"/><circle cx="419" cy="391.4" r="1.3"/><circle cx="407" cy="409.2" r="1.3"/><circle cx="409.5" cy="401.2" r="1.3"/><circle cx="412.3" cy="398.9" r="1.3"/><circle cx="419.3" cy="403.8" r="1.3"/><circle cx="395.1" cy="410.3" r="1.3"/><circle cx="400.4" cy="413.4" r="1.3"/><circle cx="412.4" cy="404.9" r="1.3"/><circle cx="399.2" cy="407.6" r="1.3"/><circle cx="423.1" cy="388.4" r="1.3"/><circle cx="396.3" cy="410.1" r="1.3"/><circle cx="424.2" cy="390.5" r="1.3"/><circle cx="401.4" cy="406.2" r="1.3"/><circle cx="400.8" cy="409.5" r="1.3"/><circle cx="407.7" cy="404.6" r="1.3"/><circle cx="414.1" cy="400.9" r="1.3"/><circle cx="424.4" cy="390.3" r="1.3"/><circle cx="409.3" cy="405.6" r="1.3"/><circle cx="421.9" cy="392" r="1.3"/><circle cx="421.7" cy="395.8" r="1.3"/><circle cx="424.5" cy="398" r="1.3"/><circle cx="405.8" cy="408" r="1.3"/><circle cx="409.2" cy="400.9" r="1.3"/><circle cx="395.6" cy="409.7" r="1.3"/><circle cx="406.5" cy="404.9" r="1.3"/><circle cx="405.6" cy="408.4" r="1.3"/><circle cx="398.7" cy="412.8" r="1.3"/><circle cx="420" cy="394.6" r="1.3"/><circle cx="403.4" cy="411.8" r="1.3"/><circle cx="398.9" cy="408.3" r="1.3"/><circle cx="398.5" cy="409.5" r="1.3"/><circle cx="395.7" cy="414.2" r="1.3"/><circle cx="417.7" cy="403.2" r="1.3"/><circle cx="411" cy="408" r="1.3"/><circle cx="410.7" cy="398.4" r="1.3"/><circle cx="407.4" cy="409.8" r="1.3"/><circle cx="423.9" cy="395.1" r="1.3"/><circle cx="406.3" cy="406.2" r="1.3"/><circle cx="409.2" cy="398.9" r="1.3"/><circle cx="415.7" cy="403.6" r="1.3"/><circle cx="422.9" cy="387.8" r="1.3"/><circle cx="420.8" cy="399.4" r="1.3"/><circle cx="421.4" cy="390.2" r="1.3"/><circle cx="400.5" cy="410.4" r="1.3"/><circle cx="423.3" cy="395.1" r="1.3"/><circle cx="419.7" cy="405.6" r="1.3"/><circle cx="404.9" cy="407" r="1.3"/><circle cx="419.2" cy="401.1" r="1.3"/><circle cx="423.6" cy="390.9" r="1.3"/><circle cx="417.3" cy="391.5" r="1.3"/><circle cx="417.2" cy="400.3" r="1.3"/><circle cx="420.2" cy="395" r="1.3"/><circle cx="421.4" cy="395.3" r="1.3"/><circle cx="418.4" cy="396.5" r="1.3"/><circle cx="397.3" cy="410.8" r="1.3"/><circle cx="401.3" cy="412.5" r="1.3"/><circle cx="398.6" cy="409.9" r="1.3"/><circle cx="409" cy="399.6" r="1.3"/><circle cx="397" cy="409.5" r="1.3"/><circle cx="411.5" cy="399.7" r="1.3"/><circle cx="422.7" cy="403.7" r="1.3"/><circle cx="424.4" cy="391.1" r="1.3"/><circle cx="396.1" cy="409.5" r="1.3"/><circle cx="415.5" cy="405.7" r="1.3"/><circle cx="399.3" cy="409.3" r="1.3"/><circle cx="420.9" cy="389" r="1.3"/><circle cx="395.9" cy="410" r="1.3"/><circle cx="398.1" cy="409.4" r="1.3"/><circle cx="404.7" cy="407.3" r="1.3"/><circle cx="395.2" cy="411.7" r="1.3"/><circle cx="414.9" cy="393" r="1.3"/><circle cx="401.2" cy="409.1" r="1.3"/><circle cx="416.6" cy="392.7" r="1.3"/><circle cx="423.5" cy="392.5" r="1.3"/><circle cx="409.1" cy="398.5" r="1.3"/><circle cx="409.1" cy="403.7" r="1.3"/><circle cx="424.9" cy="398.9" r="1.3"/><circle cx="404.4" cy="412.3" r="1.3"/><circle cx="421.6" cy="388.6" r="1.3"/><circle cx="416.4" cy="400.1" r="1.3"/><circle cx="395.3" cy="409.7" r="1.3"/><circle cx="403.9" cy="409.8" r="1.3"/><circle cx="416.6" cy="397.7" r="1.3"/><circle cx="396.4" cy="413.8" r="1.3"/><circle cx="420.7" cy="394.4" r="1.3"/><circle cx="422.4" cy="401.3" r="1.3"/><circle cx="417.8" cy="398.7" r="1.3"/><circle cx="419.3" cy="403.1" r="1.3"/><circle cx="412.9" cy="406.1" r="1.3"/><circle cx="419.3" cy="398.3" r="1.3"/><circle cx="409" cy="402.9" r="1.3"/><circle cx="407.3" cy="410.7" r="1.3"/><circle cx="416.1" cy="398" r="1.3"/><circle cx="409" cy="403.9" r="1.3"/><circle cx="404.3" cy="409.1" r="1.3"/><circle cx="402.9" cy="410.5" r="1.3"/><circle cx="408.1" cy="406.5" r="1.3"/><circle cx="406.5" cy="403.5" r="1.3"/><circle cx="417.6" cy="398.3" r="1.3"/><circle cx="418.5" cy="398.3" r="1.3"/><circle cx="418.9" cy="403.2" r="1.3"/><circle cx="420.3" cy="401.4" r="1.3"/><circle cx="405.9" cy="411.2" r="1.3"/><circle cx="406.1" cy="405.5" r="1.3"/><circle cx="420.1" cy="405" r="1.3"/><circle cx="400.4" cy="412" r="1.3"/><circle cx="416.1" cy="401" r="1.3"/><circle cx="410.7" cy="401.8" r="1.3"/><circle cx="415" cy="401.3" r="1.3"/><circle cx="415.9" cy="403.3" r="1.3"/><circle cx="415.1" cy="402.3" r="1.3"/><circle cx="402.1" cy="408.8" r="1.3"/><circle cx="395.7" cy="412.2" r="1.3"/><circle cx="423.6" cy="396.8" r="1.3"/><circle cx="421.9" cy="390.9" r="1.3"/><circle cx="410.1" cy="410.1" r="1.3"/><circle cx="414.8" cy="395.8" r="1.3"/><circle cx="397.7" cy="412.2" r="1.3"/><circle cx="408.8" cy="407.9" r="1.3"/><circle cx="412.6" cy="403.4" r="1.3"/><circle cx="416" cy="404.3" r="1.3"/><circle cx="401.6" cy="412.1" r="1.3"/><circle cx="397.8" cy="412.7" r="1.3"/><circle cx="423.8" cy="399.1" r="1.3"/><circle cx="420.5" cy="402.4" r="1.3"/><circle cx="400.4" cy="413.7" r="1.3"/><circle cx="419.7" cy="401.3" r="1.3"/><circle cx="419.4" cy="392.4" r="1.3"/><circle cx="400.4" cy="406.2" r="1.3"/><circle cx="419.1" cy="399.3" r="1.3"/><circle cx="406.5" cy="406" r="1.3"/><circle cx="405" cy="411.2" r="1.3"/><circle cx="399.8" cy="410.3" r="1.3"/><circle cx="412.7" cy="403.7" r="1.3"/><circle cx="413.4" cy="407.9" r="1.3"/><circle cx="410.3" cy="400.3" r="1.3"/><circle cx="398" cy="407.7" r="1.3"/><circle cx="418.9" cy="397.8" r="1.3"/><circle cx="404.5" cy="409.8" r="1.3"/><circle cx="402.9" cy="406.4" r="1.3"/><circle cx="414.2" cy="401.4" r="1.3"/><circle cx="400.5" cy="410.1" r="1.3"/><circle cx="422.3" cy="388.1" r="1.3"/><circle cx="414.4" cy="396.9" r="1.3"/><circle cx="418.7" cy="394.9" r="1.3"/><circle cx="405.2" cy="409.4" r="1.3"/><circle cx="407.9" cy="403" r="1.3"/><circle cx="402.5" cy="412.9" r="1.3"/><circle cx="402.5" cy="407" r="1.3"/><circle cx="407.5" cy="403.2" r="1.3"/><circle cx="418.6" cy="394.9" r="1.3"/><circle cx="410.1" cy="408.5" r="1.3"/><circle cx="420" cy="397.4" r="1.3"/><circle cx="398.4" cy="408.9" r="1.3"/><circle cx="403.7" cy="410.6" r="1.3"/><circle cx="396.1" cy="410.1" r="1.3"/><circle cx="422.4" cy="401.3" r="1.3"/><circle cx="396.9" cy="409.4" r="1.3"/><circle cx="411.3" cy="404.6" r="1.3"/><circle cx="415.2" cy="405.9" r="1.3"/><circle cx="401.1" cy="411.1" r="1.3"/><circle cx="424.4" cy="388" r="1.3"/><circle cx="424.4" cy="388.1" r="1.3"/><circle cx="402.1" cy="410.9" r="1.3"/><circle cx="399.2" cy="412.5" r="1.3"/><circle cx="414.5" cy="393.7" r="1.3"/><circle cx="410.4" cy="400.4" r="1.3"/><circle cx="413.1" cy="399.4" r="1.3"/><circle cx="413.5" cy="403.5" r="1.3"/><circle cx="423.7" cy="389.3" r="1.3"/><circle cx="418.1" cy="400.6" r="1.3"/><circle cx="404.4" cy="406" r="1.3"/><circle cx="417.4" cy="404.6" r="1.3"/><circle cx="408.5" cy="408.1" r="1.3"/><circle cx="424.3" cy="396.6" r="1.3"/><circle cx="409.3" cy="404.4" r="1.3"/><circle cx="395.3" cy="411.1" r="1.3"/><circle cx="422.5" cy="392.2" r="1.3"/><circle cx="403.3" cy="408.7" r="1.3"/><circle cx="419.6" cy="404.2" r="1.3"/><circle cx="413.3" cy="403.8" r="1.3"/><circle cx="417.3" cy="397.6" r="1.3"/><circle cx="417.2" cy="392.8" r="1.3"/><circle cx="422.2" cy="395.2" r="1.3"/><circle cx="420" cy="400" r="1.3"/><circle cx="414.4" cy="404.9" r="1.3"/><circle cx="404.8" cy="411.7" r="1.3"/><circle cx="409.8" cy="398.9" r="1.3"/><circle cx="403.4" cy="410" r="1.3"/><circle cx="405.1" cy="402.6" r="1.3"/><circle cx="408.8" cy="400.1" r="1.3"/><circle cx="407.7" cy="407" r="1.3"/><circle cx="403.7" cy="408.3" r="1.3"/><circle cx="404.1" cy="408.3" r="1.3"/><circle cx="404.3" cy="403.8" r="1.3"/><circle cx="400.7" cy="409.6" r="1.3"/><circle cx="412.5" cy="408.8" r="1.3"/><circle cx="397.8" cy="411.8" r="1.3"/><circle cx="426.1" cy="389.3" r="1.3"/><circle cx="425.6" cy="394.4" r="1.3"/><circle cx="434.6" cy="380.4" r="1.3"/><circle cx="430.2" cy="387.6" r="1.3"/><circle cx="434.2" cy="392.4" r="1.3"/><circle cx="430" cy="388.9" r="1.3"/><circle cx="432" cy="382.8" r="1.3"/><circle cx="438.9" cy="379.6" r="1.3"/><circle cx="439.8" cy="376" r="1.3"/><circle cx="425.7" cy="392.4" r="1.3"/><circle cx="440.2" cy="382.4" r="1.3"/><circle cx="433.1" cy="381.3" r="1.3"/><circle cx="436.8" cy="391.5" r="1.3"/><circle cx="439.9" cy="390" r="1.3"/><circle cx="428" cy="394.4" r="1.3"/><circle cx="431.1" cy="396.4" r="1.3"/><circle cx="439.2" cy="376" r="1.3"/><circle cx="433.3" cy="389" r="1.3"/><circle cx="439.4" cy="376.8" r="1.3"/><circle cx="438.4" cy="378.5" r="1.3"/><circle cx="441" cy="377.2" r="1.3"/><circle cx="435.6" cy="387.9" r="1.3"/><circle cx="426.1" cy="393.3" r="1.3"/><circle cx="439.4" cy="386.6" r="1.3"/><circle cx="428" cy="387.4" r="1.3"/><circle cx="427.5" cy="394.4" r="1.3"/><circle cx="430.9" cy="398.4" r="1.3"/><circle cx="428.3" cy="384.3" r="1.3"/><circle cx="427.2" cy="390.1" r="1.3"/><circle cx="435.2" cy="388" r="1.3"/><circle cx="439.6" cy="376.8" r="1.3"/><circle cx="429.2" cy="390" r="1.3"/><circle cx="431" cy="391.3" r="1.3"/><circle cx="435.3" cy="383.1" r="1.3"/><circle cx="429.8" cy="389.8" r="1.3"/><circle cx="432.9" cy="382.7" r="1.3"/><circle cx="439.6" cy="377.4" r="1.3"/><circle cx="426.9" cy="394" r="1.3"/><circle cx="433.6" cy="385.2" r="1.3"/><circle cx="428.4" cy="400.7" r="1.3"/><circle cx="437.4" cy="377.9" r="1.3"/><circle cx="428.3" cy="389.1" r="1.3"/><circle cx="438" cy="386" r="1.3"/><circle cx="431.4" cy="395.3" r="1.3"/><circle cx="439.9" cy="382.2" r="1.3"/><circle cx="430.8" cy="382.6" r="1.3"/><circle cx="432.9" cy="382.1" r="1.3"/><circle cx="426.7" cy="389.5" r="1.3"/><circle cx="429.4" cy="385.2" r="1.3"/><circle cx="431.6" cy="389.6" r="1.3"/><circle cx="439.3" cy="376.7" r="1.3"/><circle cx="434.4" cy="389.4" r="1.3"/><circle cx="438" cy="378.5" r="1.3"/><circle cx="438.7" cy="385.8" r="1.3"/><circle cx="426.4" cy="390.1" r="1.3"/><circle cx="430" cy="387.8" r="1.3"/><circle cx="438.3" cy="389.6" r="1.3"/><circle cx="437.1" cy="382.6" r="1.3"/><circle cx="434" cy="381.4" r="1.3"/><circle cx="431.5" cy="399.1" r="1.3"/><circle cx="433" cy="380.7" r="1.3"/><circle cx="425.2" cy="389.4" r="1.3"/><circle cx="427.1" cy="388.4" r="1.3"/><circle cx="430.7" cy="389.5" r="1.3"/><circle cx="427.2" cy="396.5" r="1.3"/><circle cx="428.7" cy="387.8" r="1.3"/><circle cx="437.9" cy="376.8" r="1.3"/><circle cx="437.3" cy="379.5" r="1.3"/><circle cx="436.7" cy="381.6" r="1.3"/><circle cx="434.1" cy="385.6" r="1.3"/><circle cx="439.7" cy="391.5" r="1.3"/><circle cx="428.7" cy="384.2" r="1.3"/><circle cx="434.9" cy="381.2" r="1.3"/><circle cx="431.7" cy="388.6" r="1.3"/><circle cx="440.1" cy="381.4" r="1.3"/><circle cx="430.5" cy="385.8" r="1.3"/><circle cx="428.8" cy="387.1" r="1.3"/><circle cx="437.3" cy="389.8" r="1.3"/><circle cx="438" cy="383.4" r="1.3"/><circle cx="436.5" cy="389.1" r="1.3"/><circle cx="437.5" cy="386.4" r="1.3"/><circle cx="428.1" cy="384.3" r="1.3"/><circle cx="434.7" cy="395" r="1.3"/><circle cx="433.6" cy="384.7" r="1.3"/><circle cx="439.6" cy="384.4" r="1.3"/><circle cx="431.4" cy="387.2" r="1.3"/><circle cx="428.9" cy="384.4" r="1.3"/><circle cx="429.9" cy="384.8" r="1.3"/><circle cx="433.2" cy="390.3" r="1.3"/><circle cx="440.7" cy="389.8" r="1.3"/><circle cx="436.2" cy="392.4" r="1.3"/><circle cx="436.5" cy="389.5" r="1.3"/><circle cx="432.5" cy="382" r="1.3"/><circle cx="431.3" cy="391.5" r="1.3"/><circle cx="439.9" cy="388.2" r="1.3"/><circle cx="432.2" cy="387.5" r="1.3"/><circle cx="427" cy="387.9" r="1.3"/><circle cx="437.5" cy="386.6" r="1.3"/><circle cx="428.2" cy="385.4" r="1.3"/><circle cx="431.2" cy="398.4" r="1.3"/><circle cx="434.8" cy="382.8" r="1.3"/><circle cx="438.3" cy="383.6" r="1.3"/><circle cx="425.1" cy="401.7" r="1.3"/><circle cx="435.4" cy="389.8" r="1.3"/><circle cx="427.2" cy="387.9" r="1.3"/><circle cx="435.1" cy="385.6" r="1.3"/><circle cx="434.7" cy="387.2" r="1.3"/><circle cx="433.3" cy="392.1" r="1.3"/><circle cx="431.8" cy="383.2" r="1.3"/><circle cx="433.7" cy="393.5" r="1.3"/><circle cx="440.3" cy="389.8" r="1.3"/><circle cx="430.6" cy="385" r="1.3"/><circle cx="432.5" cy="383.4" r="1.3"/><circle cx="427.4" cy="394.2" r="1.3"/><circle cx="431.2" cy="384.6" r="1.3"/><circle cx="425.8" cy="392.1" r="1.3"/><circle cx="439.6" cy="385.8" r="1.3"/><circle cx="430.5" cy="391.9" r="1.3"/><circle cx="440" cy="386.9" r="1.3"/><circle cx="427.2" cy="388.4" r="1.3"/><circle cx="411" cy="375.6" r="1.3"/><circle cx="425.4" cy="374.4" r="1.3"/><circle cx="392.6" cy="404.4" r="1.3"/><circle cx="425.6" cy="374" r="1.3"/><circle cx="411.3" cy="375.5" r="1.3"/><circle cx="441.1" cy="388.6" r="1.3"/><circle cx="440.2" cy="389.5" r="1.3"/><circle cx="440.6" cy="383.6" r="1.3"/><circle cx="442.2" cy="382.1" r="1.3"/><circle cx="440.6" cy="384.1" r="1.3"/><circle cx="442.1" cy="376.1" r="1.3"/><circle cx="441.6" cy="384.2" r="1.3"/><circle cx="441.7" cy="388.2" r="1.3"/><circle cx="441.7" cy="377.5" r="1.3"/><circle cx="441.1" cy="386.4" r="1.3"/><circle cx="440.9" cy="376" r="1.3"/><circle cx="441" cy="378.3" r="1.3"/><circle cx="441.8" cy="372.6" r="1.3"/><circle cx="440.7" cy="383.8" r="1.3"/><circle cx="441.4" cy="395.8" r="1.3"/><circle cx="441.5" cy="378.2" r="1.3"/><circle cx="441.7" cy="378.8" r="1.3"/><circle cx="441.6" cy="397.4" r="1.3"/><circle cx="440.5" cy="397.7" r="1.3"/><circle cx="442.4" cy="377.3" r="1.3"/><circle cx="441" cy="375.1" r="1.3"/><circle cx="441.8" cy="374.5" r="1.3"/><circle cx="448.1" cy="374.9" r="1.3"/><circle cx="446.9" cy="377.6" r="1.3"/><circle cx="448.2" cy="378" r="1.3"/><circle cx="454.3" cy="369.2" r="1.3"/><circle cx="454" cy="373.6" r="1.3"/><circle cx="445" cy="382.9" r="1.3"/><circle cx="456.6" cy="367.4" r="1.3"/><circle cx="456.1" cy="369.2" r="1.3"/><circle cx="457.8" cy="368.5" r="1.3"/><circle cx="447.7" cy="380.6" r="1.3"/><circle cx="454.8" cy="371.3" r="1.3"/><circle cx="452.4" cy="372.5" r="1.3"/><circle cx="454.5" cy="367.6" r="1.3"/><circle cx="457.2" cy="368.3" r="1.3"/><circle cx="445.7" cy="380.6" r="1.3"/><circle cx="456.4" cy="369.6" r="1.3"/><circle cx="456.6" cy="367.1" r="1.3"/><circle cx="453.6" cy="373.7" r="1.3"/><circle cx="450.2" cy="375.6" r="1.3"/><circle cx="452.2" cy="372.3" r="1.3"/><circle cx="446.6" cy="377.1" r="1.3"/><circle cx="455" cy="367" r="1.3"/><circle cx="452.3" cy="374.2" r="1.3"/><circle cx="452.7" cy="371.4" r="1.3"/><circle cx="454.5" cy="372.6" r="1.3"/><circle cx="446" cy="378.2" r="1.3"/><circle cx="445.3" cy="378.9" r="1.3"/><circle cx="446.3" cy="380.8" r="1.3"/><circle cx="445.7" cy="378.9" r="1.3"/><circle cx="455.8" cy="372" r="1.3"/><circle cx="455.5" cy="377.9" r="1.3"/><circle cx="461.7" cy="379.3" r="1.3"/><circle cx="461.1" cy="379" r="1.3"/><circle cx="451.4" cy="384.8" r="1.3"/><circle cx="452.2" cy="389.3" r="1.3"/><circle cx="453.6" cy="390" r="1.3"/><circle cx="447.4" cy="393.5" r="1.3"/><circle cx="447.3" cy="390.5" r="1.3"/><circle cx="460.8" cy="386.4" r="1.3"/><circle cx="458.4" cy="383.9" r="1.3"/><circle cx="457.8" cy="386.3" r="1.3"/><circle cx="460.3" cy="385.9" r="1.3"/><circle cx="460.6" cy="386.5" r="1.3"/><circle cx="462.2" cy="385.1" r="1.3"/><circle cx="459.4" cy="390.8" r="1.3"/><circle cx="460.5" cy="390.8" r="1.3"/><circle cx="462.3" cy="391.8" r="1.3"/><circle cx="467.6" cy="345.2" r="1.3"/><circle cx="467.5" cy="349.7" r="1.3"/><circle cx="466.6" cy="350.8" r="1.3"/><circle cx="467.1" cy="346.5" r="1.3"/><circle cx="467.8" cy="346.9" r="1.3"/><circle cx="467.6" cy="344.4" r="1.3"/><circle cx="467" cy="348.2" r="1.3"/><circle cx="466.9" cy="351.6" r="1.3"/><circle cx="461.1" cy="346" r="1.3"/><circle cx="462.5" cy="348.8" r="1.3"/><circle cx="464.6" cy="348.8" r="1.3"/><circle cx="464.6" cy="363.9" r="1.3"/><circle cx="452.5" cy="364.2" r="1.3"/><circle cx="460" cy="364.2" r="1.3"/><circle cx="466.5" cy="365.5" r="1.3"/><circle cx="469" cy="368" r="1.3"/><circle cx="467.5" cy="376.3" r="1.3"/><circle cx="467.7" cy="372.1" r="1.3"/><circle cx="468.2" cy="371.5" r="1.3"/><circle cx="468.1" cy="374.5" r="1.3"/><circle cx="468.6" cy="370.3" r="1.3"/><circle cx="468.2" cy="372.2" r="1.3"/><circle cx="468.4" cy="374.6" r="1.3"/><circle cx="467" cy="376.8" r="1.3"/><circle cx="467.9" cy="367.3" r="1.3"/><circle cx="469.4" cy="382.5" r="1.3"/><circle cx="471.5" cy="383.3" r="1.3"/><circle cx="473.5" cy="383.8" r="1.3"/><circle cx="475" cy="357.7" r="1.3"/><circle cx="475" cy="359.5" r="1.3"/><circle cx="475" cy="361.4" r="1.3"/><circle cx="475" cy="363.2" r="1.3"/><circle cx="478.1" cy="377.9" r="1.3"/><circle cx="478" cy="379.8" r="1.3"/><circle cx="477.7" cy="381.7" r="1.3"/><circle cx="476.8" cy="377.8" r="1.3"/><circle cx="479.3" cy="377.7" r="1.3"/><circle cx="477.9" cy="372.7" r="1.3"/><circle cx="478.9" cy="379.5" r="1.3"/><circle cx="478.1" cy="375.7" r="1.3"/><circle cx="478.6" cy="380.2" r="1.3"/><circle cx="478.6" cy="367.5" r="1.3"/><circle cx="479" cy="374.2" r="1.3"/><circle cx="478" cy="368.3" r="1.3"/><circle cx="478.3" cy="387.3" r="1.3"/><circle cx="482.6" cy="352.4" r="1.3"/><circle cx="482.1" cy="358.8" r="1.3"/><circle cx="483" cy="367.3" r="1.3"/><circle cx="483.4" cy="359.6" r="1.3"/><circle cx="481.7" cy="367.5" r="1.3"/><circle cx="483.1" cy="361.6" r="1.3"/><circle cx="482.2" cy="359.1" r="1.3"/><circle cx="481.2" cy="366.6" r="1.3"/><circle cx="480.3" cy="368.8" r="1.3"/><circle cx="481.7" cy="367.9" r="1.3"/><circle cx="482.8" cy="354.7" r="1.3"/><circle cx="482.6" cy="370.6" r="1.3"/><circle cx="481.8" cy="360.2" r="1.3"/><circle cx="482.2" cy="367.9" r="1.3"/><circle cx="482.5" cy="361" r="1.3"/><circle cx="483.1" cy="353.4" r="1.3"/><circle cx="481.7" cy="368.4" r="1.3"/><circle cx="481.6" cy="356.3" r="1.3"/><circle cx="483.3" cy="362" r="1.3"/><circle cx="482.2" cy="358.1" r="1.3"/><circle cx="481.6" cy="358.6" r="1.3"/><circle cx="483.4" cy="359.9" r="1.3"/><circle cx="482.8" cy="366.6" r="1.3"/><circle cx="481.9" cy="354.1" r="1.3"/><circle cx="481" cy="345.3" r="1.3"/><circle cx="477.6" cy="351.2" r="1.3"/><circle cx="481.2" cy="345.4" r="1.3"/><circle cx="481.2" cy="347.5" r="1.3"/><circle cx="478" cy="351.6" r="1.3"/><circle cx="483.6" cy="353" r="1.3"/><circle cx="480.8" cy="328.7" r="1.3"/><circle cx="480.8" cy="327.3" r="1.3"/><circle cx="480.5" cy="327.2" r="1.3"/><circle cx="480.6" cy="326.3" r="1.3"/><circle cx="481.2" cy="320.6" r="1.3"/><circle cx="480.9" cy="321" r="1.3"/><circle cx="480.9" cy="327.9" r="1.3"/><circle cx="477.4" cy="325.4" r="1.3"/><circle cx="481.5" cy="339.2" r="1.3"/><circle cx="476.4" cy="337.5" r="1.3"/><circle cx="475.5" cy="336.6" r="1.3"/><circle cx="480" cy="333.9" r="1.3"/><circle cx="476.1" cy="335.3" r="1.3"/><circle cx="478.1" cy="340.8" r="1.3"/><circle cx="475.5" cy="330.3" r="1.3"/><circle cx="477.4" cy="338" r="1.3"/><circle cx="472.6" cy="336.1" r="1.3"/><circle cx="476" cy="331.4" r="1.3"/><circle cx="477.5" cy="337.6" r="1.3"/><circle cx="476.6" cy="334.2" r="1.3"/><circle cx="474.6" cy="335.2" r="1.3"/><circle cx="477.1" cy="334.4" r="1.3"/><circle cx="479.1" cy="337.5" r="1.3"/><circle cx="471.6" cy="340.5" r="1.3"/><circle cx="476.4" cy="335.4" r="1.3"/><circle cx="476.3" cy="332.5" r="1.3"/><circle cx="476.5" cy="331" r="1.3"/><circle cx="474" cy="339.7" r="1.3"/><circle cx="495" cy="316.8" r="1.3"/><circle cx="500.5" cy="315.4" r="1.3"/><circle cx="493.6" cy="325.2" r="1.3"/><circle cx="491.1" cy="331.4" r="1.3"/><circle cx="501" cy="367.3" r="1.3"/><circle cx="497.5" cy="335" r="1.3"/><circle cx="499.9" cy="337" r="1.3"/><circle cx="498" cy="330.4" r="1.3"/><circle cx="499.1" cy="333.8" r="1.3"/><circle cx="498.3" cy="335.4" r="1.3"/><circle cx="500.1" cy="333.6" r="1.3"/><circle cx="498.7" cy="337.4" r="1.3"/><circle cx="500.2" cy="337.4" r="1.3"/><circle cx="499.4" cy="337.6" r="1.3"/><circle cx="501.8" cy="338.2" r="1.3"/><circle cx="498.3" cy="333.5" r="1.3"/><circle cx="499.2" cy="338.7" r="1.3"/><circle cx="499.1" cy="330.4" r="1.3"/><circle cx="499.4" cy="339.7" r="1.3"/><circle cx="501.1" cy="338.7" r="1.3"/><circle cx="499.6" cy="336.5" r="1.3"/><circle cx="500" cy="338.4" r="1.3"/><circle cx="500.8" cy="336.7" r="1.3"/><circle cx="499.9" cy="332.9" r="1.3"/><circle cx="499.9" cy="340" r="1.3"/><circle cx="498.9" cy="330.5" r="1.3"/><circle cx="500.3" cy="337.1" r="1.3"/><circle cx="495.3" cy="334.9" r="1.3"/><circle cx="493.2" cy="334.3" r="1.3"/><circle cx="494.3" cy="345.4" r="1.3"/><circle cx="496" cy="343.7" r="1.3"/><circle cx="496.6" cy="336.5" r="1.3"/><circle cx="495.4" cy="338.8" r="1.3"/><circle cx="494.1" cy="342.6" r="1.3"/><circle cx="495" cy="341.1" r="1.3"/><circle cx="493.7" cy="344.7" r="1.3"/><circle cx="497.8" cy="355.5" r="1.3"/><circle cx="499.1" cy="359.3" r="1.3"/><circle cx="491.9" cy="350.6" r="1.3"/><circle cx="501.7" cy="356.1" r="1.3"/><circle cx="500.6" cy="351.5" r="1.3"/><circle cx="501.8" cy="352.8" r="1.3"/><circle cx="499.6" cy="359.3" r="1.3"/><circle cx="496.1" cy="352.6" r="1.3"/><circle cx="495.9" cy="348.7" r="1.3"/><circle cx="490.7" cy="359.8" r="1.3"/><circle cx="497.8" cy="348.1" r="1.3"/><circle cx="497" cy="350.4" r="1.3"/><circle cx="500" cy="351.8" r="1.3"/><circle cx="490" cy="356" r="1.3"/><circle cx="501.9" cy="357" r="1.3"/><circle cx="501.5" cy="348.4" r="1.3"/><circle cx="498.6" cy="342.2" r="1.3"/><circle cx="500.2" cy="332" r="1.3"/><circle cx="499.1" cy="333.9" r="1.3"/><circle cx="502.3" cy="342.1" r="1.3"/><circle cx="502.6" cy="340.4" r="1.3"/><circle cx="502.7" cy="344.7" r="1.3"/><circle cx="498.4" cy="333.7" r="1.3"/><circle cx="504.8" cy="344" r="1.3"/><circle cx="502" cy="342.5" r="1.3"/><circle cx="501.8" cy="334.2" r="1.3"/><circle cx="501.1" cy="333.2" r="1.3"/><circle cx="496.9" cy="334.8" r="1.3"/><circle cx="506.3" cy="343.3" r="1.3"/><circle cx="507.5" cy="345.8" r="1.3"/><circle cx="509" cy="348.1" r="1.3"/><circle cx="508.7" cy="329.7" r="1.3"/><circle cx="508.8" cy="330.8" r="1.3"/><circle cx="508.8" cy="337.9" r="1.3"/><circle cx="508.8" cy="338.8" r="1.3"/><circle cx="509.2" cy="335.8" r="1.3"/><circle cx="511" cy="322.9" r="1.3"/><circle cx="512.5" cy="322.4" r="1.3"/><circle cx="514" cy="322.5" r="1.3"/><circle cx="515.5" cy="322.1" r="1.3"/><circle cx="516.9" cy="322.9" r="1.3"/><circle cx="518.4" cy="321.8" r="1.3"/><circle cx="519.9" cy="321.3" r="1.3"/><circle cx="521.4" cy="322.3" r="1.3"/><circle cx="516.6" cy="323.7" r="1.3"/><circle cx="518.1" cy="327.7" r="1.3"/><circle cx="518.7" cy="331.5" r="1.3"/><circle cx="518.1" cy="334.5" r="1.3"/><circle cx="518.6" cy="333.8" r="1.3"/><circle cx="517.8" cy="322.5" r="1.3"/><circle cx="518.3" cy="332" r="1.3"/><circle cx="517.9" cy="323" r="1.3"/><circle cx="518.3" cy="325.9" r="1.3"/><circle cx="517.9" cy="324.1" r="1.3"/><circle cx="514" cy="325" r="1.3"/><circle cx="515.5" cy="326.3" r="1.3"/><circle cx="515.2" cy="310.3" r="1.3"/><circle cx="520" cy="310.3" r="1.3"/><circle cx="515.2" cy="313" r="1.3"/><circle cx="511" cy="306.2" r="1.3"/><circle cx="517" cy="301.6" r="1.3"/><circle cx="517.9" cy="301.6" r="1.3"/><circle cx="517.2" cy="295.5" r="1.3"/><circle cx="517.5" cy="302.7" r="1.3"/><circle cx="517.5" cy="296.5" r="1.3"/><circle cx="517.1" cy="296.5" r="1.3"/><circle cx="516.8" cy="295.4" r="1.3"/><circle cx="492.5" cy="260.4" r="1.3"/><circle cx="493.1" cy="262.1" r="1.3"/><circle cx="493" cy="261.5" r="1.3"/><circle cx="492.7" cy="282.4" r="1.3"/><circle cx="498.3" cy="290.5" r="1.3"/><circle cx="503.5" cy="273.7" r="1.3"/><circle cx="499.8" cy="275.9" r="1.3"/><circle cx="499.6" cy="268.6" r="1.3"/><circle cx="500.4" cy="265.7" r="1.3"/><circle cx="499.6" cy="266.6" r="1.3"/><circle cx="499.8" cy="264.3" r="1.3"/><circle cx="500.4" cy="268.3" r="1.3"/><circle cx="500.1" cy="268.6" r="1.3"/><circle cx="499.1" cy="277.6" r="1.3"/><circle cx="500.7" cy="269.9" r="1.3"/><circle cx="499.3" cy="279.7" r="1.3"/><circle cx="499.2" cy="268.7" r="1.3"/><circle cx="500" cy="283.5" r="1.3"/><circle cx="499" cy="262.1" r="1.3"/><circle cx="499.5" cy="260.5" r="1.3"/><circle cx="500.3" cy="277.5" r="1.3"/><circle cx="500" cy="275.1" r="1.3"/><circle cx="499.8" cy="275.3" r="1.3"/><circle cx="500.5" cy="274.6" r="1.3"/><circle cx="499.5" cy="271.5" r="1.3"/><circle cx="499.3" cy="270.9" r="1.3"/><circle cx="500.4" cy="280.6" r="1.3"/><circle cx="500.6" cy="264.4" r="1.3"/><circle cx="499.8" cy="267.9" r="1.3"/><circle cx="500.1" cy="264.2" r="1.3"/><circle cx="500.1" cy="270.4" r="1.3"/><circle cx="499.7" cy="271.4" r="1.3"/><circle cx="498.7" cy="262.6" r="1.3"/><circle cx="500.1" cy="283.6" r="1.3"/><circle cx="499.6" cy="271.8" r="1.3"/><circle cx="499.9" cy="273.7" r="1.3"/><circle cx="495.5" cy="276" r="1.3"/><circle cx="495.5" cy="279.7" r="1.3"/><circle cx="494.2" cy="264.8" r="1.3"/><circle cx="495.5" cy="267.9" r="1.3"/><circle cx="536.8" cy="260.2" r="1.3"/><circle cx="536.8" cy="274.9" r="1.3"/><circle cx="536.8" cy="276.6" r="1.3"/><circle cx="536.8" cy="278.4" r="1.3"/><circle cx="536.8" cy="283" r="1.3"/><circle cx="536.8" cy="285.5" r="1.3"/><circle cx="536.8" cy="293.1" r="1.3"/><circle cx="536.8" cy="297.7" r="1.3"/><circle cx="536.3" cy="330.7" r="1.3"/></g>
<path d="M340 403 L342.5 405.6 L345 407.8 L347.5 409.7 L350 411.4 L352.5 412.8 L354.9 413.9 L357.4 414.9 L359.9 415.7 L362.4 416.3 L364.9 416.7 L367.4 417 L369.9 417.2 L372.4 417.2 L374.9 417.1 L377.4 416.9 L379.9 416.6 L382.3 416.2 L384.8 415.7 L387.3 415.2 L389.8 414.5 L392.3 413.8 L394.8 413 L397.3 412.1 L399.8 411.1 L402.3 410 L404.8 408.8 L407.3 407.4 L409.8 406 L412.2 404.4 L414.7 402.6 L417.2 400.8 L419.7 398.8 L422.2 396.8 L424.7 394.6 L427.2 392.5 L429.7 390.3 L432.2 388.1 L434.7 385.9 L437.2 383.7 L439.6 381.4 L442.1 379 L444.6 376.6 L447.1 374.1 L449.6 371.5 L452.1 368.8 L454.6 366.1 L457.1 363.3 L459.6 360.5 L462.1 357.6 L464.6 354.8 L467 352 L469.5 349.3 L472 346.5 L474.5 343.8 L477 341 L479.5 338.3 L482 335.5 L484.5 332.7 L487 329.9 L489.5 327.2 L492 324.4 L494.5 321.6 L496.9 318.9 L499.4 316.3 L501.9 313.7 L504.4 311.2 L506.9 308.7 L509.4 306.3 L511.9 303.9 L514.4 301.4 L516.9 299 L519.4 296.4 L521.9 293.9 L524.3 291.5 L526.8 289.1 L529.3 286.8 L531.8 284.7 L534.3 282.6 L536.8 280.8 L536.8 290.2 L534.3 291.3 L531.8 292.6 L529.3 294.1 L526.8 295.9 L524.3 297.7 L521.9 299.7 L519.4 301.8 L516.9 304 L514.4 306.1 L511.9 308.3 L509.4 310.4 L506.9 312.6 L504.4 314.8 L501.9 317.1 L499.4 319.5 L496.9 322 L494.5 324.6 L492 327.2 L489.5 329.8 L487 332.5 L484.5 335.2 L482 337.9 L479.5 340.6 L477 343.3 L474.5 346 L472 348.6 L469.5 351.4 L467 354.1 L464.6 356.8 L462.1 359.6 L459.6 362.4 L457.1 365.2 L454.6 367.9 L452.1 370.6 L449.6 373.3 L447.1 375.9 L444.6 378.4 L442.1 380.8 L439.6 383.1 L437.2 385.4 L434.7 387.6 L432.2 389.8 L429.7 392 L427.2 394.2 L424.7 396.3 L422.2 398.4 L419.7 400.5 L417.2 402.4 L414.7 404.3 L412.2 406 L409.8 407.6 L407.3 409.1 L404.8 410.4 L402.3 411.6 L399.8 412.7 L397.3 413.7 L394.8 414.6 L392.3 415.4 L389.8 416.2 L387.3 416.8 L384.8 417.4 L382.3 417.9 L379.9 418.4 L377.4 418.7 L374.9 418.9 L372.4 419.1 L369.9 419.1 L367.4 419 L364.9 418.9 L362.4 418.6 L359.9 418.2 L357.4 417.6 L354.9 417 L352.5 416.2 L350 415.3 L347.5 414.4 L345 413.3 L342.5 412.2 L340 411Z" fill="#ff0000" fill-opacity="0.21"/>
<path d="M340 407 L342.5 408.9 L345 410.6 L347.5 412.1 L350 413.4 L352.5 414.5 L354.9 415.5 L357.4 416.3 L359.9 416.9 L362.4 417.4 L364.9 417.8 L367.4 418 L369.9 418.1 L372.4 418.1 L374.9 418 L377.4 417.8 L379.9 417.5 L382.3 417.1 L384.8 416.6 L387.3 416 L389.8 415.3 L392.3 414.6 L394.8 413.8 L397.3 412.9 L399.8 411.9 L402.3 410.8 L404.8 409.6 L407.3 408.3 L409.8 406.8 L412.2 405.2 L414.7 403.4 L417.2 401.6 L419.7 399.6 L422.2 397.6 L424.7 395.5 L427.2 393.3 L429.7 391.2 L432.2 389 L434.7 386.8 L437.2 384.5 L439.6 382.3 L442.1 379.9 L444.6 377.5 L447.1 375 L449.6 372.4 L452.1 369.7 L454.6 367 L457.1 364.2 L459.6 361.4 L462.1 358.6 L464.6 355.8 L467 353.1 L469.5 350.3 L472 347.6 L474.5 344.9 L477 342.1 L479.5 339.4 L482 336.7 L484.5 334 L487 331.2 L489.5 328.5 L492 325.8 L494.5 323.1 L496.9 320.4 L499.4 317.9 L501.9 315.4 L504.4 313 L506.9 310.7 L509.4 308.4 L511.9 306.1 L514.4 303.8 L516.9 301.5 L519.4 299.1 L521.9 296.8 L524.3 294.6 L526.8 292.5 L529.3 290.5 L531.8 288.6 L534.3 287 L536.8 285.5" fill="none" stroke="#ee2030" stroke-width="0.95"/>
<rect x="333.4" y="255" width="92.6" height="19.6" rx="1.2" fill="#f0f0f6" fill-opacity="0.82" stroke="#d6d6e0" stroke-width="0.5"/>
<line x1="336" y1="259.6" x2="349" y2="259.6" stroke="#ee2030" stroke-width="0.9"/>
<rect x="336" y="267" width="13" height="4.4" fill="#f4b4bc"/>
<text class="lg" font-size="6.34" x="354" y="261.85">Polynomial Fit</text>
<text class="lg" font-size="6.34" x="354" y="271.25">95% Confidence Interval</text>
<text class="r2" font-size="6.77" x="332.6" y="285"><tspan font-style="italic">R</tspan><tspan dy="-2.44" font-size="4.74">2</tspan><tspan dy="2.44"> = 0.9415</tspan></text>
</g></svg></body></html>
